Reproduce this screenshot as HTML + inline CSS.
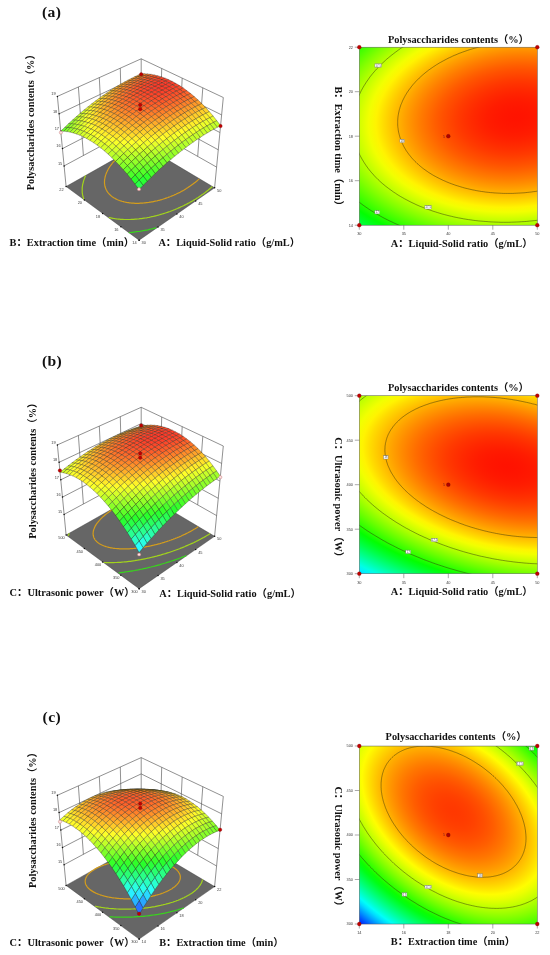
<!DOCTYPE html>
<html lang="en"><head><meta charset="utf-8"><title>Response surface and contour plots</title>
<style>html,body{margin:0;padding:0;background:#fff}svg{display:block}</style></head>
<body>
<svg width="550" height="955" viewBox="0 0 550 955">
<rect width="550" height="955" fill="#fff"/>
<text x="42.0" y="17.4" font-family="Liberation Serif, Noto Sans CJK SC, serif" font-weight="bold" font-size="15.6" letter-spacing="0.35" fill="#111">(a)</text>
<text x="42.0" y="365.7" font-family="Liberation Serif, Noto Sans CJK SC, serif" font-weight="bold" font-size="15.6" letter-spacing="0.35" fill="#111">(b)</text>
<text x="42.6" y="721.7" font-family="Liberation Serif, Noto Sans CJK SC, serif" font-weight="bold" font-size="15.6" letter-spacing="0.35" fill="#111">(c)</text>
<polygon points="57.4,96.4 141.2,58.8 223.3,97.5 214.6,187.8 141.2,144.1 66.1,186.5" fill="#fff" stroke="none"/>
<path d="M64.1,165.9L141.2,124.4L216.6,167.1M62.5,148.6L141.2,107.9L218.3,149.8M60.8,131.3L141.2,91.6L219.9,132.5M59.1,113.8L141.2,75.1L221.6,114.9M57.4,96.4L141.2,58.8L223.3,97.5M83.4,155.5L78.4,87.0M160.0,135.1L161.7,68.5M102.7,145.1L99.3,77.6M178.9,145.8L182.2,78.1M121.9,134.8L120.3,68.2M197.7,156.4L202.8,87.8M66.1,186.5L57.4,96.4M141.2,144.1L141.2,58.8M214.6,187.8L223.3,97.5" fill="none" stroke="#555" stroke-width="0.65"/>
<polygon points="66.1,186.5 141.2,144.1 214.6,187.8 139.1,240.2" fill="#666666" stroke="#333" stroke-width="0.4"/>
<polyline points="156.2,227.8 154.6,228.2 153.0,228.6 151.3,229.0 149.7,229.4 148.1,229.8 146.5,230.1 144.8,230.4 143.2,230.7 141.6,231.0 140.0,231.3 138.4,231.5 136.8,231.7 135.2,231.9 133.6,232.1 132.0,232.3 130.4,232.5 128.8,232.6" fill="none" stroke="#39d41c" stroke-width="1.2"/>
<polyline points="83.9,199.3 83.6,198.6 83.4,197.9 83.2,197.2 83.0,196.5 82.8,195.8 82.7,195.1 82.5,194.4 82.4,193.7 82.3,193.0 82.2,192.3 82.2,191.5 82.2,190.8 82.2,190.1 82.2,189.3 82.2,188.6 82.2,187.8 82.3,187.1 82.4,186.3 82.5,185.6 82.6,184.8 82.8,184.0 83.0,183.3 83.2,182.5 83.4,181.7 83.6,180.9 83.8,180.2 84.1,179.4 84.4,178.6 84.7,177.8 85.0,177.1 85.3,176.3 85.7,175.5" fill="none" stroke="#a2d41c" stroke-width="1.2"/>
<polyline points="212.3,186.5 211.5,187.3 210.6,188.0 209.7,188.8 208.9,189.5 208.0,190.3 207.0,191.0 206.1,191.7 205.2,192.5 204.2,193.2 203.2,193.9 202.3,194.6 201.3,195.3 200.2,196.0 199.2,196.7 198.2,197.4 197.1,198.1 196.0,198.8 195.0,199.4 193.9,200.1 192.8,200.8 191.7,201.4 190.5,202.0 189.4,202.7 188.2,203.3 187.1,203.9 185.9,204.5 184.7,205.1 183.5,205.7 182.3,206.3 181.1,206.8 179.9,207.4 178.7,207.9 177.5,208.5 176.2,209.0 175.0,209.5 173.7,210.0 172.5,210.5 171.2,211.0 169.9,211.5 168.6,211.9 167.4,212.4 166.1,212.8 164.8,213.2 163.5,213.6 162.2,214.0 160.9,214.4 159.6,214.8 158.3,215.2 157.0,215.5 155.7,215.8 154.4,216.1 153.1,216.5 151.8,216.7 150.5,217.0 149.2,217.3 147.9,217.5 146.6,217.8 145.3,218.0 144.0,218.2 142.7,218.4 141.4,218.6 140.1,218.7 138.9,218.9 137.6,219.0 136.3,219.1 135.1,219.2 133.8,219.3 132.6,219.4 131.3,219.4 130.1,219.5 128.9,219.5 127.7,219.5 126.5,219.5 125.3,219.5 124.1,219.5 122.9,219.4 121.8,219.4 120.6,219.3 119.5,219.2 118.3,219.1 117.2,219.0 116.1,218.8 115.0,218.7 113.9,218.5 112.9,218.3 111.8,218.1 110.8,217.9 109.8,217.7 108.7,217.5" fill="none" stroke="#a2d41c" stroke-width="1.2"/>
<polyline points="199.3,178.8 198.7,179.4 198.1,179.9 197.5,180.4 196.9,181.0 196.3,181.5 195.6,182.0 195.0,182.6 194.3,183.1 193.6,183.6 193.0,184.1 192.3,184.6 191.6,185.1 190.9,185.6 190.2,186.1 189.4,186.6 188.7,187.1 188.0,187.6 187.2,188.1 186.4,188.6 185.7,189.0 184.9,189.5 184.1,190.0 183.3,190.4 182.5,190.9 181.7,191.3 180.9,191.7 180.1,192.2 179.3,192.6 178.4,193.0 177.6,193.4 176.7,193.8 175.9,194.2 175.0,194.6 174.2,195.0 173.3,195.4 172.4,195.7 171.5,196.1 170.6,196.5 169.8,196.8 168.9,197.1 168.0,197.5 167.1,197.8 166.2,198.1 165.3,198.4 164.4,198.7 163.5,199.0 162.6,199.3 161.6,199.6 160.7,199.8 159.8,200.1 158.9,200.3 158.0,200.5 157.1,200.8 156.2,201.0 155.2,201.2 154.3,201.4 153.4,201.6 152.5,201.8 151.6,201.9 150.7,202.1 149.8,202.2 148.9,202.4 148.0,202.5 147.1,202.6 146.2,202.7 145.3,202.8 144.4,202.9 143.5,203.0 142.6,203.1 141.7,203.1 140.9,203.2 140.0,203.2 139.1,203.3 138.3,203.3 137.4,203.3 136.6,203.3 135.7,203.3 134.9,203.3 134.1,203.2 133.3,203.2 132.5,203.1 131.7,203.1 130.9,203.0 130.1,202.9 129.3,202.8 128.5,202.7 127.8,202.6 127.0,202.5 126.3,202.3 125.5,202.2 124.8,202.0 124.1,201.9 123.4,201.7 122.7,201.5 122.0,201.3 121.4,201.1 120.7,200.9 120.1,200.7 119.4,200.5 118.8,200.2 118.2,200.0 117.6,199.7 117.0,199.5 116.4,199.2 115.8,198.9 115.3,198.6 114.8,198.3 114.2,198.0 114.2,198.0 113.7,197.7 113.2,197.4 112.7,197.1 112.2,196.7 111.8,196.4 111.3,196.0 110.9,195.6 110.5,195.3 110.1,194.9 109.7,194.5 109.3,194.1 108.9,193.7 108.6,193.3 108.2,192.9 107.9,192.5 107.6,192.1 107.3,191.6 107.0,191.2 106.8,190.7 106.5,190.3 106.3,189.8 106.1,189.4 105.9,188.9 105.7,188.4 105.5,188.0 105.3,187.5 105.2,187.0 105.0,186.5 104.9,186.0 104.8,185.5 104.7,185.0 104.7,184.5 104.6,184.0 104.5,183.5 104.5,182.9 104.5,182.4 104.5,181.9 104.5,181.4 104.5,180.8 104.6,180.3 104.6,179.8 104.7,179.2 104.8,178.7 104.9,178.1 105.0,177.6 105.1,177.1 105.2,176.5 105.4,176.0 105.5,175.4 105.7,174.9 105.9,174.3 106.1,173.7 106.3,173.2 106.6,172.6 106.8,172.1 107.1,171.5 107.3,171.0 107.6,170.4 107.9,169.8 108.2,169.3 108.5,168.7 108.8,168.2 109.2,167.6 109.5,167.1 109.9,166.5 110.3,166.0 110.7,165.4 111.1,164.9 111.5,164.3 111.9,163.8 112.3,163.2 112.8,162.7 113.2,162.1 113.7,161.6 114.2,161.1 114.6,160.5 115.1,160.0 115.6,159.5 116.2,158.9 116.7,158.4 117.2,157.9 117.7,157.4" fill="none" stroke="#d49d1c" stroke-width="1.2"/>
<circle cx="64.1" cy="165.9" r="0.75" fill="#111"/>
<text x="60.1" y="164.6" font-family="Liberation Sans, sans-serif" font-size="3.9" fill="#3a3a3a" text-anchor="middle">15</text>
<circle cx="62.5" cy="148.6" r="0.75" fill="#111"/>
<text x="58.5" y="147.3" font-family="Liberation Sans, sans-serif" font-size="3.9" fill="#3a3a3a" text-anchor="middle">16</text>
<circle cx="60.8" cy="131.3" r="0.75" fill="#111"/>
<text x="56.8" y="130.0" font-family="Liberation Sans, sans-serif" font-size="3.9" fill="#3a3a3a" text-anchor="middle">17</text>
<circle cx="59.1" cy="113.8" r="0.75" fill="#111"/>
<text x="55.1" y="112.5" font-family="Liberation Sans, sans-serif" font-size="3.9" fill="#3a3a3a" text-anchor="middle">18</text>
<circle cx="57.4" cy="96.4" r="0.75" fill="#111"/>
<text x="53.4" y="95.1" font-family="Liberation Sans, sans-serif" font-size="3.9" fill="#3a3a3a" text-anchor="middle">19</text>
<circle cx="66.1" cy="186.5" r="0.75" fill="#111"/>
<text x="61.5" y="190.6" font-family="Liberation Sans, sans-serif" font-size="3.9" fill="#3a3a3a" text-anchor="middle">22</text>
<circle cx="84.4" cy="200.0" r="0.75" fill="#111"/>
<text x="79.8" y="204.1" font-family="Liberation Sans, sans-serif" font-size="3.9" fill="#3a3a3a" text-anchor="middle">20</text>
<circle cx="102.6" cy="213.4" r="0.75" fill="#111"/>
<text x="98.0" y="217.5" font-family="Liberation Sans, sans-serif" font-size="3.9" fill="#3a3a3a" text-anchor="middle">18</text>
<circle cx="120.9" cy="226.8" r="0.75" fill="#111"/>
<text x="116.3" y="230.9" font-family="Liberation Sans, sans-serif" font-size="3.9" fill="#3a3a3a" text-anchor="middle">16</text>
<circle cx="139.1" cy="240.2" r="0.75" fill="#111"/>
<text x="134.5" y="244.3" font-family="Liberation Sans, sans-serif" font-size="3.9" fill="#3a3a3a" text-anchor="middle">14</text>
<circle cx="139.1" cy="240.2" r="0.75" fill="#111"/>
<text x="143.7" y="244.3" font-family="Liberation Sans, sans-serif" font-size="3.9" fill="#3a3a3a" text-anchor="middle">30</text>
<circle cx="158.0" cy="227.1" r="0.75" fill="#111"/>
<text x="162.6" y="231.2" font-family="Liberation Sans, sans-serif" font-size="3.9" fill="#3a3a3a" text-anchor="middle">35</text>
<circle cx="176.9" cy="214.0" r="0.75" fill="#111"/>
<text x="181.5" y="218.1" font-family="Liberation Sans, sans-serif" font-size="3.9" fill="#3a3a3a" text-anchor="middle">40</text>
<circle cx="195.7" cy="200.9" r="0.75" fill="#111"/>
<text x="200.3" y="205.0" font-family="Liberation Sans, sans-serif" font-size="3.9" fill="#3a3a3a" text-anchor="middle">45</text>
<circle cx="214.6" cy="187.8" r="0.75" fill="#111"/>
<text x="219.2" y="191.9" font-family="Liberation Sans, sans-serif" font-size="3.9" fill="#3a3a3a" text-anchor="middle">50</text>
<g stroke="#262618" stroke-width="0.4" stroke-opacity="0.8" stroke-linejoin="round">
<path d="M141.1,75.3L144.5,73.8L141.2,73.9L137.8,75.3z" fill="#ffa029"/>
<path d="M137.7,76.9L141.1,75.3L137.8,75.3L134.4,76.9z" fill="#ff9f29"/>
<path d="M144.5,75.5L147.9,74.0L144.5,73.8L141.1,75.3z" fill="#ff8929"/>
<path d="M134.3,78.6L137.7,76.9L134.4,76.9L131.0,78.6z" fill="#ffa029"/>
<path d="M141.1,77.1L144.5,75.5L141.1,75.3L137.7,76.9z" fill="#ff8829"/>
<path d="M147.9,75.9L151.3,74.4L147.9,74.0L144.5,75.5z" fill="#ff7529"/>
<path d="M130.8,80.4L134.3,78.6L131.0,78.6L127.5,80.4z" fill="#ffa129"/>
<path d="M137.6,78.8L141.1,77.1L137.7,76.9L134.3,78.6z" fill="#ff8829"/>
<path d="M144.4,77.5L147.9,75.9L144.5,75.5L141.1,77.1z" fill="#ff7429"/>
<path d="M127.3,82.3L130.8,80.4L127.5,80.4L124.0,82.3z" fill="#ffa429"/>
<path d="M151.3,76.6L154.7,75.1L151.3,74.4L147.9,75.9z" fill="#ff6429"/>
<path d="M134.1,80.6L137.6,78.8L134.3,78.6L130.8,80.4z" fill="#ff8a29"/>
<path d="M141.0,79.2L144.4,77.5L141.1,77.1L137.6,78.8z" fill="#ff7429"/>
<path d="M123.8,84.3L127.3,82.3L124.0,82.3L120.5,84.3z" fill="#ffa829"/>
<path d="M147.9,78.2L151.3,76.6L147.9,75.9L144.4,77.5z" fill="#ff6229"/>
<path d="M154.7,77.4L158.1,75.9L154.7,75.1L151.3,76.6z" fill="#ff5629"/>
<path d="M130.6,82.5L134.1,80.6L130.8,80.4L127.3,82.3z" fill="#ff8c29"/>
<path d="M137.5,81.0L141.0,79.2L137.6,78.8L134.1,80.6z" fill="#ff7529"/>
<path d="M120.2,86.4L123.8,84.3L120.5,84.3L116.9,86.4z" fill="#ffae29"/>
<path d="M144.4,79.9L147.9,78.2L144.4,77.5L141.0,79.2z" fill="#ff6229"/>
<path d="M127.1,84.5L130.6,82.5L127.3,82.3L123.8,84.3z" fill="#ff9029"/>
<path d="M151.3,79.0L154.7,77.4L151.3,76.6L147.9,78.2z" fill="#ff5429"/>
<path d="M158.2,78.5L161.6,76.9L158.1,75.9L154.7,77.4z" fill="#ff4b29"/>
<path d="M116.6,88.6L120.2,86.4L116.9,86.4L113.4,88.6z" fill="#ffb429"/>
<path d="M134.0,82.9L137.5,81.0L134.1,80.6L130.6,82.5z" fill="#ff7829"/>
<path d="M140.9,81.7L144.4,79.9L141.0,79.2L137.5,81.0z" fill="#ff6429"/>
<path d="M123.5,86.6L127.1,84.5L123.8,84.3L120.2,86.4z" fill="#ff9629"/>
<path d="M147.8,80.7L151.3,79.0L147.9,78.2L144.4,79.9z" fill="#ff5429"/>
<path d="M113.0,90.9L116.6,88.6L113.4,88.6L109.8,90.9z" fill="#ffbc29"/>
<path d="M154.8,80.1L158.2,78.5L154.7,77.4L151.3,79.0z" fill="#ff4929"/>
<path d="M130.4,84.9L134.0,82.9L130.6,82.5L127.1,84.5z" fill="#ff7c29"/>
<path d="M161.8,79.7L165.2,78.2L161.6,76.9L158.2,78.5z" fill="#ff4329"/>
<path d="M137.4,83.6L140.9,81.7L137.5,81.0L134.0,82.9z" fill="#ff6629"/>
<path d="M119.9,88.8L123.5,86.6L120.2,86.4L116.6,88.6z" fill="#ff9c29"/>
<path d="M144.3,82.5L147.8,80.7L144.4,79.9L140.9,81.7z" fill="#ff5529"/>
<path d="M109.3,93.3L113.0,90.9L109.8,90.9L106.1,93.4z" fill="#ffc629"/>
<path d="M151.3,81.8L154.8,80.1L151.3,79.0L147.8,80.7z" fill="#ff4929"/>
<path d="M126.8,87.0L130.4,84.9L127.1,84.5L123.5,86.6z" fill="#ff8129"/>
<path d="M158.3,81.3L161.8,79.7L158.2,78.5L154.8,80.1z" fill="#ff4129"/>
<path d="M165.3,81.2L168.7,79.7L165.2,78.2L161.8,79.7z" fill="#ff3e29"/>
<path d="M116.2,91.1L119.9,88.8L116.6,88.6L113.0,90.9z" fill="#ffa429"/>
<path d="M133.8,85.6L137.4,83.6L134.0,82.9L130.4,84.9z" fill="#ff6a29"/>
<path d="M105.6,95.8L109.3,93.3L106.1,93.4L102.5,95.9z" fill="#ffd029"/>
<path d="M140.8,84.4L144.3,82.5L140.9,81.7L137.4,83.6z" fill="#ff5729"/>
<path d="M123.2,89.3L126.8,87.0L123.5,86.6L119.9,88.8z" fill="#ff8729"/>
<path d="M147.8,83.6L151.3,81.8L147.8,80.7L144.3,82.5z" fill="#ff4a29"/>
<path d="M154.9,83.1L158.3,81.3L154.8,80.1L151.3,81.8z" fill="#ff4129"/>
<path d="M112.6,93.5L116.2,91.1L113.0,90.9L109.3,93.3z" fill="#ffad29"/>
<path d="M161.9,82.9L165.3,81.2L161.8,79.7L158.3,81.3z" fill="#ff3c29"/>
<path d="M168.9,83.0L172.3,81.4L168.7,79.7L165.3,81.2z" fill="#ff3c29"/>
<path d="M130.2,87.7L133.8,85.6L130.4,84.9L126.8,87.0z" fill="#ff6f29"/>
<path d="M101.9,98.5L105.6,95.8L102.5,95.9L98.8,98.5z" fill="#ffdc29"/>
<path d="M137.2,86.4L140.8,84.4L137.4,83.6L133.8,85.6z" fill="#ff5b29"/>
<path d="M119.6,91.6L123.2,89.3L119.9,88.8L116.2,91.1z" fill="#ff8f29"/>
<path d="M144.3,85.5L147.8,83.6L144.3,82.5L140.8,84.4z" fill="#ff4c29"/>
<path d="M108.9,96.1L112.6,93.5L109.3,93.3L105.6,95.8z" fill="#ffb729"/>
<path d="M151.3,84.9L154.9,83.1L151.3,81.8L147.8,83.6z" fill="#ff4129"/>
<path d="M126.6,89.9L130.2,87.7L126.8,87.0L123.2,89.3z" fill="#ff7529"/>
<path d="M98.2,101.3L101.9,98.5L98.8,98.5L95.1,101.3z" fill="#ffe929"/>
<path d="M158.4,84.6L161.9,82.9L158.3,81.3L154.9,83.1z" fill="#ff3b29"/>
<path d="M172.5,84.9L175.9,83.4L172.3,81.4L168.9,83.0z" fill="#ff3d29"/>
<path d="M165.5,84.6L168.9,83.0L165.3,81.2L161.9,82.9z" fill="#ff3a29"/>
<path d="M133.6,88.6L137.2,86.4L133.8,85.6L130.2,87.7z" fill="#ff6029"/>
<path d="M115.9,94.0L119.6,91.6L116.2,91.1L112.6,93.5z" fill="#ff9829"/>
<path d="M140.7,87.5L144.3,85.5L140.8,84.4L137.2,86.4z" fill="#ff4f29"/>
<path d="M105.2,98.7L108.9,96.1L105.6,95.8L101.9,98.5z" fill="#ffc329"/>
<path d="M94.5,104.2L98.2,101.3L95.1,101.3L91.3,104.2z" fill="#fff729"/>
<path d="M122.9,92.2L126.6,89.9L123.2,89.3L119.6,91.6z" fill="#ff7d29"/>
<path d="M147.8,86.8L151.3,84.9L147.8,83.6L144.3,85.5z" fill="#ff4329"/>
<path d="M176.2,87.1L179.6,85.6L175.9,83.4L172.5,84.9z" fill="#ff4229"/>
<path d="M154.9,86.4L158.4,84.6L154.9,83.1L151.3,84.9z" fill="#ff3c29"/>
<path d="M169.1,86.6L172.5,84.9L168.9,83.0L165.5,84.6z" fill="#ff3b29"/>
<path d="M162.0,86.3L165.5,84.6L161.9,82.9L158.4,84.6z" fill="#ff3929"/>
<path d="M112.2,96.5L115.9,94.0L112.6,93.5L108.9,96.1z" fill="#ffa229"/>
<path d="M130.0,90.8L133.6,88.6L130.2,87.7L126.6,89.9z" fill="#ff6629"/>
<path d="M101.4,101.5L105.2,98.7L101.9,98.5L98.2,101.3z" fill="#ffd029"/>
<path d="M90.7,107.1L94.5,104.2L91.3,104.2L87.6,107.2z" fill="#f8ff29"/>
<path d="M137.1,89.7L140.7,87.5L137.2,86.4L133.6,88.6z" fill="#ff5429"/>
<path d="M119.2,94.7L122.9,92.2L119.6,91.6L115.9,94.0z" fill="#ff8529"/>
<path d="M144.2,88.8L147.8,86.8L144.3,85.5L140.7,87.5z" fill="#ff4729"/>
<path d="M179.9,89.6L183.3,88.0L179.6,85.6L176.2,87.1z" fill="#ff4929"/>
<path d="M151.4,88.3L154.9,86.4L151.3,84.9L147.8,86.8z" fill="#ff3e29"/>
<path d="M108.5,99.2L112.2,96.5L108.9,96.1L105.2,98.7z" fill="#ffad29"/>
<path d="M172.8,88.8L176.2,87.1L172.5,84.9L169.1,86.6z" fill="#ff4029"/>
<path d="M158.5,88.2L162.0,86.3L158.4,84.6L154.9,86.4z" fill="#ff3a29"/>
<path d="M165.6,88.3L169.1,86.6L165.5,84.6L162.0,86.3z" fill="#ff3a29"/>
<path d="M126.3,93.1L130.0,90.8L126.6,89.9L122.9,92.2z" fill="#ff6d29"/>
<path d="M86.9,110.3L90.7,107.1L87.6,107.2L83.8,110.2z" fill="#e7ff29"/>
<path d="M97.7,104.4L101.4,101.5L98.2,101.3L94.5,104.2z" fill="#ffde29"/>
<path d="M133.5,91.9L137.1,89.7L133.6,88.6L130.0,90.8z" fill="#ff5a29"/>
<path d="M115.5,97.2L119.2,94.7L115.9,94.0L112.2,96.5z" fill="#ff8f29"/>
<path d="M140.6,91.0L144.2,88.8L140.7,87.5L137.1,89.7z" fill="#ff4b29"/>
<path d="M183.6,92.2L186.9,90.7L183.3,88.0L179.9,89.6z" fill="#ff5429"/>
<path d="M104.7,101.9L108.5,99.2L105.2,98.7L101.4,101.5z" fill="#ffba29"/>
<path d="M83.1,113.5L86.9,110.3L83.8,110.2L80.0,113.4z" fill="#d5ff29"/>
<path d="M93.9,107.4L97.7,104.4L94.5,104.2L90.7,107.1z" fill="#ffed29"/>
<path d="M147.8,90.4L151.4,88.3L147.8,86.8L144.2,88.8z" fill="#ff4129"/>
<path d="M176.4,91.2L179.9,89.6L176.2,87.1L172.8,88.8z" fill="#ff4729"/>
<path d="M122.6,95.6L126.3,93.1L122.9,92.2L119.2,94.7z" fill="#ff7629"/>
<path d="M155.0,90.1L158.5,88.2L154.9,86.4L151.4,88.3z" fill="#ff3c29"/>
<path d="M169.3,90.5L172.8,88.8L169.1,86.6L165.6,88.3z" fill="#ff3f29"/>
<path d="M162.1,90.2L165.6,88.3L162.0,86.3L158.5,88.2z" fill="#ff3b29"/>
<path d="M129.8,94.2L133.5,91.9L130.0,90.8L126.3,93.1z" fill="#ff6129"/>
<path d="M111.8,99.9L115.5,97.2L112.2,96.5L108.5,99.2z" fill="#ff9b29"/>
<path d="M79.3,116.8L83.1,113.5L80.0,113.4L76.2,116.8z" fill="#c2ff29"/>
<path d="M187.3,95.1L190.6,93.5L186.9,90.7L183.6,92.2z" fill="#ff6129"/>
<path d="M100.9,104.8L104.7,101.9L101.4,101.5L97.7,104.4z" fill="#ffc829"/>
<path d="M137.0,93.2L140.6,91.0L137.1,89.7L133.5,91.9z" fill="#ff5129"/>
<path d="M90.1,110.5L93.9,107.4L90.7,107.1L86.9,110.3z" fill="#fffe29"/>
<path d="M180.1,93.9L183.6,92.2L179.9,89.6L176.4,91.2z" fill="#ff5129"/>
<path d="M118.9,98.1L122.6,95.6L119.2,94.7L115.5,97.2z" fill="#ff8029"/>
<path d="M144.2,92.5L147.8,90.4L144.2,88.8L140.6,91.0z" fill="#ff4629"/>
<path d="M173.0,93.0L176.4,91.2L172.8,88.8L169.3,90.5z" fill="#ff4629"/>
<path d="M151.4,92.2L155.0,90.1L151.4,88.3L147.8,90.4z" fill="#ff3f29"/>
<path d="M165.8,92.4L169.3,90.5L165.6,88.3L162.1,90.2z" fill="#ff3f29"/>
<path d="M158.6,92.1L162.1,90.2L158.5,88.2L155.0,90.1z" fill="#ff3d29"/>
<path d="M108.0,102.6L111.8,99.9L108.5,99.2L104.7,101.9z" fill="#ffa729"/>
<path d="M75.4,120.2L79.3,116.8L76.2,116.8L72.4,120.2z" fill="#adff29"/>
<path d="M126.1,96.7L129.8,94.2L126.3,93.1L122.6,95.6z" fill="#ff6a29"/>
<path d="M97.1,107.8L100.9,104.8L97.7,104.4L93.9,107.4z" fill="#ffd729"/>
<path d="M191.0,98.2L194.4,96.7L190.6,93.5L187.3,95.1z" fill="#ff7229"/>
<path d="M86.3,113.7L90.1,110.5L86.9,110.3L83.1,113.5z" fill="#eeff29"/>
<path d="M133.3,95.6L137.0,93.2L133.5,91.9L129.8,94.2z" fill="#ff5829"/>
<path d="M183.9,96.8L187.3,95.1L183.6,92.2L180.1,93.9z" fill="#ff5f29"/>
<path d="M115.2,100.8L118.9,98.1L115.5,97.2L111.8,99.9z" fill="#ff8b29"/>
<path d="M140.5,94.8L144.2,92.5L140.6,91.0L137.0,93.2z" fill="#ff4b29"/>
<path d="M71.6,123.8L75.4,120.2L72.4,120.2L68.5,123.7z" fill="#97ff29"/>
<path d="M176.7,95.7L180.1,93.9L176.4,91.2L173.0,93.0z" fill="#ff5029"/>
<path d="M147.8,94.3L151.4,92.2L147.8,90.4L144.2,92.5z" fill="#ff4329"/>
<path d="M104.2,105.5L108.0,102.6L104.7,101.9L100.9,104.8z" fill="#ffb529"/>
<path d="M169.5,94.8L173.0,93.0L169.3,90.5L165.8,92.4z" fill="#ff4629"/>
<path d="M82.4,117.0L86.3,113.7L83.1,113.5L79.3,116.8z" fill="#dbff29"/>
<path d="M155.0,94.2L158.6,92.1L155.0,90.1L151.4,92.2z" fill="#ff3f29"/>
<path d="M162.2,94.3L165.8,92.4L162.1,90.2L158.6,92.1z" fill="#ff4029"/>
<path d="M194.7,101.6L198.1,100.0L194.4,96.7L191.0,98.2z" fill="#ff8629"/>
<path d="M93.3,110.9L97.1,107.8L93.9,107.4L90.1,110.5z" fill="#ffe829"/>
<path d="M122.4,99.3L126.1,96.7L122.6,95.6L118.9,98.1z" fill="#ff7429"/>
<path d="M187.6,99.9L191.0,98.2L187.3,95.1L183.9,96.8z" fill="#ff6f29"/>
<path d="M129.6,98.0L133.3,95.6L129.8,94.2L126.1,96.7z" fill="#ff6129"/>
<path d="M67.7,127.4L71.6,123.8L68.5,123.7L64.7,127.4z" fill="#80ff29"/>
<path d="M111.4,103.5L115.2,100.8L111.8,99.9L108.0,102.6z" fill="#ff9829"/>
<path d="M180.4,98.6L183.9,96.8L180.1,93.9L176.7,95.7z" fill="#ff5d29"/>
<path d="M136.8,97.1L140.5,94.8L137.0,93.2L133.3,95.6z" fill="#ff5229"/>
<path d="M78.5,120.5L82.4,117.0L79.3,116.8L75.4,120.2z" fill="#c7ff29"/>
<path d="M100.4,108.5L104.2,105.5L100.9,104.8L97.1,107.8z" fill="#ffc429"/>
<path d="M198.5,105.2L201.8,103.6L198.1,100.0L194.7,101.6z" fill="#ff9c29"/>
<path d="M89.5,114.2L93.3,110.9L90.1,110.5L86.3,113.7z" fill="#fff929"/>
<path d="M173.2,97.5L176.7,95.7L173.0,93.0L169.5,94.8z" fill="#ff5029"/>
<path d="M144.1,96.6L147.8,94.3L144.2,92.5L140.5,94.8z" fill="#ff4929"/>
<path d="M118.6,101.9L122.4,99.3L118.9,98.1L115.2,100.8z" fill="#ff7f29"/>
<path d="M165.9,96.8L169.5,94.8L165.8,92.4L162.2,94.3z" fill="#ff4729"/>
<path d="M151.4,96.3L155.0,94.2L151.4,92.2L147.8,94.3z" fill="#ff4429"/>
<path d="M158.7,96.4L162.2,94.3L158.6,92.1L155.0,94.2z" fill="#ff4329"/>
<path d="M63.8,131.2L67.7,127.4L64.7,127.4L60.8,131.1z" fill="#68ff29"/>
<path d="M191.3,103.3L194.7,101.6L191.0,98.2L187.6,99.9z" fill="#ff8329"/>
<path d="M107.6,106.4L111.4,103.5L108.0,102.6L104.2,105.5z" fill="#ffa529"/>
<path d="M125.9,100.6L129.6,98.0L126.1,96.7L122.4,99.3z" fill="#ff6a29"/>
<path d="M74.6,124.1L78.5,120.5L75.4,120.2L71.6,123.8z" fill="#b1ff29"/>
<path d="M202.3,109.1L205.6,107.5L201.8,103.6L198.5,105.2z" fill="#ffb629"/>
<path d="M96.6,111.6L100.4,108.5L97.1,107.8L93.3,110.9z" fill="#ffd529"/>
<path d="M184.1,101.7L187.6,99.9L183.9,96.8L180.4,98.6z" fill="#ff6e29"/>
<path d="M85.6,117.5L89.5,114.2L86.3,113.7L82.4,117.0z" fill="#f2ff29"/>
<path d="M133.1,99.6L136.8,97.1L133.3,95.6L129.6,98.0z" fill="#ff5b29"/>
<path d="M176.9,100.5L180.4,98.6L176.7,95.7L173.2,97.5z" fill="#ff5d29"/>
<path d="M114.8,104.7L118.6,101.9L115.2,100.8L111.4,103.5z" fill="#ff8b29"/>
<path d="M140.4,99.0L144.1,96.6L140.5,94.8L136.8,97.1z" fill="#ff5029"/>
<path d="M195.1,106.9L198.5,105.2L194.7,101.6L191.3,103.3z" fill="#ff9929"/>
<path d="M169.6,99.5L173.2,97.5L169.5,94.8L165.9,96.8z" fill="#ff5129"/>
<path d="M206.0,113.3L209.3,111.6L205.6,107.5L202.3,109.1z" fill="#ffd329"/>
<path d="M147.7,98.6L151.4,96.3L147.8,94.3L144.1,96.6z" fill="#ff4929"/>
<path d="M162.3,98.9L165.9,96.8L162.2,94.3L158.7,96.4z" fill="#ff4a29"/>
<path d="M70.7,127.7L74.6,124.1L71.6,123.8L67.7,127.4z" fill="#9aff29"/>
<path d="M155.0,98.6L158.7,96.4L155.0,94.2L151.4,96.3z" fill="#ff4729"/>
<path d="M103.8,109.4L107.6,106.4L104.2,105.5L100.4,108.5z" fill="#ffb429"/>
<path d="M122.1,103.3L125.9,100.6L122.4,99.3L118.6,101.9z" fill="#ff7529"/>
<path d="M81.7,121.0L85.6,117.5L82.4,117.0L78.5,120.5z" fill="#ddff29"/>
<path d="M92.7,114.9L96.6,111.6L93.3,110.9L89.5,114.2z" fill="#ffe629"/>
<path d="M187.9,105.1L191.3,103.3L187.6,99.9L184.1,101.7z" fill="#ff8129"/>
<path d="M209.8,117.7L213.1,116.0L209.3,111.6L206.0,113.3z" fill="#fff329"/>
<path d="M129.4,102.2L133.1,99.6L129.6,98.0L125.9,100.6z" fill="#ff6429"/>
<path d="M198.9,110.8L202.3,109.1L198.5,105.2L195.1,106.9z" fill="#ffb329"/>
<path d="M180.6,103.6L184.1,101.7L180.4,98.6L176.9,100.5z" fill="#ff6d29"/>
<path d="M111.0,107.6L114.8,104.7L111.4,103.5L107.6,106.4z" fill="#ff9929"/>
<path d="M66.8,131.5L70.7,127.7L67.7,127.4L63.8,131.2z" fill="#82ff29"/>
<path d="M136.7,101.4L140.4,99.0L136.8,97.1L133.1,99.6z" fill="#ff5829"/>
<path d="M173.4,102.5L176.9,100.5L173.2,97.5L169.6,99.5z" fill="#ff5e29"/>
<path d="M99.9,112.5L103.8,109.4L100.4,108.5L96.6,111.6z" fill="#ffc429"/>
<path d="M77.8,124.6L81.7,121.0L78.5,120.5L74.6,124.1z" fill="#c8ff29"/>
<path d="M144.0,101.0L147.7,98.6L144.1,96.6L140.4,99.0z" fill="#ff5029"/>
<path d="M213.5,122.4L216.8,120.7L213.1,116.0L209.8,117.7z" fill="#e8ff29"/>
<path d="M166.1,101.6L169.6,99.5L165.9,96.8L162.3,98.9z" fill="#ff5429"/>
<path d="M191.7,108.8L195.1,106.9L191.3,103.3L187.9,105.1z" fill="#ff9729"/>
<path d="M88.8,118.2L92.7,114.9L89.5,114.2L85.6,117.5z" fill="#fff929"/>
<path d="M151.4,100.9L155.0,98.6L151.4,96.3L147.7,98.6z" fill="#ff4d29"/>
<path d="M158.7,101.1L162.3,98.9L158.7,96.4L155.0,98.6z" fill="#ff4e29"/>
<path d="M118.3,106.1L122.1,103.3L118.6,101.9L114.8,104.7z" fill="#ff8129"/>
<path d="M202.6,115.0L206.0,113.3L202.3,109.1L198.9,110.8z" fill="#ffd029"/>
<path d="M184.4,107.0L187.9,105.1L184.1,101.7L180.6,103.6z" fill="#ff8129"/>
<path d="M217.3,127.3L220.6,125.6L216.8,120.7L213.5,122.4z" fill="#c2ff29"/>
<path d="M125.6,104.9L129.4,102.2L125.9,100.6L122.1,103.3z" fill="#ff6f29"/>
<path d="M107.2,110.6L111.0,107.6L107.6,106.4L103.8,109.4z" fill="#ffa729"/>
<path d="M73.9,128.3L77.8,124.6L74.6,124.1L70.7,127.7z" fill="#b1ff29"/>
<path d="M195.5,112.6L198.9,110.8L195.1,106.9L191.7,108.8z" fill="#ffb129"/>
<path d="M177.1,105.6L180.6,103.6L176.9,100.5L173.4,102.5z" fill="#ff6e29"/>
<path d="M206.4,119.4L209.8,117.7L206.0,113.3L202.6,115.0z" fill="#ffef29"/>
<path d="M96.0,115.8L99.9,112.5L96.6,111.6L92.7,114.9z" fill="#ffd629"/>
<path d="M133.0,104.0L136.7,101.4L133.1,99.6L129.4,102.2z" fill="#ff6129"/>
<path d="M84.9,121.7L88.8,118.2L85.6,117.5L81.7,121.0z" fill="#f1ff29"/>
<path d="M169.8,104.6L173.4,102.5L169.6,99.5L166.1,101.6z" fill="#ff6129"/>
<path d="M140.3,103.5L144.0,101.0L140.4,99.0L136.7,101.4z" fill="#ff5829"/>
<path d="M114.5,109.0L118.3,106.1L114.8,104.7L111.0,107.6z" fill="#ff8f29"/>
<path d="M162.4,103.8L166.1,101.6L162.3,98.9L158.7,101.1z" fill="#ff5729"/>
<path d="M147.7,103.3L151.4,100.9L147.7,98.6L144.0,101.0z" fill="#ff5329"/>
<path d="M155.1,103.4L158.7,101.1L155.0,98.6L151.4,100.9z" fill="#ff5329"/>
<path d="M188.2,110.7L191.7,108.8L187.9,105.1L184.4,107.0z" fill="#ff9729"/>
<path d="M210.2,124.1L213.5,122.4L209.8,117.7L206.4,119.4z" fill="#ecff29"/>
<path d="M69.9,132.1L73.9,128.3L70.7,127.7L66.8,131.5z" fill="#99ff29"/>
<path d="M199.2,116.9L202.6,115.0L198.9,110.8L195.5,112.6z" fill="#ffce29"/>
<path d="M103.3,113.7L107.2,110.6L103.8,109.4L99.9,112.5z" fill="#ffb729"/>
<path d="M121.8,107.7L125.6,104.9L122.1,103.3L118.3,106.1z" fill="#ff7b29"/>
<path d="M81.0,125.3L84.9,121.7L81.7,121.0L77.8,124.6z" fill="#dcff29"/>
<path d="M92.2,119.2L96.0,115.8L92.7,114.9L88.8,118.2z" fill="#ffe929"/>
<path d="M180.9,109.1L184.4,107.0L180.6,103.6L177.1,105.6z" fill="#ff8129"/>
<path d="M214.0,129.1L217.3,127.3L213.5,122.4L210.2,124.1z" fill="#c6ff29"/>
<path d="M129.2,106.7L133.0,104.0L129.4,102.2L125.6,104.9z" fill="#ff6c29"/>
<path d="M173.5,107.8L177.1,105.6L173.4,102.5L169.8,104.6z" fill="#ff7129"/>
<path d="M110.6,112.0L114.5,109.0L111.0,107.6L107.2,110.6z" fill="#ff9e29"/>
<path d="M192.0,114.6L195.5,112.6L191.7,108.8L188.2,110.7z" fill="#ffb029"/>
<path d="M203.0,121.3L206.4,119.4L202.6,115.0L199.2,116.9z" fill="#ffed29"/>
<path d="M136.6,106.1L140.3,103.5L136.7,101.4L133.0,104.0z" fill="#ff6129"/>
<path d="M166.2,106.8L169.8,104.6L166.1,101.6L162.4,103.8z" fill="#ff6429"/>
<path d="M144.0,105.8L147.7,103.3L144.0,101.0L140.3,103.5z" fill="#ff5b29"/>
<path d="M158.8,106.1L162.4,103.8L158.7,101.1L155.1,103.4z" fill="#ff5d29"/>
<path d="M151.4,105.8L155.1,103.4L151.4,100.9L147.7,103.3z" fill="#ff5929"/>
<path d="M99.4,117.0L103.3,113.7L99.9,112.5L96.0,115.8z" fill="#ffc929"/>
<path d="M77.1,129.0L81.0,125.3L77.8,124.6L73.9,128.3z" fill="#c5ff29"/>
<path d="M88.2,122.7L92.2,119.2L88.8,118.2L84.9,121.7z" fill="#fffd29"/>
<path d="M118.0,110.6L121.8,107.7L118.3,106.1L114.5,109.0z" fill="#ff8829"/>
<path d="M184.7,112.7L188.2,110.7L184.4,107.0L180.9,109.1z" fill="#ff9829"/>
<path d="M206.8,126.0L210.2,124.1L206.4,119.4L203.0,121.3z" fill="#eeff29"/>
<path d="M195.8,118.8L199.2,116.9L195.5,112.6L192.0,114.6z" fill="#ffcd29"/>
<path d="M125.4,109.6L129.2,106.7L125.6,104.9L121.8,107.7z" fill="#ff7829"/>
<path d="M177.3,111.2L180.9,109.1L177.1,105.6L173.5,107.8z" fill="#ff8429"/>
<path d="M106.8,115.1L110.6,112.0L107.2,110.6L103.3,113.7z" fill="#ffad29"/>
<path d="M210.6,131.0L214.0,129.1L210.2,124.1L206.8,126.0z" fill="#c8ff29"/>
<path d="M73.1,132.9L77.1,129.0L73.9,128.3L69.9,132.1z" fill="#adff29"/>
<path d="M132.8,108.8L136.6,106.1L133.0,104.0L129.2,106.7z" fill="#ff6b29"/>
<path d="M169.9,110.0L173.5,107.8L169.8,104.6L166.2,106.8z" fill="#ff7429"/>
<path d="M95.5,120.4L99.4,117.0L96.0,115.8L92.2,119.2z" fill="#ffdb29"/>
<path d="M84.3,126.3L88.2,122.7L84.9,121.7L81.0,125.3z" fill="#ecff29"/>
<path d="M188.5,116.6L192.0,114.6L188.2,110.7L184.7,112.7z" fill="#ffb129"/>
<path d="M140.2,108.4L144.0,105.8L140.3,103.5L136.6,106.1z" fill="#ff6429"/>
<path d="M162.5,109.1L166.2,106.8L162.4,103.8L158.8,106.1z" fill="#ff6929"/>
<path d="M199.6,123.3L203.0,121.3L199.2,116.9L195.8,118.8z" fill="#ffec29"/>
<path d="M147.7,108.3L151.4,105.8L147.7,103.3L144.0,105.8z" fill="#ff6129"/>
<path d="M155.1,108.5L158.8,106.1L155.1,103.4L151.4,105.8z" fill="#ff6329"/>
<path d="M114.1,113.6L118.0,110.6L114.5,109.0L110.6,112.0z" fill="#ff9729"/>
<path d="M181.1,114.9L184.7,112.7L180.9,109.1L177.3,111.2z" fill="#ff9a29"/>
<path d="M102.9,118.4L106.8,115.1L103.3,113.7L99.4,117.0z" fill="#ffbf29"/>
<path d="M121.5,112.5L125.4,109.6L121.8,107.7L118.0,110.6z" fill="#ff8529"/>
<path d="M203.4,128.0L206.8,126.0L203.0,121.3L199.6,123.3z" fill="#efff29"/>
<path d="M192.3,120.9L195.8,118.8L192.0,114.6L188.5,116.6z" fill="#ffcd29"/>
<path d="M80.3,130.0L84.3,126.3L81.0,125.3L77.1,129.0z" fill="#d6ff29"/>
<path d="M91.6,123.9L95.5,120.4L92.2,119.2L88.2,122.7z" fill="#ffef29"/>
<path d="M173.7,113.5L177.3,111.2L173.5,107.8L169.9,110.0z" fill="#ff8729"/>
<path d="M129.0,111.6L132.8,108.8L129.2,106.7L125.4,109.6z" fill="#ff7729"/>
<path d="M166.3,112.3L169.9,110.0L166.2,106.8L162.5,109.1z" fill="#ff7929"/>
<path d="M207.2,133.0L210.6,131.0L206.8,126.0L203.4,128.0z" fill="#c9ff29"/>
<path d="M136.4,111.1L140.2,108.4L136.6,106.1L132.8,108.8z" fill="#ff6e29"/>
<path d="M110.2,116.8L114.1,113.6L110.6,112.0L106.8,115.1z" fill="#ffa729"/>
<path d="M158.8,111.5L162.5,109.1L158.8,106.1L155.1,108.5z" fill="#ff6f29"/>
<path d="M184.9,118.8L188.5,116.6L184.7,112.7L181.1,114.9z" fill="#ffb329"/>
<path d="M143.9,110.9L147.7,108.3L144.0,105.8L140.2,108.4z" fill="#ff6a29"/>
<path d="M151.4,111.1L155.1,108.5L151.4,105.8L147.7,108.3z" fill="#ff6a29"/>
<path d="M196.1,125.4L199.6,123.3L195.8,118.8L192.3,120.9z" fill="#ffed29"/>
<path d="M98.9,121.8L102.9,118.4L99.4,117.0L95.5,120.4z" fill="#ffd129"/>
<path d="M76.4,133.9L80.3,130.0L77.1,129.0L73.1,132.9z" fill="#beff29"/>
<path d="M117.7,115.5L121.5,112.5L118.0,110.6L114.1,113.6z" fill="#ff9329"/>
<path d="M87.6,127.5L91.6,123.9L88.2,122.7L84.3,126.3z" fill="#faff29"/>
<path d="M177.5,117.2L181.1,114.9L177.3,111.2L173.7,113.5z" fill="#ff9d29"/>
<path d="M199.9,130.1L203.4,128.0L199.6,123.3L196.1,125.4z" fill="#efff29"/>
<path d="M125.1,114.6L129.0,111.6L125.4,109.6L121.5,112.5z" fill="#ff8429"/>
<path d="M188.7,123.1L192.3,120.9L188.5,116.6L184.9,118.8z" fill="#ffcf29"/>
<path d="M170.1,115.8L173.7,113.5L169.9,110.0L166.3,112.3z" fill="#ff8c29"/>
<path d="M106.3,120.0L110.2,116.8L106.8,115.1L102.9,118.4z" fill="#ffb829"/>
<path d="M132.6,114.0L136.4,111.1L132.8,108.8L129.0,111.6z" fill="#ff7a29"/>
<path d="M162.6,114.8L166.3,112.3L162.5,109.1L158.8,111.5z" fill="#ff7f29"/>
<path d="M95.0,125.3L98.9,121.8L95.5,120.4L91.6,123.9z" fill="#ffe529"/>
<path d="M140.1,113.7L143.9,110.9L140.2,108.4L136.4,111.1z" fill="#ff7429"/>
<path d="M155.1,114.1L158.8,111.5L155.1,108.5L151.4,111.1z" fill="#ff7729"/>
<path d="M147.6,113.7L151.4,111.1L147.7,108.3L143.9,110.9z" fill="#ff7329"/>
<path d="M83.7,131.3L87.6,127.5L84.3,126.3L80.3,130.0z" fill="#e3ff29"/>
<path d="M203.7,135.1L207.2,133.0L203.4,128.0L199.9,130.1z" fill="#c9ff29"/>
<path d="M181.3,121.1L184.9,118.8L181.1,114.9L177.5,117.2z" fill="#ffb629"/>
<path d="M113.8,118.7L117.7,115.5L114.1,113.6L110.2,116.8z" fill="#ffa329"/>
<path d="M192.6,127.6L196.1,125.4L192.3,120.9L188.7,123.1z" fill="#ffee29"/>
<path d="M173.9,119.5L177.5,117.2L173.7,113.5L170.1,115.8z" fill="#ffa129"/>
<path d="M121.3,117.6L125.1,114.6L121.5,112.5L117.7,115.5z" fill="#ff9229"/>
<path d="M102.4,123.5L106.3,120.0L102.9,118.4L98.9,121.8z" fill="#ffca29"/>
<path d="M166.4,118.3L170.1,115.8L166.3,112.3L162.6,114.8z" fill="#ff9129"/>
<path d="M91.0,129.0L95.0,125.3L91.6,123.9L87.6,127.5z" fill="#fffa29"/>
<path d="M196.4,132.4L199.9,130.1L196.1,125.4L192.6,127.6z" fill="#edff29"/>
<path d="M79.7,135.1L83.7,131.3L80.3,130.0L76.4,133.9z" fill="#ccff29"/>
<path d="M185.2,125.4L188.7,123.1L184.9,118.8L181.3,121.1z" fill="#ffd229"/>
<path d="M128.8,116.9L132.6,114.0L129.0,111.6L125.1,114.6z" fill="#ff8729"/>
<path d="M158.9,117.4L162.6,114.8L158.8,111.5L155.1,114.1z" fill="#ff8629"/>
<path d="M136.3,116.5L140.1,113.7L136.4,111.1L132.6,114.0z" fill="#ff8029"/>
<path d="M151.4,116.8L155.1,114.1L151.4,111.1L147.6,113.7z" fill="#ff7f29"/>
<path d="M143.8,116.5L147.6,113.7L143.9,110.9L140.1,113.7z" fill="#ff7d29"/>
<path d="M109.9,122.0L113.8,118.7L110.2,116.8L106.3,120.0z" fill="#ffb429"/>
<path d="M177.7,123.5L181.3,121.1L177.5,117.2L173.9,119.5z" fill="#ffba29"/>
<path d="M200.2,137.4L203.7,135.1L199.9,130.1L196.4,132.4z" fill="#c8ff29"/>
<path d="M98.4,127.0L102.4,123.5L98.9,121.8L95.0,125.3z" fill="#ffdd29"/>
<path d="M189.0,129.9L192.6,127.6L188.7,123.1L185.2,125.4z" fill="#fff129"/>
<path d="M117.4,120.8L121.3,117.6L117.7,115.5L113.8,118.7z" fill="#ffa229"/>
<path d="M87.0,132.8L91.0,129.0L87.6,127.5L83.7,131.3z" fill="#eeff29"/>
<path d="M170.2,122.0L173.9,119.5L170.1,115.8L166.4,118.3z" fill="#ffa729"/>
<path d="M124.9,120.0L128.8,116.9L125.1,114.6L121.3,117.6z" fill="#ff9529"/>
<path d="M162.7,120.9L166.4,118.3L162.6,114.8L158.9,117.4z" fill="#ff9929"/>
<path d="M105.9,125.4L109.9,122.0L106.3,120.0L102.4,123.5z" fill="#ffc629"/>
<path d="M181.6,127.8L185.2,125.4L181.3,121.1L177.7,123.5z" fill="#ffd629"/>
<path d="M192.8,134.7L196.4,132.4L192.6,127.6L189.0,129.9z" fill="#ebff29"/>
<path d="M132.5,119.5L136.3,116.5L132.6,114.0L128.8,116.9z" fill="#ff8c29"/>
<path d="M155.2,120.0L158.9,117.4L155.1,114.1L151.4,116.8z" fill="#ff8f29"/>
<path d="M140.0,119.4L143.8,116.5L140.1,113.7L136.3,116.5z" fill="#ff8929"/>
<path d="M147.6,119.5L151.4,116.8L147.6,113.7L143.8,116.5z" fill="#ff8929"/>
<path d="M94.5,130.7L98.4,127.0L95.0,125.3L91.0,129.0z" fill="#fff229"/>
<path d="M83.0,136.6L87.0,132.8L83.7,131.3L79.7,135.1z" fill="#d7ff29"/>
<path d="M113.4,124.1L117.4,120.8L113.8,118.7L109.9,122.0z" fill="#ffb329"/>
<path d="M174.1,126.0L177.7,123.5L173.9,119.5L170.2,122.0z" fill="#ffc029"/>
<path d="M196.7,139.7L200.2,137.4L196.4,132.4L192.8,134.7z" fill="#c6ff29"/>
<path d="M185.4,132.4L189.0,129.9L185.2,125.4L181.6,127.8z" fill="#fff529"/>
<path d="M121.0,123.2L124.9,120.0L121.3,117.6L117.4,120.8z" fill="#ffa429"/>
<path d="M166.5,124.6L170.2,122.0L166.4,118.3L162.7,120.9z" fill="#ffae29"/>
<path d="M102.0,129.0L105.9,125.4L102.4,123.5L98.4,127.0z" fill="#ffd929"/>
<path d="M128.6,122.6L132.5,119.5L128.8,116.9L124.9,120.0z" fill="#ff9a29"/>
<path d="M159.0,123.6L162.7,120.9L158.9,117.4L155.2,120.0z" fill="#ffa129"/>
<path d="M90.5,134.5L94.5,130.7L91.0,129.0L87.0,132.8z" fill="#f6ff29"/>
<path d="M136.2,122.4L140.0,119.4L136.3,116.5L132.5,119.5z" fill="#ff9529"/>
<path d="M177.9,130.4L181.6,127.8L177.7,123.5L174.1,126.0z" fill="#ffdc29"/>
<path d="M151.4,122.8L155.2,120.0L151.4,116.8L147.6,119.5z" fill="#ff9829"/>
<path d="M143.8,122.4L147.6,119.5L143.8,116.5L140.0,119.4z" fill="#ff9529"/>
<path d="M189.2,137.2L192.8,134.7L189.0,129.9L185.4,132.4z" fill="#e7ff29"/>
<path d="M109.5,127.6L113.4,124.1L109.9,122.0L105.9,125.4z" fill="#ffc529"/>
<path d="M170.4,128.7L174.1,126.0L170.2,122.0L166.5,124.6z" fill="#ffc729"/>
<path d="M98.0,132.6L102.0,129.0L98.4,127.0L94.5,130.7z" fill="#ffee29"/>
<path d="M117.1,126.5L121.0,123.2L117.4,120.8L113.4,124.1z" fill="#ffb529"/>
<path d="M193.1,142.2L196.7,139.7L192.8,134.7L189.2,137.2z" fill="#c2ff29"/>
<path d="M181.7,134.9L185.4,132.4L181.6,127.8L177.9,130.4z" fill="#fffa29"/>
<path d="M86.5,138.4L90.5,134.5L87.0,132.8L83.0,136.6z" fill="#deff29"/>
<path d="M162.8,127.3L166.5,124.6L162.7,120.9L159.0,123.6z" fill="#ffb629"/>
<path d="M124.7,125.8L128.6,122.6L124.9,120.0L121.0,123.2z" fill="#ffaa29"/>
<path d="M155.2,126.4L159.0,123.6L155.2,120.0L151.4,122.8z" fill="#ffab29"/>
<path d="M132.3,125.5L136.2,122.4L132.5,119.5L128.6,122.6z" fill="#ffa329"/>
<path d="M105.5,131.1L109.5,127.6L105.9,125.4L102.0,129.0z" fill="#ffd829"/>
<path d="M147.5,125.7L151.4,122.8L147.6,119.5L143.8,122.4z" fill="#ffa329"/>
<path d="M139.9,125.4L143.8,122.4L140.0,119.4L136.2,122.4z" fill="#ffa129"/>
<path d="M174.2,133.0L177.9,130.4L174.1,126.0L170.4,128.7z" fill="#ffe229"/>
<path d="M185.6,139.7L189.2,137.2L185.4,132.4L181.7,134.9z" fill="#e2ff29"/>
<path d="M94.0,136.4L98.0,132.6L94.5,130.7L90.5,134.5z" fill="#faff29"/>
<path d="M113.1,130.0L117.1,126.5L113.4,124.1L109.5,127.6z" fill="#ffc729"/>
<path d="M166.6,131.4L170.4,128.7L166.5,124.6L162.8,127.3z" fill="#ffcf29"/>
<path d="M189.5,144.8L193.1,142.2L189.2,137.2L185.6,139.7z" fill="#bdff29"/>
<path d="M120.7,129.2L124.7,125.8L121.0,123.2L117.1,126.5z" fill="#ffba29"/>
<path d="M178.1,137.6L181.7,134.9L177.9,130.4L174.2,133.0z" fill="#fdff29"/>
<path d="M159.0,130.2L162.8,127.3L159.0,123.6L155.2,126.4z" fill="#ffc029"/>
<path d="M101.5,134.8L105.5,131.1L102.0,129.0L98.0,132.6z" fill="#ffed29"/>
<path d="M128.4,128.7L132.3,125.5L128.6,122.6L124.7,125.8z" fill="#ffb229"/>
<path d="M151.4,129.3L155.2,126.4L151.4,122.8L147.5,125.7z" fill="#ffb629"/>
<path d="M136.0,128.5L139.9,125.4L136.2,122.4L132.3,125.5z" fill="#ffaf29"/>
<path d="M143.7,128.7L147.5,125.7L143.8,122.4L139.9,125.4z" fill="#ffb029"/>
<path d="M89.9,140.4L94.0,136.4L90.5,134.5L86.5,138.4z" fill="#e3ff29"/>
<path d="M170.5,135.8L174.2,133.0L170.4,128.7L166.6,131.4z" fill="#ffea29"/>
<path d="M109.1,133.6L113.1,130.0L109.5,127.6L105.5,131.1z" fill="#ffda29"/>
<path d="M181.9,142.4L185.6,139.7L181.7,134.9L178.1,137.6z" fill="#dbff29"/>
<path d="M162.8,134.3L166.6,131.4L162.8,127.3L159.0,130.2z" fill="#ffd829"/>
<path d="M116.8,132.6L120.7,129.2L117.1,126.5L113.1,130.0z" fill="#ffcc29"/>
<path d="M97.5,138.7L101.5,134.8L98.0,132.6L94.0,136.4z" fill="#fcff29"/>
<path d="M155.2,133.2L159.0,130.2L155.2,126.4L151.4,129.3z" fill="#ffcb29"/>
<path d="M185.8,147.5L189.5,144.8L185.6,139.7L181.9,142.4z" fill="#b6ff29"/>
<path d="M174.3,140.4L178.1,137.6L174.2,133.0L170.5,135.8z" fill="#f5ff29"/>
<path d="M124.4,132.1L128.4,128.7L124.7,125.8L120.7,129.2z" fill="#ffc229"/>
<path d="M147.5,132.4L151.4,129.3L147.5,125.7L143.7,128.7z" fill="#ffc229"/>
<path d="M132.1,131.8L136.0,128.5L132.3,125.5L128.4,128.7z" fill="#ffbe29"/>
<path d="M139.8,131.9L143.7,128.7L139.9,125.4L136.0,128.5z" fill="#ffbd29"/>
<path d="M105.1,137.3L109.1,133.6L105.5,131.1L101.5,134.8z" fill="#ffee29"/>
<path d="M166.7,138.7L170.5,135.8L166.6,131.4L162.8,134.3z" fill="#fff429"/>
<path d="M93.5,142.6L97.5,138.7L94.0,136.4L89.9,140.4z" fill="#e4ff29"/>
<path d="M178.2,145.2L181.9,142.4L178.1,137.6L174.3,140.4z" fill="#d3ff29"/>
<path d="M112.8,136.3L116.8,132.6L113.1,130.0L109.1,133.6z" fill="#ffdf29"/>
<path d="M159.0,137.3L162.8,134.3L159.0,130.2L155.2,133.2z" fill="#ffe329"/>
<path d="M120.5,135.6L124.4,132.1L120.7,129.2L116.8,132.6z" fill="#ffd429"/>
<path d="M151.3,136.3L155.2,133.2L151.4,129.3L147.5,132.4z" fill="#ffd729"/>
<path d="M101.1,141.1L105.1,137.3L101.5,134.8L97.5,138.7z" fill="#faff29"/>
<path d="M128.2,135.2L132.1,131.8L128.4,128.7L124.4,132.1z" fill="#ffce29"/>
<path d="M170.6,143.3L174.3,140.4L170.5,135.8L166.7,138.7z" fill="#ecff29"/>
<path d="M182.1,150.3L185.8,147.5L181.9,142.4L178.2,145.2z" fill="#afff29"/>
<path d="M143.6,135.6L147.5,132.4L143.7,128.7L139.8,131.9z" fill="#ffcf29"/>
<path d="M135.9,135.2L139.8,131.9L136.0,128.5L132.1,131.8z" fill="#ffcc29"/>
<path d="M108.8,140.0L112.8,136.3L109.1,133.6L105.1,137.3z" fill="#fff329"/>
<path d="M162.9,141.7L166.7,138.7L162.8,134.3L159.0,137.3z" fill="#fffe29"/>
<path d="M174.5,148.2L178.2,145.2L174.3,140.4L170.6,143.3z" fill="#caff29"/>
<path d="M116.5,139.2L120.5,135.6L116.8,132.6L112.8,136.3z" fill="#ffe729"/>
<path d="M155.2,140.4L159.0,137.3L155.2,133.2L151.3,136.3z" fill="#ffef29"/>
<path d="M97.0,145.1L101.1,141.1L97.5,138.7L93.5,142.6z" fill="#e3ff29"/>
<path d="M124.2,138.8L128.2,135.2L124.4,132.1L120.5,135.6z" fill="#ffdf29"/>
<path d="M147.5,139.5L151.3,136.3L147.5,132.4L143.6,135.6z" fill="#ffe429"/>
<path d="M131.9,138.7L135.9,135.2L132.1,131.8L128.2,135.2z" fill="#ffdc29"/>
<path d="M139.7,138.9L143.6,135.6L139.8,131.9L135.9,135.2z" fill="#ffde29"/>
<path d="M166.8,146.3L170.6,143.3L166.7,138.7L162.9,141.7z" fill="#e2ff29"/>
<path d="M178.4,153.3L182.1,150.3L178.2,145.2L174.5,148.2z" fill="#a6ff29"/>
<path d="M104.7,143.9L108.8,140.0L105.1,137.3L101.1,141.1z" fill="#f5ff29"/>
<path d="M159.1,144.8L162.9,141.7L159.0,137.3L155.2,140.4z" fill="#f4ff29"/>
<path d="M112.4,143.0L116.5,139.2L112.8,136.3L108.8,140.0z" fill="#fffb29"/>
<path d="M170.7,151.2L174.5,148.2L170.6,143.3L166.8,146.3z" fill="#c0ff29"/>
<path d="M151.3,143.7L155.2,140.4L151.3,136.3L147.5,139.5z" fill="#fffc29"/>
<path d="M120.2,142.4L124.2,138.8L120.5,135.6L116.5,139.2z" fill="#fff229"/>
<path d="M143.5,142.8L147.5,139.5L143.6,135.6L139.7,138.9z" fill="#fff329"/>
<path d="M128.0,142.2L131.9,138.7L128.2,135.2L124.2,138.8z" fill="#ffee29"/>
<path d="M135.8,142.3L139.7,138.9L135.9,135.2L131.9,138.7z" fill="#ffee29"/>
<path d="M100.7,147.8L104.7,143.9L101.1,141.1L97.0,145.1z" fill="#deff29"/>
<path d="M163.0,149.5L166.8,146.3L162.9,141.7L159.1,144.8z" fill="#d6ff29"/>
<path d="M174.6,156.3L178.4,153.3L174.5,148.2L170.7,151.2z" fill="#9cff29"/>
<path d="M108.4,146.8L112.4,143.0L108.8,140.0L104.7,143.9z" fill="#edff29"/>
<path d="M155.2,148.1L159.1,144.8L155.2,140.4L151.3,143.7z" fill="#e7ff29"/>
<path d="M116.2,146.2L120.2,142.4L116.5,139.2L112.4,143.0z" fill="#f8ff29"/>
<path d="M147.4,147.0L151.3,143.7L147.5,139.5L143.5,142.8z" fill="#f4ff29"/>
<path d="M166.9,154.4L170.7,151.2L166.8,146.3L163.0,149.5z" fill="#b5ff29"/>
<path d="M124.0,145.9L128.0,142.2L124.2,138.8L120.2,142.4z" fill="#feff29"/>
<path d="M139.6,146.3L143.5,142.8L139.7,138.9L135.8,142.3z" fill="#fcff29"/>
<path d="M131.8,145.9L135.8,142.3L131.9,138.7L128.0,142.2z" fill="#ffff29"/>
<path d="M159.1,152.7L163.0,149.5L159.1,144.8L155.2,148.1z" fill="#c9ff29"/>
<path d="M104.3,150.8L108.4,146.8L104.7,143.9L100.7,147.8z" fill="#d7ff29"/>
<path d="M170.8,159.5L174.6,156.3L170.7,151.2L166.9,154.4z" fill="#90ff29"/>
<path d="M151.3,151.4L155.2,148.1L151.3,143.7L147.4,147.0z" fill="#d9ff29"/>
<path d="M112.1,150.1L116.2,146.2L112.4,143.0L108.4,146.8z" fill="#e3ff29"/>
<path d="M143.5,150.5L147.4,147.0L143.5,142.8L139.6,146.3z" fill="#e4ff29"/>
<path d="M119.9,149.7L124.0,145.9L120.2,142.4L116.2,146.2z" fill="#eaff29"/>
<path d="M163.0,157.7L166.9,154.4L163.0,149.5L159.1,152.7z" fill="#a8ff29"/>
<path d="M135.6,149.9L139.6,146.3L135.8,142.3L131.8,145.9z" fill="#ebff29"/>
<path d="M127.8,149.6L131.8,145.9L128.0,142.2L124.0,145.9z" fill="#ecff29"/>
<path d="M155.2,156.1L159.1,152.7L155.2,148.1L151.3,151.4z" fill="#bbff29"/>
<path d="M166.9,162.8L170.8,159.5L166.9,154.4L163.0,157.7z" fill="#84ff29"/>
<path d="M108.0,154.1L112.1,150.1L108.4,146.8L104.3,150.8z" fill="#ccff29"/>
<path d="M147.3,154.9L151.3,151.4L147.4,147.0L143.5,150.5z" fill="#c9ff29"/>
<path d="M115.9,153.6L119.9,149.7L116.2,146.2L112.1,150.1z" fill="#d5ff29"/>
<path d="M139.5,154.1L143.5,150.5L139.6,146.3L135.6,149.9z" fill="#d3ff29"/>
<path d="M123.7,153.4L127.8,149.6L124.0,145.9L119.9,149.7z" fill="#d9ff29"/>
<path d="M131.6,153.6L135.6,149.9L131.8,145.9L127.8,149.6z" fill="#d8ff29"/>
<path d="M159.1,161.1L163.0,157.7L159.1,152.7L155.2,156.1z" fill="#9aff29"/>
<path d="M151.2,159.6L155.2,156.1L151.3,151.4L147.3,154.9z" fill="#acff29"/>
<path d="M163.0,166.3L166.9,162.8L163.0,157.7L159.1,161.1z" fill="#76ff29"/>
<path d="M111.8,157.6L115.9,153.6L112.1,150.1L108.0,154.1z" fill="#beff29"/>
<path d="M143.4,158.6L147.3,154.9L143.5,150.5L139.5,154.1z" fill="#b8ff29"/>
<path d="M119.7,157.3L123.7,153.4L119.9,149.7L115.9,153.6z" fill="#c4ff29"/>
<path d="M135.5,157.8L139.5,154.1L135.6,149.9L131.6,153.6z" fill="#c1ff29"/>
<path d="M127.6,157.4L131.6,153.6L127.8,149.6L123.7,153.4z" fill="#c5ff29"/>
<path d="M155.2,164.6L159.1,161.1L155.2,156.1L151.2,159.6z" fill="#8bff29"/>
<path d="M147.3,163.3L151.2,159.6L147.3,154.9L143.4,158.6z" fill="#9bff29"/>
<path d="M159.1,169.8L163.0,166.3L159.1,161.1L155.2,164.6z" fill="#67ff29"/>
<path d="M139.4,162.3L143.4,158.6L139.5,154.1L135.5,157.8z" fill="#a6ff29"/>
<path d="M115.6,161.4L119.7,157.3L115.9,153.6L111.8,157.6z" fill="#aeff29"/>
<path d="M131.4,161.6L135.5,157.8L131.6,153.6L127.6,157.4z" fill="#adff29"/>
<path d="M123.5,161.3L127.6,157.4L123.7,153.4L119.7,157.3z" fill="#b0ff29"/>
<path d="M151.2,168.3L155.2,164.6L151.2,159.6L147.3,163.3z" fill="#7aff29"/>
<path d="M143.3,167.0L147.3,163.3L143.4,158.6L139.4,162.3z" fill="#89ff29"/>
<path d="M135.3,166.2L139.4,162.3L135.5,157.8L131.4,161.6z" fill="#93ff29"/>
<path d="M155.2,173.5L159.1,169.8L155.2,164.6L151.2,168.3z" fill="#56ff29"/>
<path d="M119.4,165.4L123.5,161.3L119.7,157.3L115.6,161.4z" fill="#9aff29"/>
<path d="M127.4,165.6L131.4,161.6L127.6,157.4L123.5,161.3z" fill="#99ff29"/>
<path d="M147.2,172.0L151.2,168.3L147.3,163.3L143.3,167.0z" fill="#68ff29"/>
<path d="M139.3,170.9L143.3,167.0L139.4,162.3L135.3,166.2z" fill="#76ff29"/>
<path d="M131.3,170.1L135.3,166.2L131.4,161.6L127.4,165.6z" fill="#7fff29"/>
<path d="M123.3,169.7L127.4,165.6L123.5,161.3L119.4,165.4z" fill="#83ff29"/>
<path d="M151.2,177.4L155.2,173.5L151.2,168.3L147.2,172.0z" fill="#45ff29"/>
<path d="M143.2,176.0L147.2,172.0L143.3,167.0L139.3,170.9z" fill="#55ff29"/>
<path d="M135.2,174.9L139.3,170.9L135.3,166.2L131.3,170.1z" fill="#61ff29"/>
<path d="M127.2,174.2L131.3,170.1L127.4,165.6L123.3,169.7z" fill="#69ff29"/>
<path d="M147.2,181.3L151.2,177.4L147.2,172.0L143.2,176.0z" fill="#32ff29"/>
<path d="M139.1,180.0L143.2,176.0L139.3,170.9L135.2,174.9z" fill="#41ff29"/>
<path d="M131.1,179.1L135.2,174.9L131.3,170.1L127.2,174.2z" fill="#4cff29"/>
<path d="M143.1,185.4L147.2,181.3L143.2,176.0L139.1,180.0z" fill="#29ff34"/>
<path d="M135.1,184.2L139.1,180.0L135.2,174.9L131.1,179.1z" fill="#2bff29"/>
<path d="M139.0,189.6L143.1,185.4L139.1,180.0L135.1,184.2z" fill="#29ff49"/>
</g>
<circle cx="139.0" cy="189.2" r="1.6" fill="#ffe0e0" stroke="#c07070" stroke-width="0.45"/>
<circle cx="60.9" cy="132.5" r="1.6" fill="#ffe0e0" stroke="#c07070" stroke-width="0.45"/>
<circle cx="220.5" cy="126.1" r="1.75" fill="#c00000" stroke="#7a0000" stroke-width="0.3"/>
<circle cx="141.2" cy="74.3" r="1.75" fill="#c00000" stroke="#7a0000" stroke-width="0.3"/>
<circle cx="140.2" cy="104.9" r="1.75" fill="#c00000" stroke="#7a0000" stroke-width="0.3"/>
<circle cx="140.2" cy="109.2" r="1.75" fill="#c00000" stroke="#7a0000" stroke-width="0.3"/>
<text x="33.6" y="190.3" transform="rotate(-90 33.6 190.3)" font-family="Liberation Serif, Noto Sans CJK SC, serif" font-weight="bold" font-size="10.35" fill="#111">Polysaccharides contents（%）</text>
<text x="9.6" y="246" font-family="Liberation Serif, Noto Sans CJK SC, serif" font-weight="bold" font-size="10.35" fill="#111">B：Extraction time（min）</text>
<text x="158.4" y="246.3" font-family="Liberation Serif, Noto Sans CJK SC, serif" font-weight="bold" font-size="10.35" fill="#111">A：Liquid-Solid ratio（g/mL）</text>
<polygon points="57.4,444.9 141.2,407.3 223.3,446.0 214.6,536.3 141.2,492.6 66.1,535.0" fill="#fff" stroke="none"/>
<path d="M64.1,514.4L141.2,472.9L216.6,515.6M62.5,497.1L141.2,456.4L218.3,498.3M60.8,479.8L141.2,440.1L219.9,481.0M59.1,462.3L141.2,423.6L221.6,463.4M57.4,444.9L141.2,407.3L223.3,446.0M83.4,504.0L78.4,435.5M160.0,483.6L161.7,417.0M102.7,493.6L99.3,426.1M178.9,494.3L182.2,426.6M121.9,483.3L120.3,416.7M197.7,504.9L202.8,436.3M66.1,535.0L57.4,444.9M141.2,492.6L141.2,407.3M214.6,536.3L223.3,446.0" fill="none" stroke="#555" stroke-width="0.65"/>
<polygon points="66.1,535.0 141.2,492.6 214.6,536.3 139.1,588.7" fill="#666666" stroke="#333" stroke-width="0.4"/>
<polyline points="186.3,555.6 184.6,556.3 182.9,556.9 181.2,557.6 179.5,558.2 177.8,558.9 176.0,559.5 174.3,560.1 172.5,560.7 170.8,561.3 169.0,561.9 167.2,562.4 165.4,563.0 163.7,563.5 161.9,564.0 160.1,564.6 158.3,565.1 156.4,565.6 154.6,566.1 152.8,566.5 151.0,567.0 149.2,567.4 147.3,567.9 145.5,568.3 143.7,568.7 141.9,569.1 140.1,569.4 138.2,569.8 136.4,570.1 134.6,570.5 132.8,570.8 131.0,571.1 129.2,571.4 127.4,571.7 125.6,571.9 123.9,572.2 122.1,572.4 120.3,572.6 118.6,572.8" fill="none" stroke="#39d41c" stroke-width="1.2"/>
<polyline points="68.3,535.9 68.5,535.3 68.8,534.6 69.0,534.0 69.3,533.3" fill="none" stroke="#a2d41c" stroke-width="1.2"/>
<polyline points="210.1,533.6 209.1,534.3 208.0,534.9 206.9,535.6 205.8,536.2 204.7,536.9 203.6,537.5 202.4,538.1 201.2,538.8 200.1,539.4 198.9,540.0 197.7,540.6 196.4,541.2 195.2,541.9 194.0,542.5 192.7,543.1 191.4,543.6 190.1,544.2 188.8,544.8 187.5,545.4 186.2,545.9 184.9,546.5 183.5,547.1 182.2,547.6 180.8,548.1 179.5,548.7 178.1,549.2 176.7,549.7 175.3,550.2 173.9,550.7 172.5,551.2 171.1,551.7 169.7,552.2 168.2,552.7 166.8,553.1 165.4,553.6 163.9,554.0 162.5,554.4 161.0,554.9 159.5,555.3 158.1,555.7 156.6,556.1 155.2,556.4 153.7,556.8 152.2,557.2 150.8,557.5 149.3,557.9 147.8,558.2 146.4,558.5 144.9,558.8 143.4,559.1 142.0,559.4 140.5,559.7 139.0,559.9 137.6,560.2 136.1,560.4 134.7,560.7 133.2,560.9 131.8,561.1 130.4,561.3 129.0,561.4 127.5,561.6 126.1,561.8 124.7,561.9 123.3,562.0 121.9,562.1 120.6,562.3 119.2,562.3 117.8,562.4 116.5,562.5 115.2,562.5 113.8,562.6 112.5,562.6 111.2,562.6 109.9,562.6 108.7,562.6 107.4,562.6 106.2,562.6 104.9,562.5 103.7,562.5" fill="none" stroke="#a2d41c" stroke-width="1.2"/>
<polyline points="198.2,526.8 197.5,527.3 196.8,527.8 196.0,528.2 195.2,528.7 194.5,529.1 193.7,529.6 192.9,530.1 192.1,530.5 191.3,531.0 190.5,531.4 189.6,531.9 188.8,532.3 187.9,532.8 187.0,533.2 186.2,533.6 185.3,534.1 184.4,534.5 183.5,534.9 182.6,535.3 181.7,535.7 180.8,536.2 179.8,536.6 178.9,537.0 177.9,537.4 177.0,537.8 176.0,538.1 175.1,538.5 174.1,538.9 173.1,539.3 172.1,539.6 171.1,540.0 170.1,540.3 169.1,540.7 168.1,541.0 167.1,541.4 166.1,541.7 165.1,542.0 164.1,542.4 163.0,542.7 162.0,543.0 161.0,543.3 160.0,543.6 158.9,543.8 157.9,544.1 156.9,544.4 155.8,544.7 154.8,544.9 153.7,545.2 152.7,545.4 151.7,545.6 150.6,545.9 149.6,546.1 148.6,546.3 147.5,546.5 146.5,546.7 145.5,546.9 144.4,547.1 143.4,547.2 142.4,547.4 141.4,547.6 140.4,547.7 139.3,547.8 138.3,548.0 137.3,548.1 136.3,548.2 135.3,548.3 134.4,548.4 133.4,548.5 132.4,548.6 131.4,548.7 130.5,548.7 129.5,548.8 128.6,548.8 127.6,548.9 126.7,548.9 125.8,548.9 124.8,548.9 123.9,548.9 123.0,548.9 122.1,548.9 121.3,548.9 120.4,548.8 119.5,548.8 118.7,548.7 117.8,548.7 117.0,548.6 116.2,548.5 115.4,548.5 114.6,548.4 113.8,548.3 113.0,548.2 112.3,548.0 111.5,547.9 110.8,547.8 110.1,547.6 109.4,547.5 108.7,547.3 108.0,547.1 107.3,547.0 106.6,546.8 106.0,546.6 105.4,546.4 104.8,546.2 104.2,546.0 103.6,545.8 103.0,545.5 102.5,545.3 101.9,545.0 101.4,544.8 100.9,544.5 100.4,544.3 99.9,544.0 99.4,543.7 99.0,543.4 98.6,543.1 98.1,542.8 97.7,542.5 97.4,542.2 97.0,541.9 96.6,541.5 96.3,541.2 96.0,540.9 96.0,540.9 95.7,540.5 95.4,540.2 95.1,539.8 94.9,539.5 94.7,539.1 94.4,538.7 94.2,538.3 94.0,537.9 93.9,537.6 93.7,537.2 93.6,536.8 93.5,536.4 93.4,536.0 93.3,535.5 93.2,535.1 93.2,534.7 93.1,534.3 93.1,533.9 93.1,533.4 93.1,533.0 93.2,532.5 93.2,532.1 93.3,531.7 93.3,531.2 93.4,530.8 93.6,530.3 93.7,529.8 93.8,529.4 94.0,528.9 94.2,528.5 94.4,528.0 94.6,527.5 94.8,527.0 95.0,526.6 95.3,526.1 95.5,525.6 95.8,525.1 96.1,524.7 96.4,524.2 96.8,523.7 97.1,523.2 97.5,522.7 97.8,522.3 98.2,521.8 98.6,521.3 99.0,520.8 99.5,520.3 99.9,519.8 100.3,519.4 100.8,518.9 101.3,518.4 101.8,517.9 102.3,517.4 102.8,516.9 103.3,516.5 103.9,516.0 104.4,515.5 105.0,515.0 105.6,514.5 106.2,514.1 106.8,513.6 107.4,513.1 108.0,512.7 108.6,512.2 109.3,511.7 109.9,511.3 110.6,510.8 111.3,510.3 111.9,509.9 112.6,509.4 113.3,509.0 114.0,508.5 114.8,508.1 115.5,507.6 116.2,507.2 117.0,506.8 117.7,506.3 118.5,505.9 119.3,505.5 120.0,505.0 120.8,504.6 121.6,504.2 122.4,503.8 123.2,503.4 124.0,503.0 124.9,502.6 125.7,502.2 126.5,501.8 127.4,501.4 128.2,501.0 129.1,500.6 129.9,500.2 130.8,499.9 131.6,499.5 132.5,499.1 133.4,498.8 134.3,498.4 135.1,498.1 136.0,497.7 136.9,497.4 137.8,497.1 138.7,496.7 139.6,496.4 140.5,496.1 141.4,495.8 142.3,495.5 143.2,495.1 144.1,494.8" fill="none" stroke="#d49d1c" stroke-width="1.2"/>
<circle cx="64.1" cy="514.4" r="0.75" fill="#111"/>
<text x="60.1" y="513.1" font-family="Liberation Sans, sans-serif" font-size="3.9" fill="#3a3a3a" text-anchor="middle">15</text>
<circle cx="62.5" cy="497.1" r="0.75" fill="#111"/>
<text x="58.5" y="495.8" font-family="Liberation Sans, sans-serif" font-size="3.9" fill="#3a3a3a" text-anchor="middle">16</text>
<circle cx="60.8" cy="479.8" r="0.75" fill="#111"/>
<text x="56.8" y="478.5" font-family="Liberation Sans, sans-serif" font-size="3.9" fill="#3a3a3a" text-anchor="middle">17</text>
<circle cx="59.1" cy="462.3" r="0.75" fill="#111"/>
<text x="55.1" y="461.0" font-family="Liberation Sans, sans-serif" font-size="3.9" fill="#3a3a3a" text-anchor="middle">18</text>
<circle cx="57.4" cy="444.9" r="0.75" fill="#111"/>
<text x="53.4" y="443.6" font-family="Liberation Sans, sans-serif" font-size="3.9" fill="#3a3a3a" text-anchor="middle">19</text>
<circle cx="66.1" cy="535.0" r="0.75" fill="#111"/>
<text x="61.5" y="539.1" font-family="Liberation Sans, sans-serif" font-size="3.9" fill="#3a3a3a" text-anchor="middle">500</text>
<circle cx="84.4" cy="548.5" r="0.75" fill="#111"/>
<text x="79.8" y="552.6" font-family="Liberation Sans, sans-serif" font-size="3.9" fill="#3a3a3a" text-anchor="middle">450</text>
<circle cx="102.6" cy="561.9" r="0.75" fill="#111"/>
<text x="98.0" y="566.0" font-family="Liberation Sans, sans-serif" font-size="3.9" fill="#3a3a3a" text-anchor="middle">400</text>
<circle cx="120.9" cy="575.3" r="0.75" fill="#111"/>
<text x="116.3" y="579.4" font-family="Liberation Sans, sans-serif" font-size="3.9" fill="#3a3a3a" text-anchor="middle">350</text>
<circle cx="139.1" cy="588.7" r="0.75" fill="#111"/>
<text x="134.5" y="592.8" font-family="Liberation Sans, sans-serif" font-size="3.9" fill="#3a3a3a" text-anchor="middle">300</text>
<circle cx="139.1" cy="588.7" r="0.75" fill="#111"/>
<text x="143.7" y="592.8" font-family="Liberation Sans, sans-serif" font-size="3.9" fill="#3a3a3a" text-anchor="middle">30</text>
<circle cx="158.0" cy="575.6" r="0.75" fill="#111"/>
<text x="162.6" y="579.7" font-family="Liberation Sans, sans-serif" font-size="3.9" fill="#3a3a3a" text-anchor="middle">35</text>
<circle cx="176.9" cy="562.5" r="0.75" fill="#111"/>
<text x="181.5" y="566.6" font-family="Liberation Sans, sans-serif" font-size="3.9" fill="#3a3a3a" text-anchor="middle">40</text>
<circle cx="195.7" cy="549.4" r="0.75" fill="#111"/>
<text x="200.3" y="553.5" font-family="Liberation Sans, sans-serif" font-size="3.9" fill="#3a3a3a" text-anchor="middle">45</text>
<circle cx="214.6" cy="536.3" r="0.75" fill="#111"/>
<text x="219.2" y="540.4" font-family="Liberation Sans, sans-serif" font-size="3.9" fill="#3a3a3a" text-anchor="middle">50</text>
<g stroke="#262618" stroke-width="0.4" stroke-opacity="0.8" stroke-linejoin="round">
<path d="M141.1,426.6L144.5,425.5L141.2,426.2L137.9,427.2z" fill="#ffd129"/>
<path d="M137.7,427.8L141.1,426.6L137.9,427.2L134.5,428.3z" fill="#ffca29"/>
<path d="M144.5,426.3L147.9,425.2L144.5,425.5L141.1,426.6z" fill="#ffb229"/>
<path d="M134.3,429.0L137.7,427.8L134.5,428.3L131.0,429.5z" fill="#ffc329"/>
<path d="M141.1,427.5L144.5,426.3L141.1,426.6L137.7,427.8z" fill="#ffab29"/>
<path d="M147.8,426.3L151.2,425.1L147.9,425.2L144.5,426.3z" fill="#ff9629"/>
<path d="M130.8,430.4L134.3,429.0L131.0,429.5L127.6,430.8z" fill="#ffbe29"/>
<path d="M137.6,428.8L141.1,427.5L137.7,427.8L134.3,429.0z" fill="#ffa529"/>
<path d="M144.4,427.5L147.8,426.3L144.5,426.3L141.1,427.5z" fill="#ff8f29"/>
<path d="M127.3,431.8L130.8,430.4L127.6,430.8L124.1,432.2z" fill="#ffba29"/>
<path d="M151.3,426.5L154.7,425.3L151.2,425.1L147.8,426.3z" fill="#ff7e29"/>
<path d="M134.1,430.2L137.6,428.8L134.3,429.0L130.8,430.4z" fill="#ffa029"/>
<path d="M141.0,428.9L144.4,427.5L141.1,427.5L137.6,428.8z" fill="#ff8a29"/>
<path d="M123.8,433.4L127.3,431.8L124.1,432.2L120.5,433.7z" fill="#ffb729"/>
<path d="M147.8,427.8L151.3,426.5L147.8,426.3L144.4,427.5z" fill="#ff7829"/>
<path d="M154.7,427.0L158.1,425.7L154.7,425.3L151.3,426.5z" fill="#ff6a29"/>
<path d="M130.6,431.7L134.1,430.2L130.8,430.4L127.3,431.8z" fill="#ff9c29"/>
<path d="M137.5,430.3L141.0,428.9L137.6,428.8L134.1,430.2z" fill="#ff8629"/>
<path d="M120.2,435.0L123.8,433.4L120.5,433.7L117.0,435.3z" fill="#ffb529"/>
<path d="M144.4,429.2L147.8,427.8L144.4,427.5L141.0,428.9z" fill="#ff7329"/>
<path d="M151.3,428.3L154.7,427.0L151.3,426.5L147.8,427.8z" fill="#ff6529"/>
<path d="M127.1,433.3L130.6,431.7L127.3,431.8L123.8,433.4z" fill="#ff9a29"/>
<path d="M158.2,427.7L161.6,426.4L158.1,425.7L154.7,427.0z" fill="#ff5a29"/>
<path d="M134.0,431.9L137.5,430.3L134.1,430.2L130.6,431.7z" fill="#ff8329"/>
<path d="M116.6,436.8L120.2,435.0L117.0,435.3L113.4,437.0z" fill="#ffb529"/>
<path d="M140.9,430.7L144.4,429.2L141.0,428.9L137.5,430.3z" fill="#ff6f29"/>
<path d="M123.5,435.0L127.1,433.3L123.8,433.4L120.2,435.0z" fill="#ff9929"/>
<path d="M147.8,429.8L151.3,428.3L147.8,427.8L144.4,429.2z" fill="#ff6029"/>
<path d="M154.8,429.1L158.2,427.7L154.7,427.0L151.3,428.3z" fill="#ff5529"/>
<path d="M161.8,428.7L165.2,427.4L161.6,426.4L158.2,427.7z" fill="#ff4d29"/>
<path d="M130.4,433.5L134.0,431.9L130.6,431.7L127.1,433.3z" fill="#ff8129"/>
<path d="M112.9,438.6L116.6,436.8L113.4,437.0L109.7,438.8z" fill="#ffb629"/>
<path d="M137.4,432.3L140.9,430.7L137.5,430.3L134.0,431.9z" fill="#ff6d29"/>
<path d="M119.9,436.8L123.5,435.0L120.2,435.0L116.6,436.8z" fill="#ff9929"/>
<path d="M144.3,431.3L147.8,429.8L144.4,429.2L140.9,430.7z" fill="#ff5d29"/>
<path d="M151.3,430.6L154.8,429.1L151.3,428.3L147.8,429.8z" fill="#ff5129"/>
<path d="M126.8,435.3L130.4,433.5L127.1,433.3L123.5,435.0z" fill="#ff8129"/>
<path d="M158.3,430.2L161.8,428.7L158.2,427.7L154.8,429.1z" fill="#ff4929"/>
<path d="M109.3,440.6L112.9,438.6L109.7,438.8L106.1,440.8z" fill="#ffb829"/>
<path d="M165.3,430.0L168.7,428.6L165.2,427.4L161.8,428.7z" fill="#ff4529"/>
<path d="M133.8,434.0L137.4,432.3L134.0,431.9L130.4,433.5z" fill="#ff6c29"/>
<path d="M116.2,438.7L119.9,436.8L116.6,436.8L112.9,438.6z" fill="#ff9b29"/>
<path d="M140.8,432.9L144.3,431.3L140.9,430.7L137.4,432.3z" fill="#ff5b29"/>
<path d="M147.8,432.2L151.3,430.6L147.8,429.8L144.3,431.3z" fill="#ff4e29"/>
<path d="M105.6,442.7L109.3,440.6L106.1,440.8L102.4,442.8z" fill="#ffbc29"/>
<path d="M123.2,437.1L126.8,435.3L123.5,435.0L119.9,436.8z" fill="#ff8229"/>
<path d="M154.9,431.7L158.3,430.2L154.8,429.1L151.3,430.6z" fill="#ff4629"/>
<path d="M161.9,431.5L165.3,430.0L161.8,428.7L158.3,430.2z" fill="#ff4129"/>
<path d="M168.9,431.6L172.3,430.2L168.7,428.6L165.3,430.0z" fill="#ff4029"/>
<path d="M130.2,435.8L133.8,434.0L130.4,433.5L126.8,435.3z" fill="#ff6c29"/>
<path d="M112.5,440.7L116.2,438.7L112.9,438.6L109.3,440.6z" fill="#ff9e29"/>
<path d="M137.2,434.7L140.8,432.9L137.4,432.3L133.8,434.0z" fill="#ff5b29"/>
<path d="M101.8,444.8L105.6,442.7L102.4,442.8L98.7,444.9z" fill="#ffc129"/>
<path d="M144.3,433.9L147.8,432.2L144.3,431.3L140.8,432.9z" fill="#ff4d29"/>
<path d="M119.5,439.1L123.2,437.1L119.9,436.8L116.2,438.7z" fill="#ff8429"/>
<path d="M151.3,433.4L154.9,431.7L151.3,430.6L147.8,432.2z" fill="#ff4329"/>
<path d="M158.4,433.1L161.9,431.5L158.3,430.2L154.9,431.7z" fill="#ff3e29"/>
<path d="M172.5,433.5L175.9,432.0L172.3,430.2L168.9,431.6z" fill="#ff3f29"/>
<path d="M165.5,433.1L168.9,431.6L165.3,430.0L161.9,431.5z" fill="#ff3c29"/>
<path d="M126.6,437.7L130.2,435.8L126.8,435.3L123.2,437.1z" fill="#ff6d29"/>
<path d="M108.8,442.8L112.5,440.7L109.3,440.6L105.6,442.7z" fill="#ffa229"/>
<path d="M133.6,436.5L137.2,434.7L133.8,434.0L130.2,435.8z" fill="#ff5b29"/>
<path d="M98.1,447.1L101.8,444.8L98.7,444.9L94.9,447.1z" fill="#ffc729"/>
<path d="M115.8,441.1L119.5,439.1L116.2,438.7L112.5,440.7z" fill="#ff8729"/>
<path d="M140.7,435.7L144.3,433.9L140.8,432.9L137.2,434.7z" fill="#ff4d29"/>
<path d="M147.8,435.1L151.3,433.4L147.8,432.2L144.3,433.9z" fill="#ff4329"/>
<path d="M176.2,435.6L179.6,434.0L175.9,432.0L172.5,433.5z" fill="#ff4229"/>
<path d="M154.9,434.8L158.4,433.1L154.9,431.7L151.3,433.4z" fill="#ff3c29"/>
<path d="M122.9,439.7L126.6,437.7L123.2,437.1L119.5,439.1z" fill="#ff7029"/>
<path d="M169.1,435.1L172.5,433.5L168.9,431.6L165.5,433.1z" fill="#ff3c29"/>
<path d="M162.0,434.8L165.5,433.1L161.9,431.5L158.4,433.1z" fill="#ff3a29"/>
<path d="M105.1,445.1L108.8,442.8L105.6,442.7L101.8,444.8z" fill="#ffa729"/>
<path d="M130.0,438.5L133.6,436.5L130.2,435.8L126.6,437.7z" fill="#ff5d29"/>
<path d="M94.3,449.5L98.1,447.1L94.9,447.1L91.1,449.5z" fill="#ffce29"/>
<path d="M112.1,443.3L115.8,441.1L112.5,440.7L108.8,442.8z" fill="#ff8b29"/>
<path d="M137.1,437.6L140.7,435.7L137.2,434.7L133.6,436.5z" fill="#ff4e29"/>
<path d="M144.2,437.0L147.8,435.1L144.3,433.9L140.7,435.7z" fill="#ff4329"/>
<path d="M179.9,438.0L183.3,436.4L179.6,434.0L176.2,435.6z" fill="#ff4829"/>
<path d="M119.2,441.8L122.9,439.7L119.5,439.1L115.8,441.1z" fill="#ff7429"/>
<path d="M101.3,447.4L105.1,445.1L101.8,444.8L98.1,447.1z" fill="#ffae29"/>
<path d="M151.4,436.6L154.9,434.8L151.3,433.4L147.8,435.1z" fill="#ff3c29"/>
<path d="M172.8,437.2L176.2,435.6L172.5,433.5L169.1,435.1z" fill="#ff3f29"/>
<path d="M158.5,436.5L162.0,434.8L158.4,433.1L154.9,434.8z" fill="#ff3929"/>
<path d="M165.6,436.8L169.1,435.1L165.5,433.1L162.0,434.8z" fill="#ff3a29"/>
<path d="M90.5,452.0L94.3,449.5L91.1,449.5L87.3,451.9z" fill="#ffd629"/>
<path d="M126.3,440.6L130.0,438.5L126.6,437.7L122.9,439.7z" fill="#ff6029"/>
<path d="M108.4,445.6L112.1,443.3L108.8,442.8L105.1,445.1z" fill="#ff9129"/>
<path d="M133.5,439.6L137.1,437.6L133.6,436.5L130.0,438.5z" fill="#ff5029"/>
<path d="M183.6,440.7L186.9,439.0L183.3,436.4L179.9,438.0z" fill="#ff5329"/>
<path d="M140.6,438.9L144.2,437.0L140.7,435.7L137.1,437.6z" fill="#ff4529"/>
<path d="M97.5,449.8L101.3,447.4L98.1,447.1L94.3,449.5z" fill="#ffb529"/>
<path d="M115.5,444.0L119.2,441.8L115.8,441.1L112.1,443.3z" fill="#ff7929"/>
<path d="M176.4,439.7L179.9,438.0L176.2,435.6L172.8,437.2z" fill="#ff4629"/>
<path d="M147.8,438.5L151.4,436.6L147.8,435.1L144.2,437.0z" fill="#ff3d29"/>
<path d="M169.3,439.0L172.8,437.2L169.1,435.1L165.6,436.8z" fill="#ff3e29"/>
<path d="M155.0,438.4L158.5,436.5L154.9,434.8L151.4,436.6z" fill="#ff3929"/>
<path d="M162.1,438.6L165.6,436.8L162.0,434.8L158.5,436.5z" fill="#ff3a29"/>
<path d="M86.7,454.6L90.5,452.0L87.3,451.9L83.5,454.5z" fill="#ffe029"/>
<path d="M122.6,442.7L126.3,440.6L122.9,439.7L119.2,441.8z" fill="#ff6529"/>
<path d="M104.6,447.9L108.4,445.6L105.1,445.1L101.3,447.4z" fill="#ff9829"/>
<path d="M129.8,441.7L133.5,439.6L130.0,438.5L126.3,440.6z" fill="#ff5429"/>
<path d="M187.3,443.7L190.7,442.0L186.9,439.0L183.6,440.7z" fill="#ff6129"/>
<path d="M93.7,452.3L97.5,449.8L94.3,449.5L90.5,452.0z" fill="#ffbe29"/>
<path d="M137.0,441.0L140.6,438.9L137.1,437.6L133.5,439.6z" fill="#ff4829"/>
<path d="M111.7,446.3L115.5,444.0L112.1,443.3L108.4,445.6z" fill="#ff7f29"/>
<path d="M180.1,442.5L183.6,440.7L179.9,438.0L176.4,439.7z" fill="#ff5129"/>
<path d="M82.8,457.4L86.7,454.6L83.5,454.5L79.7,457.2z" fill="#ffeb29"/>
<path d="M144.2,440.5L147.8,438.5L144.2,437.0L140.6,438.9z" fill="#ff3f29"/>
<path d="M173.0,441.5L176.4,439.7L172.8,437.2L169.3,439.0z" fill="#ff4629"/>
<path d="M151.4,440.4L155.0,438.4L151.4,436.6L147.8,438.5z" fill="#ff3b29"/>
<path d="M165.8,440.9L169.3,439.0L165.6,436.8L162.1,438.6z" fill="#ff3e29"/>
<path d="M158.6,440.5L162.1,438.6L158.5,436.5L155.0,438.4z" fill="#ff3b29"/>
<path d="M118.9,445.0L122.6,442.7L119.2,441.8L115.5,444.0z" fill="#ff6a29"/>
<path d="M100.8,450.4L104.6,447.9L101.3,447.4L97.5,449.8z" fill="#ffa129"/>
<path d="M191.0,447.0L194.4,445.2L190.7,442.0L187.3,443.7z" fill="#ff7329"/>
<path d="M126.1,443.9L129.8,441.7L126.3,440.6L122.6,442.7z" fill="#ff5929"/>
<path d="M89.8,455.0L93.7,452.3L90.5,452.0L86.7,454.6z" fill="#ffc929"/>
<path d="M183.8,445.5L187.3,443.7L183.6,440.7L180.1,442.5z" fill="#ff6029"/>
<path d="M107.9,448.8L111.7,446.3L108.4,445.6L104.6,447.9z" fill="#ff8729"/>
<path d="M78.9,460.2L82.8,457.4L79.7,457.2L75.8,460.0z" fill="#fff729"/>
<path d="M133.3,443.2L137.0,441.0L133.5,439.6L129.8,441.7z" fill="#ff4c29"/>
<path d="M176.7,444.4L180.1,442.5L176.4,439.7L173.0,441.5z" fill="#ff5129"/>
<path d="M140.5,442.7L144.2,440.5L140.6,438.9L137.0,441.0z" fill="#ff4329"/>
<path d="M169.5,443.5L173.0,441.5L169.3,439.0L165.8,440.9z" fill="#ff4629"/>
<path d="M194.7,450.5L198.1,448.7L194.4,445.2L191.0,447.0z" fill="#ff8929"/>
<path d="M147.8,442.4L151.4,440.4L147.8,438.5L144.2,440.5z" fill="#ff3e29"/>
<path d="M162.2,442.8L165.8,440.9L162.1,438.6L158.6,440.5z" fill="#ff3f29"/>
<path d="M155.0,442.5L158.6,440.5L155.0,438.4L151.4,440.4z" fill="#ff3d29"/>
<path d="M115.1,447.4L118.9,445.0L115.5,444.0L111.7,446.3z" fill="#ff7129"/>
<path d="M97.0,453.0L100.8,450.4L97.5,449.8L93.7,452.3z" fill="#ffaa29"/>
<path d="M187.6,448.9L191.0,447.0L187.3,443.7L183.8,445.5z" fill="#ff7329"/>
<path d="M86.0,457.8L89.8,455.0L86.7,454.6L82.8,457.4z" fill="#ffd429"/>
<path d="M122.3,446.3L126.1,443.9L122.6,442.7L118.9,445.0z" fill="#ff5f29"/>
<path d="M75.0,463.2L78.9,460.2L75.8,460.0L71.9,462.9z" fill="#f9ff29"/>
<path d="M104.1,451.3L107.9,448.8L104.6,447.9L100.8,450.4z" fill="#ff9029"/>
<path d="M180.4,447.5L183.8,445.5L180.1,442.5L176.7,444.4z" fill="#ff6029"/>
<path d="M198.4,454.4L201.8,452.5L198.1,448.7L194.7,450.5z" fill="#ffa229"/>
<path d="M129.6,445.4L133.3,443.2L129.8,441.7L126.1,443.9z" fill="#ff5129"/>
<path d="M173.2,446.3L176.7,444.4L173.0,441.5L169.5,443.5z" fill="#ff5229"/>
<path d="M136.8,444.9L140.5,442.7L137.0,441.0L133.3,443.2z" fill="#ff4829"/>
<path d="M93.1,455.7L97.0,453.0L93.7,452.3L89.8,455.0z" fill="#ffb529"/>
<path d="M165.9,445.5L169.5,443.5L165.8,440.9L162.2,442.8z" fill="#ff4829"/>
<path d="M111.3,449.9L115.1,447.4L111.7,446.3L107.9,448.8z" fill="#ff7929"/>
<path d="M144.1,444.6L147.8,442.4L144.2,440.5L140.5,442.7z" fill="#ff4229"/>
<path d="M191.3,452.5L194.7,450.5L191.0,447.0L187.6,448.9z" fill="#ff8929"/>
<path d="M158.7,444.9L162.2,442.8L158.6,440.5L155.0,442.5z" fill="#ff4229"/>
<path d="M151.4,444.6L155.0,442.5L151.4,440.4L147.8,442.4z" fill="#ff4029"/>
<path d="M82.1,460.7L86.0,457.8L82.8,457.4L78.9,460.2z" fill="#ffe129"/>
<path d="M202.2,458.6L205.5,456.6L201.8,452.5L198.4,454.4z" fill="#ffc029"/>
<path d="M71.1,466.2L75.0,463.2L71.9,462.9L68.0,465.9z" fill="#eaff29"/>
<path d="M118.6,448.7L122.3,446.3L118.9,445.0L115.1,447.4z" fill="#ff6729"/>
<path d="M184.1,450.9L187.6,448.9L183.8,445.5L180.4,447.5z" fill="#ff7429"/>
<path d="M100.3,453.9L104.1,451.3L100.8,450.4L97.0,453.0z" fill="#ff9a29"/>
<path d="M125.8,447.8L129.6,445.4L126.1,443.9L122.3,446.3z" fill="#ff5829"/>
<path d="M176.9,449.5L180.4,447.5L176.7,444.4L173.2,446.3z" fill="#ff6229"/>
<path d="M195.0,456.4L198.4,454.4L194.7,450.5L191.3,452.5z" fill="#ffa329"/>
<path d="M205.9,463.1L209.3,461.1L205.5,456.6L202.2,458.6z" fill="#ffe129"/>
<path d="M89.2,458.5L93.1,455.7L89.8,455.0L86.0,457.8z" fill="#ffc129"/>
<path d="M133.1,447.2L136.8,444.9L133.3,443.2L129.6,445.4z" fill="#ff4e29"/>
<path d="M169.6,448.4L173.2,446.3L169.5,443.5L165.9,445.5z" fill="#ff5529"/>
<path d="M107.5,452.5L111.3,449.9L107.9,448.8L104.1,451.3z" fill="#ff8329"/>
<path d="M140.4,446.9L144.1,444.6L140.5,442.7L136.8,444.9z" fill="#ff4729"/>
<path d="M162.3,447.6L165.9,445.5L162.2,442.8L158.7,444.9z" fill="#ff4b29"/>
<path d="M78.1,463.7L82.1,460.7L78.9,460.2L75.0,463.2z" fill="#ffef29"/>
<path d="M147.7,446.9L151.4,444.6L147.8,442.4L144.1,444.6z" fill="#ff4429"/>
<path d="M155.0,447.1L158.7,444.9L155.0,442.5L151.4,444.6z" fill="#ff4629"/>
<path d="M187.8,454.6L191.3,452.5L187.6,448.9L184.1,450.9z" fill="#ff8a29"/>
<path d="M67.1,469.4L71.1,466.2L68.0,465.9L64.0,469.0z" fill="#daff29"/>
<path d="M209.6,468.0L213.0,465.9L209.3,461.1L205.9,463.1z" fill="#f8ff29"/>
<path d="M114.8,451.3L118.6,448.7L115.1,447.4L111.3,449.9z" fill="#ff6f29"/>
<path d="M198.8,460.7L202.2,458.6L198.4,454.4L195.0,456.4z" fill="#ffc129"/>
<path d="M96.4,456.7L100.3,453.9L97.0,453.0L93.1,455.7z" fill="#ffa529"/>
<path d="M180.6,453.0L184.1,450.9L180.4,447.5L176.9,449.5z" fill="#ff7629"/>
<path d="M213.3,473.1L216.7,471.0L213.0,465.9L209.6,468.0z" fill="#cfff29"/>
<path d="M122.1,450.3L125.8,447.8L122.3,446.3L118.6,448.7z" fill="#ff6029"/>
<path d="M85.3,461.5L89.2,458.5L86.0,457.8L82.1,460.7z" fill="#ffce29"/>
<path d="M173.3,451.7L176.9,449.5L173.2,446.3L169.6,448.4z" fill="#ff6529"/>
<path d="M191.6,458.5L195.0,456.4L191.3,452.5L187.8,454.6z" fill="#ffa529"/>
<path d="M202.5,465.3L205.9,463.1L202.2,458.6L198.8,460.7z" fill="#ffe329"/>
<path d="M217.0,478.5L220.4,476.3L216.7,471.0L213.3,473.1z" fill="#a2ff29"/>
<path d="M103.7,455.2L107.5,452.5L104.1,451.3L100.3,453.9z" fill="#ff8d29"/>
<path d="M129.4,449.7L133.1,447.2L129.6,445.4L125.8,447.8z" fill="#ff5529"/>
<path d="M74.2,466.8L78.1,463.7L75.0,463.2L71.1,466.2z" fill="#fffe29"/>
<path d="M63.1,472.7L67.1,469.4L64.0,469.0L60.1,472.2z" fill="#c9ff29"/>
<path d="M166.0,450.6L169.6,448.4L165.9,445.5L162.3,447.6z" fill="#ff5829"/>
<path d="M136.7,449.3L140.4,446.9L136.8,444.9L133.1,447.2z" fill="#ff4e29"/>
<path d="M158.7,449.9L162.3,447.6L158.7,444.9L155.0,447.1z" fill="#ff5029"/>
<path d="M144.0,449.2L147.7,446.9L144.1,444.6L140.4,446.9z" fill="#ff4a29"/>
<path d="M151.4,449.4L155.0,447.1L151.4,444.6L147.7,446.9z" fill="#ff4b29"/>
<path d="M184.4,456.7L187.8,454.6L184.1,450.9L180.6,453.0z" fill="#ff8d29"/>
<path d="M110.9,453.9L114.8,451.3L111.3,449.9L107.5,452.5z" fill="#ff7929"/>
<path d="M206.2,470.2L209.6,468.0L205.9,463.1L202.5,465.3z" fill="#f6ff29"/>
<path d="M92.5,459.6L96.4,456.7L93.1,455.7L89.2,458.5z" fill="#ffb229"/>
<path d="M195.3,462.9L198.8,460.7L195.0,456.4L191.6,458.5z" fill="#ffc429"/>
<path d="M177.1,455.2L180.6,453.0L176.9,449.5L173.3,451.7z" fill="#ff7929"/>
<path d="M81.4,464.6L85.3,461.5L82.1,460.7L78.1,463.7z" fill="#ffdd29"/>
<path d="M118.3,452.9L122.1,450.3L118.6,448.7L114.8,451.3z" fill="#ff6929"/>
<path d="M210.0,475.4L213.3,473.1L209.6,468.0L206.2,470.2z" fill="#ccff29"/>
<path d="M70.2,470.1L74.2,466.8L71.1,466.2L67.1,469.4z" fill="#efff29"/>
<path d="M99.8,458.0L103.7,455.2L100.3,453.9L96.4,456.7z" fill="#ff9929"/>
<path d="M169.8,453.9L173.3,451.7L169.6,448.4L166.0,450.6z" fill="#ff6929"/>
<path d="M125.6,452.2L129.4,449.7L125.8,447.8L122.1,450.3z" fill="#ff5d29"/>
<path d="M188.1,460.8L191.6,458.5L187.8,454.6L184.4,456.7z" fill="#ffa829"/>
<path d="M199.1,467.6L202.5,465.3L198.8,460.7L195.3,462.9z" fill="#ffe629"/>
<path d="M213.7,480.9L217.0,478.5L213.3,473.1L210.0,475.4z" fill="#9fff29"/>
<path d="M162.4,452.9L166.0,450.6L162.3,447.6L158.7,449.9z" fill="#ff5d29"/>
<path d="M133.0,451.8L136.7,449.3L133.1,447.2L129.4,449.7z" fill="#ff5529"/>
<path d="M155.1,452.2L158.7,449.9L155.0,447.1L151.4,449.4z" fill="#ff5529"/>
<path d="M140.3,451.7L144.0,449.2L140.4,446.9L136.7,449.3z" fill="#ff5129"/>
<path d="M147.7,451.8L151.4,449.4L147.7,446.9L144.0,449.2z" fill="#ff5129"/>
<path d="M88.6,462.6L92.5,459.6L89.2,458.5L85.3,461.5z" fill="#ffc029"/>
<path d="M107.1,456.7L110.9,453.9L107.5,452.5L103.7,455.2z" fill="#ff8429"/>
<path d="M180.8,459.0L184.4,456.7L180.6,453.0L177.1,455.2z" fill="#ff9129"/>
<path d="M202.8,472.5L206.2,470.2L202.5,465.3L199.1,467.6z" fill="#f2ff29"/>
<path d="M77.4,467.8L81.4,464.6L78.1,463.7L74.2,466.8z" fill="#ffed29"/>
<path d="M191.9,465.2L195.3,462.9L191.6,458.5L188.1,460.8z" fill="#ffc729"/>
<path d="M66.2,473.5L70.2,470.1L67.1,469.4L63.1,472.7z" fill="#ddff29"/>
<path d="M114.4,455.6L118.3,452.9L114.8,451.3L110.9,453.9z" fill="#ff7429"/>
<path d="M173.5,457.5L177.1,455.2L173.3,451.7L169.8,453.9z" fill="#ff7e29"/>
<path d="M95.9,460.9L99.8,458.0L96.4,456.7L92.5,459.6z" fill="#ffa629"/>
<path d="M206.5,477.8L210.0,475.4L206.2,470.2L202.8,472.5z" fill="#c8ff29"/>
<path d="M121.8,454.9L125.6,452.2L122.1,450.3L118.3,452.9z" fill="#ff6729"/>
<path d="M166.2,456.3L169.8,453.9L166.0,450.6L162.4,452.9z" fill="#ff6f29"/>
<path d="M184.6,463.1L188.1,460.8L184.4,456.7L180.8,459.0z" fill="#ffad29"/>
<path d="M195.6,469.9L199.1,467.6L195.3,462.9L191.9,465.2z" fill="#ffea29"/>
<path d="M210.3,483.3L213.7,480.9L210.0,475.4L206.5,477.8z" fill="#9aff29"/>
<path d="M129.2,454.4L133.0,451.8L129.4,449.7L125.6,452.2z" fill="#ff5e29"/>
<path d="M84.6,465.7L88.6,462.6L85.3,461.5L81.4,464.6z" fill="#ffcf29"/>
<path d="M158.8,455.3L162.4,452.9L158.7,449.9L155.1,452.2z" fill="#ff6329"/>
<path d="M103.2,459.6L107.1,456.7L103.7,455.2L99.8,458.0z" fill="#ff9129"/>
<path d="M136.6,454.2L140.3,451.7L136.7,449.3L133.0,451.8z" fill="#ff5a29"/>
<path d="M151.4,454.7L155.1,452.2L151.4,449.4L147.7,451.8z" fill="#ff5c29"/>
<path d="M144.0,454.3L147.7,451.8L144.0,449.2L140.3,451.7z" fill="#ff5929"/>
<path d="M73.4,471.1L77.4,467.8L74.2,466.8L70.2,470.1z" fill="#fffe29"/>
<path d="M177.3,461.4L180.8,459.0L177.1,455.2L173.5,457.5z" fill="#ff9629"/>
<path d="M199.4,475.0L202.8,472.5L199.1,467.6L195.6,469.9z" fill="#edff29"/>
<path d="M110.6,458.5L114.4,455.6L110.9,453.9L107.1,456.7z" fill="#ff7f29"/>
<path d="M188.3,467.6L191.9,465.2L188.1,460.8L184.6,463.1z" fill="#ffcd29"/>
<path d="M91.9,464.0L95.9,460.9L92.5,459.6L88.6,462.6z" fill="#ffb429"/>
<path d="M169.9,459.9L173.5,457.5L169.8,453.9L166.2,456.3z" fill="#ff8429"/>
<path d="M203.1,480.3L206.5,477.8L202.8,472.5L199.4,475.0z" fill="#c3ff29"/>
<path d="M117.9,457.7L121.8,454.9L118.3,452.9L114.4,455.6z" fill="#ff7229"/>
<path d="M80.7,469.0L84.6,465.7L81.4,464.6L77.4,467.8z" fill="#ffdf29"/>
<path d="M162.5,458.8L166.2,456.3L162.4,452.9L158.8,455.3z" fill="#ff7529"/>
<path d="M125.4,457.1L129.2,454.4L125.6,452.2L121.8,454.9z" fill="#ff6929"/>
<path d="M181.0,465.6L184.6,463.1L180.8,459.0L177.3,461.4z" fill="#ffb329"/>
<path d="M99.3,462.5L103.2,459.6L99.8,458.0L95.9,460.9z" fill="#ff9e29"/>
<path d="M192.1,472.4L195.6,469.9L191.9,465.2L188.3,467.6z" fill="#fff029"/>
<path d="M69.4,474.5L73.4,471.1L70.2,470.1L66.2,473.5z" fill="#eeff29"/>
<path d="M206.8,485.9L210.3,483.3L206.5,477.8L203.1,480.3z" fill="#94ff29"/>
<path d="M155.1,457.9L158.8,455.3L155.1,452.2L151.4,454.7z" fill="#ff6b29"/>
<path d="M132.8,456.9L136.6,454.2L133.0,451.8L129.2,454.4z" fill="#ff6329"/>
<path d="M147.7,457.3L151.4,454.7L147.7,451.8L144.0,454.3z" fill="#ff6429"/>
<path d="M140.2,456.9L144.0,454.3L140.3,451.7L136.6,454.2z" fill="#ff6229"/>
<path d="M173.7,463.9L177.3,461.4L173.5,457.5L169.9,459.9z" fill="#ff9d29"/>
<path d="M106.7,461.4L110.6,458.5L107.1,456.7L103.2,459.6z" fill="#ff8c29"/>
<path d="M88.0,467.1L91.9,464.0L88.6,462.6L84.6,465.7z" fill="#ffc429"/>
<path d="M195.9,477.5L199.4,475.0L195.6,469.9L192.1,472.4z" fill="#e7ff29"/>
<path d="M184.8,470.1L188.3,467.6L184.6,463.1L181.0,465.6z" fill="#ffd329"/>
<path d="M166.3,462.5L169.9,459.9L166.2,456.3L162.5,458.8z" fill="#ff8b29"/>
<path d="M76.7,472.3L80.7,469.0L77.4,467.8L73.4,471.1z" fill="#fff129"/>
<path d="M114.1,460.5L117.9,457.7L114.4,455.6L110.6,458.5z" fill="#ff7e29"/>
<path d="M199.6,482.9L203.1,480.3L199.4,475.0L195.9,477.5z" fill="#bcff29"/>
<path d="M95.3,465.6L99.3,462.5L95.9,460.9L91.9,464.0z" fill="#ffad29"/>
<path d="M158.8,461.3L162.5,458.8L158.8,455.3L155.1,457.9z" fill="#ff7d29"/>
<path d="M121.5,460.0L125.4,457.1L121.8,454.9L117.9,457.7z" fill="#ff7429"/>
<path d="M177.4,468.1L181.0,465.6L177.3,461.4L173.7,463.9z" fill="#ffba29"/>
<path d="M188.6,475.0L192.1,472.4L188.3,467.6L184.8,470.1z" fill="#fff729"/>
<path d="M203.3,488.6L206.8,485.9L203.1,480.3L199.6,482.9z" fill="#8dff29"/>
<path d="M151.4,460.5L155.1,457.9L151.4,454.7L147.7,457.3z" fill="#ff7329"/>
<path d="M129.0,459.7L132.8,456.9L129.2,454.4L125.4,457.1z" fill="#ff6e29"/>
<path d="M143.9,459.9L147.7,457.3L144.0,454.3L140.2,456.9z" fill="#ff6e29"/>
<path d="M136.4,459.7L140.2,456.9L136.6,454.2L132.8,456.9z" fill="#ff6c29"/>
<path d="M84.0,470.5L88.0,467.1L84.6,465.7L80.7,469.0z" fill="#ffd529"/>
<path d="M102.7,464.5L106.7,461.4L103.2,459.6L99.3,462.5z" fill="#ff9a29"/>
<path d="M170.0,466.5L173.7,463.9L169.9,459.9L166.3,462.5z" fill="#ffa529"/>
<path d="M192.3,480.2L195.9,477.5L192.1,472.4L188.6,475.0z" fill="#e0ff29"/>
<path d="M72.7,475.8L76.7,472.3L73.4,471.1L69.4,474.5z" fill="#fbff29"/>
<path d="M181.2,472.8L184.8,470.1L181.0,465.6L177.4,468.1z" fill="#ffda29"/>
<path d="M110.2,463.5L114.1,460.5L110.6,458.5L106.7,461.4z" fill="#ff8c29"/>
<path d="M162.6,465.1L166.3,462.5L162.5,458.8L158.8,461.3z" fill="#ff9429"/>
<path d="M91.4,468.9L95.3,465.6L91.9,464.0L88.0,467.1z" fill="#ffbd29"/>
<path d="M196.1,485.6L199.6,482.9L195.9,477.5L192.3,480.2z" fill="#b4ff29"/>
<path d="M117.6,462.9L121.5,460.0L117.9,457.7L114.1,460.5z" fill="#ff8129"/>
<path d="M155.1,464.0L158.8,461.3L155.1,457.9L151.4,460.5z" fill="#ff8629"/>
<path d="M125.1,462.6L129.0,459.7L125.4,457.1L121.5,460.0z" fill="#ff7a29"/>
<path d="M173.8,470.8L177.4,468.1L173.7,463.9L170.0,466.5z" fill="#ffc229"/>
<path d="M147.6,463.2L151.4,460.5L147.7,457.3L143.9,459.9z" fill="#ff7d29"/>
<path d="M199.8,491.4L203.3,488.6L199.6,482.9L196.1,485.6z" fill="#85ff29"/>
<path d="M185.0,477.7L188.6,475.0L184.8,470.1L181.2,472.8z" fill="#ffff29"/>
<path d="M80.0,473.9L84.0,470.5L80.7,469.0L76.7,472.3z" fill="#ffe729"/>
<path d="M132.6,462.5L136.4,459.7L132.8,456.9L129.0,459.7z" fill="#ff7729"/>
<path d="M140.1,462.7L143.9,459.9L140.2,456.9L136.4,459.7z" fill="#ff7829"/>
<path d="M98.8,467.6L102.7,464.5L99.3,462.5L95.3,465.6z" fill="#ffaa29"/>
<path d="M166.3,469.2L170.0,466.5L166.3,462.5L162.6,465.1z" fill="#ffae29"/>
<path d="M188.7,483.0L192.3,480.2L188.6,475.0L185.0,477.7z" fill="#d7ff29"/>
<path d="M106.3,466.7L110.2,463.5L106.7,461.4L102.7,464.5z" fill="#ff9a29"/>
<path d="M177.6,475.5L181.2,472.8L177.4,468.1L173.8,470.8z" fill="#ffe329"/>
<path d="M87.4,472.3L91.4,468.9L88.0,467.1L84.0,470.5z" fill="#ffcf29"/>
<path d="M158.9,467.9L162.6,465.1L158.8,461.3L155.1,464.0z" fill="#ff9d29"/>
<path d="M113.7,466.0L117.6,462.9L114.1,460.5L110.2,463.5z" fill="#ff8f29"/>
<path d="M192.5,488.5L196.1,485.6L192.3,480.2L188.7,483.0z" fill="#abff29"/>
<path d="M76.0,477.5L80.0,473.9L76.7,472.3L72.7,475.8z" fill="#fffa29"/>
<path d="M151.4,466.9L155.1,464.0L151.4,460.5L147.6,463.2z" fill="#ff9129"/>
<path d="M121.3,465.6L125.1,462.6L121.5,460.0L117.6,462.9z" fill="#ff8729"/>
<path d="M143.8,466.1L147.6,463.2L143.9,459.9L140.1,462.7z" fill="#ff8829"/>
<path d="M170.1,473.7L173.8,470.8L170.0,466.5L166.3,469.2z" fill="#ffcc29"/>
<path d="M94.8,470.9L98.8,467.6L95.3,465.6L91.4,468.9z" fill="#ffbb29"/>
<path d="M128.8,465.5L132.6,462.5L129.0,459.7L125.1,462.6z" fill="#ff8429"/>
<path d="M196.3,494.3L199.8,491.4L196.1,485.6L192.5,488.5z" fill="#7bff29"/>
<path d="M181.3,480.5L185.0,477.7L181.2,472.8L177.6,475.5z" fill="#f6ff29"/>
<path d="M136.3,465.7L140.1,462.7L136.4,459.7L132.6,462.5z" fill="#ff8429"/>
<path d="M102.3,469.9L106.3,466.7L102.7,464.5L98.8,467.6z" fill="#ffaa29"/>
<path d="M162.6,472.0L166.3,469.2L162.6,465.1L158.9,467.9z" fill="#ffb829"/>
<path d="M83.4,475.8L87.4,472.3L84.0,470.5L80.0,473.9z" fill="#ffe129"/>
<path d="M185.1,485.9L188.7,483.0L185.0,477.7L181.3,480.5z" fill="#cdff29"/>
<path d="M173.9,478.4L177.6,475.5L173.8,470.8L170.1,473.7z" fill="#ffed29"/>
<path d="M109.8,469.2L113.7,466.0L110.2,463.5L106.3,466.7z" fill="#ff9e29"/>
<path d="M155.1,470.7L158.9,467.9L155.1,464.0L151.4,466.9z" fill="#ffa829"/>
<path d="M188.9,491.4L192.5,488.5L188.7,483.0L185.1,485.9z" fill="#a0ff29"/>
<path d="M117.4,468.7L121.3,465.6L117.6,462.9L113.7,466.0z" fill="#ff9629"/>
<path d="M147.6,469.8L151.4,466.9L147.6,463.2L143.8,466.1z" fill="#ff9d29"/>
<path d="M90.8,474.4L94.8,470.9L91.4,468.9L87.4,472.3z" fill="#ffcd29"/>
<path d="M124.9,468.6L128.8,465.5L125.1,462.6L121.3,465.6z" fill="#ff9129"/>
<path d="M140.0,469.1L143.8,466.1L140.1,462.7L136.3,465.7z" fill="#ff9529"/>
<path d="M166.4,476.6L170.1,473.7L166.3,469.2L162.6,472.0z" fill="#ffd629"/>
<path d="M132.5,468.7L136.3,465.7L132.6,462.5L128.8,465.5z" fill="#ff9129"/>
<path d="M192.7,497.3L196.3,494.3L192.5,488.5L188.9,491.4z" fill="#70ff29"/>
<path d="M177.7,483.5L181.3,480.5L177.6,475.5L173.9,478.4z" fill="#ebff29"/>
<path d="M79.4,479.4L83.4,475.8L80.0,473.9L76.0,477.5z" fill="#fff529"/>
<path d="M98.3,473.2L102.3,469.9L98.8,467.6L94.8,470.9z" fill="#ffbc29"/>
<path d="M158.9,475.0L162.6,472.0L158.9,467.9L155.1,470.7z" fill="#ffc329"/>
<path d="M181.5,488.9L185.1,485.9L181.3,480.5L177.7,483.5z" fill="#c2ff29"/>
<path d="M105.9,472.4L109.8,469.2L106.3,466.7L102.3,469.9z" fill="#ffaf29"/>
<path d="M170.2,481.4L173.9,478.4L170.1,473.7L166.4,476.6z" fill="#fff929"/>
<path d="M151.3,473.8L155.1,470.7L151.4,466.9L147.6,469.8z" fill="#ffb429"/>
<path d="M86.8,477.9L90.8,474.4L87.4,472.3L83.4,475.8z" fill="#ffe029"/>
<path d="M185.3,494.5L188.9,491.4L185.1,485.9L181.5,488.9z" fill="#95ff29"/>
<path d="M113.4,472.0L117.4,468.7L113.7,466.0L109.8,469.2z" fill="#ffa629"/>
<path d="M143.8,472.8L147.6,469.8L143.8,466.1L140.0,469.1z" fill="#ffa929"/>
<path d="M121.0,471.7L124.9,468.6L121.3,465.6L117.4,468.7z" fill="#ffa129"/>
<path d="M136.2,472.2L140.0,469.1L136.3,465.7L132.5,468.7z" fill="#ffa229"/>
<path d="M128.6,471.8L132.5,468.7L128.8,465.5L124.9,468.6z" fill="#ffa029"/>
<path d="M162.7,479.6L166.4,476.6L162.6,472.0L158.9,475.0z" fill="#ffe229"/>
<path d="M189.0,500.5L192.7,497.3L188.9,491.4L185.3,494.5z" fill="#64ff29"/>
<path d="M174.0,486.6L177.7,483.5L173.9,478.4L170.2,481.4z" fill="#dfff29"/>
<path d="M94.3,476.8L98.3,473.2L94.8,470.9L90.8,474.4z" fill="#ffce29"/>
<path d="M155.1,478.1L158.9,475.0L155.1,470.7L151.3,473.8z" fill="#ffd029"/>
<path d="M177.8,492.0L181.5,488.9L177.7,483.5L174.0,486.6z" fill="#b6ff29"/>
<path d="M101.9,475.9L105.9,472.4L102.3,469.9L98.3,473.2z" fill="#ffc029"/>
<path d="M82.8,481.6L86.8,477.9L83.4,475.8L79.4,479.4z" fill="#fff429"/>
<path d="M166.5,484.5L170.2,481.4L166.4,476.6L162.7,479.6z" fill="#f9ff29"/>
<path d="M147.5,476.9L151.3,473.8L147.6,469.8L143.8,472.8z" fill="#ffc229"/>
<path d="M109.5,475.3L113.4,472.0L109.8,469.2L105.9,472.4z" fill="#ffb729"/>
<path d="M181.6,497.7L185.3,494.5L181.5,488.9L177.8,492.0z" fill="#88ff29"/>
<path d="M139.9,476.0L143.8,472.8L140.0,469.1L136.2,472.2z" fill="#ffb829"/>
<path d="M117.1,475.0L121.0,471.7L117.4,468.7L113.4,472.0z" fill="#ffb129"/>
<path d="M132.3,475.4L136.2,472.2L132.5,468.7L128.6,471.8z" fill="#ffb129"/>
<path d="M124.7,475.1L128.6,471.8L124.9,468.6L121.0,471.7z" fill="#ffaf29"/>
<path d="M90.3,480.4L94.3,476.8L90.8,474.4L86.8,477.9z" fill="#ffe229"/>
<path d="M185.4,503.8L189.0,500.5L185.3,494.5L181.6,497.7z" fill="#56ff29"/>
<path d="M158.9,482.8L162.7,479.6L158.9,475.0L155.1,478.1z" fill="#fff029"/>
<path d="M170.3,489.7L174.0,486.6L170.2,481.4L166.5,484.5z" fill="#d2ff29"/>
<path d="M97.9,479.5L101.9,475.9L98.3,473.2L94.3,476.8z" fill="#ffd329"/>
<path d="M151.3,481.3L155.1,478.1L151.3,473.8L147.5,476.9z" fill="#ffde29"/>
<path d="M174.1,495.2L177.8,492.0L174.0,486.6L170.3,489.7z" fill="#a8ff29"/>
<path d="M162.7,487.8L166.5,484.5L162.7,479.6L158.9,482.8z" fill="#ebff29"/>
<path d="M105.5,478.9L109.5,475.3L105.9,472.4L101.9,475.9z" fill="#ffc929"/>
<path d="M143.7,480.2L147.5,476.9L143.8,472.8L139.9,476.0z" fill="#ffd129"/>
<path d="M177.9,501.0L181.6,497.7L177.8,492.0L174.1,495.2z" fill="#7aff29"/>
<path d="M113.1,478.5L117.1,475.0L113.4,472.0L109.5,475.3z" fill="#ffc229"/>
<path d="M136.0,479.3L139.9,476.0L136.2,472.2L132.3,475.4z" fill="#ffc729"/>
<path d="M86.3,484.2L90.3,480.4L86.8,477.9L82.8,481.6z" fill="#fff729"/>
<path d="M120.7,478.5L124.7,475.1L121.0,471.7L117.1,475.0z" fill="#ffc029"/>
<path d="M128.4,478.8L132.3,475.4L128.6,471.8L124.7,475.1z" fill="#ffc229"/>
<path d="M181.7,507.2L185.4,503.8L181.6,497.7L177.9,501.0z" fill="#48ff29"/>
<path d="M155.1,486.1L158.9,482.8L155.1,478.1L151.3,481.3z" fill="#fffe29"/>
<path d="M166.5,493.0L170.3,489.7L166.5,484.5L162.7,487.8z" fill="#c4ff29"/>
<path d="M93.9,483.2L97.9,479.5L94.3,476.8L90.3,480.4z" fill="#ffe829"/>
<path d="M147.5,484.7L151.3,481.3L147.5,476.9L143.7,480.2z" fill="#ffed29"/>
<path d="M170.3,498.6L174.1,495.2L170.3,489.7L166.5,493.0z" fill="#99ff29"/>
<path d="M101.5,482.5L105.5,478.9L101.9,475.9L97.9,479.5z" fill="#ffdc29"/>
<path d="M158.9,491.1L162.7,487.8L158.9,482.8L155.1,486.1z" fill="#dcff29"/>
<path d="M139.8,483.6L143.7,480.2L139.9,476.0L136.0,479.3z" fill="#ffe129"/>
<path d="M109.1,482.1L113.1,478.5L109.5,475.3L105.5,478.9z" fill="#ffd529"/>
<path d="M174.1,504.5L177.9,501.0L174.1,495.2L170.3,498.6z" fill="#6aff29"/>
<path d="M132.1,482.8L136.0,479.3L132.3,475.4L128.4,478.8z" fill="#ffd829"/>
<path d="M116.8,482.0L120.7,478.5L117.1,475.0L113.1,478.5z" fill="#ffd229"/>
<path d="M124.5,482.3L128.4,478.8L124.7,475.1L120.7,478.5z" fill="#ffd329"/>
<path d="M177.9,510.7L181.7,507.2L177.9,501.0L174.1,504.5z" fill="#38ff29"/>
<path d="M151.3,489.5L155.1,486.1L151.3,481.3L147.5,484.7z" fill="#f0ff29"/>
<path d="M162.7,496.4L166.5,493.0L162.7,487.8L158.9,491.1z" fill="#b4ff29"/>
<path d="M89.8,487.0L93.9,483.2L90.3,480.4L86.3,484.2z" fill="#fffd29"/>
<path d="M143.6,488.1L147.5,484.7L143.7,480.2L139.8,483.6z" fill="#fffe29"/>
<path d="M97.5,486.3L101.5,482.5L97.9,479.5L93.9,483.2z" fill="#fff129"/>
<path d="M166.6,502.1L170.3,498.6L166.5,493.0L162.7,496.4z" fill="#89ff29"/>
<path d="M155.1,494.6L158.9,491.1L155.1,486.1L151.3,489.5z" fill="#ccff29"/>
<path d="M135.9,487.1L139.8,483.6L136.0,479.3L132.1,482.8z" fill="#fff229"/>
<path d="M105.1,485.8L109.1,482.1L105.5,478.9L101.5,482.5z" fill="#ffe929"/>
<path d="M128.2,486.3L132.1,482.8L128.4,478.8L124.5,482.3z" fill="#ffea29"/>
<path d="M170.4,508.0L174.1,504.5L170.3,498.6L166.6,502.1z" fill="#5aff29"/>
<path d="M112.8,485.7L116.8,482.0L113.1,478.5L109.1,482.1z" fill="#ffe529"/>
<path d="M120.5,485.9L124.5,482.3L120.7,478.5L116.8,482.0z" fill="#ffe629"/>
<path d="M174.2,514.4L177.9,510.7L174.1,504.5L170.4,508.0z" fill="#29ff2b"/>
<path d="M147.4,493.0L151.3,489.5L147.5,484.7L143.6,488.1z" fill="#dfff29"/>
<path d="M158.9,500.0L162.7,496.4L158.9,491.1L155.1,494.6z" fill="#a4ff29"/>
<path d="M93.4,490.2L97.5,486.3L93.9,483.2L89.8,487.0z" fill="#f7ff29"/>
<path d="M139.7,491.7L143.6,488.1L139.8,483.6L135.9,487.1z" fill="#eeff29"/>
<path d="M162.7,505.7L166.6,502.1L162.7,496.4L158.9,500.0z" fill="#78ff29"/>
<path d="M101.1,489.7L105.1,485.8L101.5,482.5L97.5,486.3z" fill="#ffff29"/>
<path d="M151.2,498.2L155.1,494.6L151.3,489.5L147.4,493.0z" fill="#baff29"/>
<path d="M132.0,490.7L135.9,487.1L132.1,482.8L128.2,486.3z" fill="#faff29"/>
<path d="M108.8,489.5L112.8,485.7L109.1,482.1L105.1,485.8z" fill="#fffa29"/>
<path d="M124.3,490.0L128.2,486.3L124.5,482.3L120.5,485.9z" fill="#fffd29"/>
<path d="M166.6,511.7L170.4,508.0L166.6,502.1L162.7,505.7z" fill="#48ff29"/>
<path d="M116.5,489.6L120.5,485.9L116.8,482.0L112.8,485.7z" fill="#fff929"/>
<path d="M170.4,518.1L174.2,514.4L170.4,508.0L166.6,511.7z" fill="#29ff3d"/>
<path d="M143.5,496.6L147.4,493.0L143.6,488.1L139.7,491.7z" fill="#cdff29"/>
<path d="M155.1,503.6L158.9,500.0L155.1,494.6L151.2,498.2z" fill="#91ff29"/>
<path d="M135.8,495.4L139.7,491.7L135.9,487.1L132.0,490.7z" fill="#dbff29"/>
<path d="M97.0,493.6L101.1,489.7L97.5,486.3L93.4,490.2z" fill="#e9ff29"/>
<path d="M158.9,509.4L162.7,505.7L158.9,500.0L155.1,503.6z" fill="#65ff29"/>
<path d="M128.0,494.4L132.0,490.7L128.2,486.3L124.3,490.0z" fill="#e6ff29"/>
<path d="M147.3,501.9L151.2,498.2L147.4,493.0L143.5,496.6z" fill="#a7ff29"/>
<path d="M104.8,493.4L108.8,489.5L105.1,485.8L101.1,489.7z" fill="#eeff29"/>
<path d="M120.3,493.8L124.3,490.0L120.5,485.9L116.5,489.6z" fill="#edff29"/>
<path d="M112.5,493.4L116.5,489.6L112.8,485.7L108.8,489.5z" fill="#efff29"/>
<path d="M162.7,515.6L166.6,511.7L162.7,505.7L158.9,509.4z" fill="#35ff29"/>
<path d="M166.6,522.0L170.4,518.1L166.6,511.7L162.7,515.6z" fill="#29ff51"/>
<path d="M139.6,500.4L143.5,496.6L139.7,491.7L135.8,495.4z" fill="#b9ff29"/>
<path d="M151.2,507.4L155.1,503.6L151.2,498.2L147.3,501.9z" fill="#7eff29"/>
<path d="M131.8,499.2L135.8,495.4L132.0,490.7L128.0,494.4z" fill="#c7ff29"/>
<path d="M155.0,513.3L158.9,509.4L155.1,503.6L151.2,507.4z" fill="#51ff29"/>
<path d="M124.0,498.3L128.0,494.4L124.3,490.0L120.3,493.8z" fill="#d1ff29"/>
<path d="M100.7,497.4L104.8,493.4L101.1,489.7L97.0,493.6z" fill="#d7ff29"/>
<path d="M143.4,505.7L147.3,501.9L143.5,496.6L139.6,500.4z" fill="#93ff29"/>
<path d="M116.3,497.7L120.3,493.8L116.5,489.6L112.5,493.4z" fill="#d7ff29"/>
<path d="M108.5,497.4L112.5,493.4L108.8,489.5L104.8,493.4z" fill="#d9ff29"/>
<path d="M158.9,519.5L162.7,515.6L158.9,509.4L155.0,513.3z" fill="#29ff31"/>
<path d="M162.7,526.0L166.6,522.0L162.7,515.6L158.9,519.5z" fill="#29ff66"/>
<path d="M135.7,504.3L139.6,500.4L135.8,495.4L131.8,499.2z" fill="#a5ff29"/>
<path d="M147.3,511.3L151.2,507.4L147.3,501.9L143.4,505.7z" fill="#6aff29"/>
<path d="M127.9,503.1L131.8,499.2L128.0,494.4L124.0,498.3z" fill="#b2ff29"/>
<path d="M151.1,517.3L155.0,513.3L151.2,507.4L147.3,511.3z" fill="#3cff29"/>
<path d="M120.0,502.3L124.0,498.3L120.3,493.8L116.3,497.7z" fill="#bbff29"/>
<path d="M139.5,509.6L143.4,505.7L139.6,500.4L135.7,504.3z" fill="#7eff29"/>
<path d="M104.4,501.5L108.5,497.4L104.8,493.4L100.7,497.4z" fill="#c1ff29"/>
<path d="M112.2,501.7L116.3,497.7L112.5,493.4L108.5,497.4z" fill="#c0ff29"/>
<path d="M155.0,523.5L158.9,519.5L155.0,513.3L151.1,517.3z" fill="#29ff47"/>
<path d="M158.8,530.1L162.7,526.0L158.9,519.5L155.0,523.5z" fill="#29ff7c"/>
<path d="M131.7,508.2L135.7,504.3L131.8,499.2L127.9,503.1z" fill="#8eff29"/>
<path d="M143.3,515.3L147.3,511.3L143.4,505.7L139.5,509.6z" fill="#54ff29"/>
<path d="M123.9,507.2L127.9,503.1L124.0,498.3L120.0,502.3z" fill="#9bff29"/>
<path d="M147.2,521.4L151.1,517.3L147.3,511.3L143.3,515.3z" fill="#29ff2c"/>
<path d="M116.0,506.4L120.0,502.3L116.3,497.7L112.2,501.7z" fill="#a4ff29"/>
<path d="M108.2,505.9L112.2,501.7L108.5,497.4L104.4,501.5z" fill="#a8ff29"/>
<path d="M135.5,513.7L139.5,509.6L135.7,504.3L131.7,508.2z" fill="#67ff29"/>
<path d="M151.1,527.7L155.0,523.5L151.1,517.3L147.2,521.4z" fill="#29ff5e"/>
<path d="M154.9,534.4L158.8,530.1L155.0,523.5L151.1,527.7z" fill="#29ff94"/>
<path d="M127.7,512.4L131.7,508.2L127.9,503.1L123.9,507.2z" fill="#77ff29"/>
<path d="M139.4,519.5L143.3,515.3L139.5,509.6L135.5,513.7z" fill="#3dff29"/>
<path d="M119.8,511.3L123.9,507.2L120.0,502.3L116.0,506.4z" fill="#83ff29"/>
<path d="M143.3,525.6L147.2,521.4L143.3,515.3L139.4,519.5z" fill="#29ff44"/>
<path d="M112.0,510.6L116.0,506.4L112.2,501.7L108.2,505.9z" fill="#8bff29"/>
<path d="M131.5,517.9L135.5,513.7L131.7,508.2L127.7,512.4z" fill="#50ff29"/>
<path d="M147.1,532.0L151.1,527.7L147.2,521.4L143.3,525.6z" fill="#29ff76"/>
<path d="M151.0,538.7L154.9,534.4L151.1,527.7L147.1,532.0z" fill="#29ffac"/>
<path d="M123.7,516.6L127.7,512.4L123.9,507.2L119.8,511.3z" fill="#5fff29"/>
<path d="M135.4,523.8L139.4,519.5L135.5,513.7L131.5,517.9z" fill="#29ff2d"/>
<path d="M115.8,515.6L119.8,511.3L116.0,506.4L112.0,510.6z" fill="#6aff29"/>
<path d="M139.3,530.0L143.3,525.6L139.4,519.5L135.4,523.8z" fill="#29ff5d"/>
<path d="M127.5,522.3L131.5,517.9L127.7,512.4L123.7,516.6z" fill="#37ff29"/>
<path d="M143.2,536.4L147.1,532.0L143.3,525.6L139.3,530.0z" fill="#29ff90"/>
<path d="M147.0,543.2L151.0,538.7L147.1,532.0L143.2,536.4z" fill="#29ffc6"/>
<path d="M119.6,521.0L123.7,516.6L119.8,511.3L115.8,515.6z" fill="#45ff29"/>
<path d="M131.4,528.2L135.4,523.8L131.5,517.9L127.5,522.3z" fill="#29ff47"/>
<path d="M135.3,534.4L139.3,530.0L135.4,523.8L131.4,528.2z" fill="#29ff77"/>
<path d="M123.5,526.7L127.5,522.3L123.7,516.6L119.6,521.0z" fill="#29ff35"/>
<path d="M139.2,541.0L143.2,536.4L139.3,530.0L135.3,534.4z" fill="#29ffaa"/>
<path d="M143.1,547.8L147.0,543.2L143.2,536.4L139.2,541.0z" fill="#29ffe2"/>
<path d="M127.4,532.7L131.4,528.2L127.5,522.3L123.5,526.7z" fill="#29ff62"/>
<path d="M131.3,539.0L135.3,534.4L131.4,528.2L127.4,532.7z" fill="#29ff92"/>
<path d="M135.2,545.6L139.2,541.0L135.3,534.4L131.3,539.0z" fill="#29ffc6"/>
<path d="M139.1,552.6L143.1,547.8L139.2,541.0L135.2,545.6z" fill="#29fffe"/>
</g>
<circle cx="139.1" cy="554.5" r="1.6" fill="#ffe0e0" stroke="#c07070" stroke-width="0.45"/>
<circle cx="59.9" cy="470.5" r="1.75" fill="#c00000" stroke="#7a0000" stroke-width="0.3"/>
<circle cx="220.3" cy="477.2" r="1.6" fill="#ffe0e0" stroke="#c07070" stroke-width="0.45"/>
<circle cx="141.2" cy="425.4" r="1.75" fill="#c00000" stroke="#7a0000" stroke-width="0.3"/>
<circle cx="140.2" cy="453.4" r="1.75" fill="#c00000" stroke="#7a0000" stroke-width="0.3"/>
<circle cx="140.2" cy="457.7" r="1.75" fill="#c00000" stroke="#7a0000" stroke-width="0.3"/>
<text x="36.2" y="538.7" transform="rotate(-90 36.2 538.7)" font-family="Liberation Serif, Noto Sans CJK SC, serif" font-weight="bold" font-size="10.35" fill="#111">Polysaccharides contents（%）</text>
<text x="9.6" y="596" font-family="Liberation Serif, Noto Sans CJK SC, serif" font-weight="bold" font-size="10.35" fill="#111">C：Ultrasonic power（W）</text>
<text x="159.2" y="596.6" font-family="Liberation Serif, Noto Sans CJK SC, serif" font-weight="bold" font-size="10.35" fill="#111">A：Liquid-Solid ratio（g/mL）</text>
<polygon points="57.4,795.3 141.2,757.6 223.3,796.4 214.6,886.6 141.2,842.9 66.1,885.4" fill="#fff" stroke="none"/>
<path d="M64.1,864.7L141.2,823.2L216.6,866.0M62.5,847.5L141.2,806.8L218.3,848.6M60.8,830.1L141.2,790.4L219.9,831.3M59.1,812.6L141.2,773.9L221.6,813.8M57.4,795.3L141.2,757.6L223.3,796.4M83.4,854.4L78.4,785.9M160.0,833.9L161.7,767.3M102.7,844.0L99.3,776.4M178.9,844.6L182.2,777.0M121.9,833.6L120.3,767.0M197.7,855.3L202.8,786.7M66.1,885.4L57.4,795.3M141.2,842.9L141.2,757.6M214.6,886.6L223.3,796.4" fill="none" stroke="#555" stroke-width="0.65"/>
<polygon points="66.1,885.4 141.2,842.9 214.6,886.6 139.1,939.1" fill="#666666" stroke="#333" stroke-width="0.4"/>
<polyline points="138.0,845.4 139.3,845.4 140.5,845.3 141.8,845.3 143.0,845.3 144.3,845.4" fill="none" stroke="#39d41c" stroke-width="1.2"/>
<polyline points="183.9,907.9 182.7,908.3 181.5,908.7 180.3,909.0 179.1,909.4 177.9,909.8 176.6,910.2 175.3,910.5 174.1,910.9 172.8,911.2 171.5,911.5 170.1,911.9 168.8,912.2 167.5,912.5 166.1,912.8 164.8,913.1 163.4,913.3 162.0,913.6 160.6,913.9 159.2,914.1 157.8,914.4 156.4,914.6 155.0,914.8 153.6,915.0 152.1,915.2 150.7,915.4 149.2,915.6 147.8,915.8 146.3,916.0 144.9,916.1 143.4,916.3 141.9,916.4 140.4,916.5 139.0,916.6 137.5,916.7 136.0,916.8 134.5,916.9 133.0,917.0 131.6,917.1 130.1,917.1 128.6,917.2 127.1,917.2 125.6,917.2 124.2,917.2 122.7,917.2 121.2,917.2 119.7,917.2 118.3,917.2 116.8,917.1 115.3,917.1 113.9,917.0 112.4,916.9 111.0,916.9 109.6,916.8" fill="none" stroke="#39d41c" stroke-width="1.2"/>
<polyline points="125.7,852.0 126.7,851.9 127.8,851.8 128.8,851.7 129.8,851.7 130.9,851.6 131.9,851.6 132.9,851.5 134.0,851.5 135.0,851.5 136.0,851.4 137.1,851.4 138.1,851.4 139.1,851.4 140.2,851.4 141.2,851.4 142.2,851.4 143.2,851.4 144.3,851.4 145.3,851.5 146.3,851.5 147.3,851.6 148.3,851.6 149.3,851.7 150.3,851.7 151.3,851.8 152.3,851.9 153.3,851.9 154.3,852.0 155.3,852.1 156.3,852.2" fill="none" stroke="#a2d41c" stroke-width="1.2"/>
<polyline points="202.5,879.5 202.4,879.9 202.3,880.4 202.2,880.8 202.1,881.3 201.9,881.8 201.7,882.2 201.5,882.7 201.3,883.1 201.1,883.6 200.8,884.0 200.5,884.5 200.3,884.9 200.0,885.4 199.6,885.8 199.3,886.3 198.9,886.7 198.6,887.2 198.2,887.6 197.8,888.1 197.4,888.5 196.9,889.0 196.5,889.4 196.0,889.9 195.5,890.3 195.0,890.7 194.5,891.2 193.9,891.6 193.4,892.0 192.8,892.4 192.2,892.9 191.6,893.3 191.0,893.7 190.3,894.1 189.7,894.5 189.0,894.9 188.3,895.3 187.6,895.7 186.9,896.1 186.2,896.5 185.4,896.9 184.6,897.3 183.9,897.7 183.1,898.0 182.3,898.4 181.5,898.8 180.6,899.1 179.8,899.5 178.9,899.9 178.1,900.2 177.2,900.5 176.3,900.9 175.4,901.2 174.4,901.5 173.5,901.9 172.6,902.2 171.6,902.5 170.6,902.8 169.6,903.1 168.7,903.4 167.7,903.7 166.6,903.9 165.6,904.2 164.6,904.5 163.6,904.7 162.5,905.0 161.4,905.2 160.4,905.5 159.3,905.7 158.2,905.9 157.1,906.1 156.0,906.3 154.9,906.6 153.8,906.8 152.7,906.9 151.6,907.1 150.4,907.3 149.3,907.5 148.2,907.6 147.0,907.8 145.9,907.9 144.7,908.1 143.6,908.2 142.4,908.3 141.2,908.4 140.1,908.5 138.9,908.6 137.7,908.7 136.6,908.8 135.4,908.9 134.2,908.9 133.0,909.0 131.9,909.0 130.7,909.1 129.5,909.1 128.3,909.1 127.2,909.2 126.0,909.2 124.8,909.2 123.6,909.2 122.5,909.2 121.3,909.1 120.2,909.1 119.0,909.1 117.9,909.0 116.7,909.0 115.6,908.9 114.4,908.8 113.3,908.7 112.2,908.7 111.0,908.6 109.9,908.5 108.8,908.4 107.7,908.2 106.6,908.1 105.5,908.0 104.5,907.8 103.4,907.7 102.3,907.5 101.3,907.4 100.2,907.2 99.2,907.0 98.2,906.8 97.2,906.6 96.1,906.4 95.2,906.2" fill="none" stroke="#a2d41c" stroke-width="1.2"/>
<polyline points="85.2,881.7 85.2,881.4 85.2,881.1 85.2,880.8 85.2,880.5 85.3,880.2 85.3,879.9 85.4,879.6 85.5,879.3 85.6,879.0 85.7,878.6 85.8,878.3 85.9,878.0 86.0,877.7 86.2,877.4 86.3,877.1 86.5,876.8 86.6,876.5 86.8,876.2 87.0,875.9 87.2,875.6 87.5,875.3 87.7,875.0 87.9,874.7 88.2,874.4 88.4,874.1 88.7,873.8 89.0,873.5 89.3,873.3 89.6,873.0 89.9,872.7 90.2,872.4 90.6,872.1 90.9,871.8 91.3,871.6 91.6,871.3 92.0,871.0 92.4,870.7 92.8,870.5 93.2,870.2 93.6,869.9 94.0,869.7 94.5,869.4 94.9,869.1 95.3,868.9 95.8,868.6 96.3,868.4 96.7,868.1 97.2,867.9 97.7,867.7 98.2,867.4 98.7,867.2 99.2,866.9 99.7,866.7 100.3,866.5 100.8,866.3 101.3,866.0 101.9,865.8 102.4,865.6 103.0,865.4 103.6,865.2 104.1,865.0 104.7,864.8 105.3,864.6 105.9,864.4 106.5,864.2 107.1,864.0 107.7,863.8 108.3,863.6 109.0,863.5 109.6,863.3 110.2,863.1 110.8,863.0 111.5,862.8 112.1,862.6 112.8,862.5 113.4,862.3 114.1,862.2 114.8,862.1 115.4,861.9 116.1,861.8 116.8,861.7 117.5,861.5 118.1,861.4 118.8,861.3 119.5,861.2 120.2,861.1 120.9,861.0 121.6,860.9 122.3,860.8 123.0,860.7 123.7,860.6 124.4,860.5 125.1,860.4 125.8,860.3 126.5,860.3 127.2,860.2 127.9,860.1 128.7,860.1 129.4,860.0 130.1,860.0 130.8,859.9 131.5,859.9 132.2,859.9 133.0,859.8 133.7,859.8 134.4,859.8 135.1,859.8 135.8,859.7 136.5,859.7 137.2,859.7 138.0,859.7 138.7,859.7 139.4,859.7 140.1,859.8 140.8,859.8 141.5,859.8 142.2,859.8 142.9,859.8 143.6,859.9 144.3,859.9 145.0,860.0 145.7,860.0 146.4,860.1 147.0,860.1 147.7,860.2 148.4,860.2 149.1,860.3 149.7,860.4 150.4,860.5 151.1,860.6 151.7,860.6 152.4,860.7 153.0,860.8 153.7,860.9 154.3,861.0 155.0,861.1 155.6,861.2 156.2,861.4 156.9,861.5 157.5,861.6 158.1,861.7 158.7,861.9 159.3,862.0 159.9,862.1 160.5,862.3 161.1,862.4 161.6,862.6 162.2,862.7 162.8,862.9 163.3,863.1 163.9,863.2 164.4,863.4 164.9,863.6 165.5,863.8 166.0,863.9 166.5,864.1 167.0,864.3 167.5,864.5 168.0,864.7 168.5,864.9 169.0,865.1 169.4,865.3 169.9,865.5 170.3,865.7 170.8,866.0 171.2,866.2 171.6,866.4 172.0,866.6 172.4,866.9 172.8,867.1 173.2,867.3 173.6,867.6 174.0,867.8 174.3,868.0 174.7,868.3 175.0,868.5 175.4,868.8 175.7,869.0 176.0,869.3 176.3,869.6 176.6,869.8 176.9,870.1 177.1,870.4 177.4,870.6 177.6,870.9 177.9,871.2 178.1,871.4 178.3,871.7 178.5,872.0 178.7,872.3 178.9,872.6 179.1,872.9 179.2,873.1 179.4,873.4 179.5,873.7 179.7,874.0 179.8,874.3 179.9,874.6 180.0,874.9 180.1,875.2 180.1,875.5 180.2,875.8 180.3,876.1 180.3,876.4 180.3,876.7 180.3,877.0 180.3,877.3 180.3,877.6 180.3,877.9 180.3,878.2 180.2,878.5 180.2,878.8 180.1,879.1 180.0,879.5 179.9,879.8 179.8,880.1 179.7,880.4 179.6,880.7 179.5,881.0 179.3,881.3 179.2,881.6 179.0,881.9 178.8,882.2 178.6,882.5 178.4,882.8 178.2,883.1 177.9,883.4 177.7,883.7 177.4,884.0 177.2,884.3 176.9,884.6 176.6,884.9 176.3,885.2 176.0,885.5 175.7,885.8 175.4,886.1 175.0,886.4 174.7,886.7 174.3,887.0 173.9,887.3 173.5,887.6 173.1,887.8 172.7,888.1 172.3,888.4 171.9,888.7 171.4,889.0 171.0,889.2 170.5,889.5 170.0,889.8 169.6,890.0 169.1,890.3 168.6,890.5 168.1,890.8 167.6,891.1 167.0,891.3 166.5,891.6 165.9,891.8 165.4,892.0 164.8,892.3 164.2,892.5 163.7,892.7 163.1,893.0 162.5,893.2 161.9,893.4 161.3,893.6 160.6,893.8 160.0,894.1 159.4,894.3 158.7,894.5 158.1,894.7 157.4,894.9 156.7,895.0 156.1,895.2 155.4,895.4 154.7,895.6 154.0,895.8 153.3,895.9 152.6,896.1 151.9,896.3 151.2,896.4 150.5,896.6 149.8,896.7 149.0,896.9 148.3,897.0 147.6,897.1 146.8,897.3 146.1,897.4 145.3,897.5 144.6,897.6 143.8,897.7 143.1,897.8 142.3,897.9 141.5,898.0 140.8,898.1 140.0,898.2 139.2,898.3 138.5,898.3 137.7,898.4 136.9,898.5 136.1,898.5 135.4,898.6 134.6,898.6 133.8,898.7 133.0,898.7 132.2,898.7 131.5,898.8 130.7,898.8 129.9,898.8 129.1,898.8 128.3,898.8 127.6,898.8 126.8,898.8 126.0,898.8 125.2,898.8 124.5,898.8 123.7,898.8 122.9,898.7 122.2,898.7 121.4,898.7 120.7,898.6 119.9,898.6 119.2,898.5 118.4,898.4 117.7,898.4 116.9,898.3 116.2,898.2 115.5,898.1 114.8,898.0 114.0,898.0 113.3,897.9 112.6,897.8 111.9,897.7 111.2,897.5 110.5,897.4 109.8,897.3 109.2,897.2 108.5,897.0 107.8,896.9 107.2,896.8 106.5,896.6 105.9,896.5 105.2,896.3 104.6,896.2 104.0,896.0 103.4,895.8 102.8,895.7 102.2,895.5 101.6,895.3 101.0,895.1 100.4,894.9 99.9,894.7 99.3,894.5 98.8,894.3 98.2,894.1 97.7,893.9 97.2,893.7 96.7,893.5 96.2,893.3 95.7,893.1 95.2,892.8 94.8,892.6 94.3,892.4 93.8,892.1 93.4,891.9 93.0,891.6 92.6,891.4 92.2,891.1 91.8,890.9 91.4,890.6 91.0,890.4 90.7,890.1 90.3,889.9 90.0,889.6 89.6,889.3 89.3,889.1 89.0,888.8 88.7,888.5 88.4,888.2 88.2,887.9 87.9,887.7 87.7,887.4 87.4,887.1 87.2,886.8 87.0,886.5 86.8,886.2 86.6,885.9 86.4,885.6 86.3,885.3 86.1,885.1 86.0,884.8 85.8,884.5 85.7,884.2 85.6,883.9 85.5,883.5 85.4,883.2 85.4,882.9 85.3,882.6 85.3,882.3 85.2,882.0 85.2,881.7" fill="none" stroke="#d49d1c" stroke-width="1.2"/>
<circle cx="64.1" cy="864.7" r="0.75" fill="#111"/>
<text x="60.1" y="863.4" font-family="Liberation Sans, sans-serif" font-size="3.9" fill="#3a3a3a" text-anchor="middle">15</text>
<circle cx="62.5" cy="847.5" r="0.75" fill="#111"/>
<text x="58.5" y="846.2" font-family="Liberation Sans, sans-serif" font-size="3.9" fill="#3a3a3a" text-anchor="middle">16</text>
<circle cx="60.8" cy="830.1" r="0.75" fill="#111"/>
<text x="56.8" y="828.8" font-family="Liberation Sans, sans-serif" font-size="3.9" fill="#3a3a3a" text-anchor="middle">17</text>
<circle cx="59.1" cy="812.6" r="0.75" fill="#111"/>
<text x="55.1" y="811.3" font-family="Liberation Sans, sans-serif" font-size="3.9" fill="#3a3a3a" text-anchor="middle">18</text>
<circle cx="57.4" cy="795.3" r="0.75" fill="#111"/>
<text x="53.4" y="794.0" font-family="Liberation Sans, sans-serif" font-size="3.9" fill="#3a3a3a" text-anchor="middle">19</text>
<circle cx="66.1" cy="885.4" r="0.75" fill="#111"/>
<text x="61.5" y="889.5" font-family="Liberation Sans, sans-serif" font-size="3.9" fill="#3a3a3a" text-anchor="middle">500</text>
<circle cx="84.4" cy="898.8" r="0.75" fill="#111"/>
<text x="79.8" y="902.9" font-family="Liberation Sans, sans-serif" font-size="3.9" fill="#3a3a3a" text-anchor="middle">450</text>
<circle cx="102.6" cy="912.2" r="0.75" fill="#111"/>
<text x="98.0" y="916.3" font-family="Liberation Sans, sans-serif" font-size="3.9" fill="#3a3a3a" text-anchor="middle">400</text>
<circle cx="120.9" cy="925.6" r="0.75" fill="#111"/>
<text x="116.3" y="929.7" font-family="Liberation Sans, sans-serif" font-size="3.9" fill="#3a3a3a" text-anchor="middle">350</text>
<circle cx="139.1" cy="939.1" r="0.75" fill="#111"/>
<text x="134.5" y="943.2" font-family="Liberation Sans, sans-serif" font-size="3.9" fill="#3a3a3a" text-anchor="middle">300</text>
<circle cx="139.1" cy="939.1" r="0.75" fill="#111"/>
<text x="143.7" y="943.2" font-family="Liberation Sans, sans-serif" font-size="3.9" fill="#3a3a3a" text-anchor="middle">14</text>
<circle cx="158.0" cy="926.0" r="0.75" fill="#111"/>
<text x="162.6" y="930.1" font-family="Liberation Sans, sans-serif" font-size="3.9" fill="#3a3a3a" text-anchor="middle">16</text>
<circle cx="176.9" cy="912.8" r="0.75" fill="#111"/>
<text x="181.5" y="916.9" font-family="Liberation Sans, sans-serif" font-size="3.9" fill="#3a3a3a" text-anchor="middle">18</text>
<circle cx="195.7" cy="899.7" r="0.75" fill="#111"/>
<text x="200.3" y="903.8" font-family="Liberation Sans, sans-serif" font-size="3.9" fill="#3a3a3a" text-anchor="middle">20</text>
<circle cx="214.6" cy="886.6" r="0.75" fill="#111"/>
<text x="219.2" y="890.7" font-family="Liberation Sans, sans-serif" font-size="3.9" fill="#3a3a3a" text-anchor="middle">22</text>
<g stroke="#262618" stroke-width="0.4" stroke-opacity="0.8" stroke-linejoin="round">
<path d="M141.1,792.0L144.4,793.1L141.2,794.3L137.9,793.1z" fill="#3cff29"/>
<path d="M137.8,791.2L141.1,792.0L137.9,793.1L134.6,792.2z" fill="#63ff29"/>
<path d="M144.4,791.2L147.7,792.1L144.4,793.1L141.1,792.0z" fill="#64ff29"/>
<path d="M134.4,790.5L137.8,791.2L134.6,792.2L131.2,791.5z" fill="#87ff29"/>
<path d="M141.1,790.4L144.4,791.2L141.1,792.0L137.8,791.2z" fill="#8aff29"/>
<path d="M147.7,790.6L151.0,791.5L147.7,792.1L144.4,791.2z" fill="#88ff29"/>
<path d="M130.9,790.1L134.4,790.5L131.2,791.5L127.7,790.9z" fill="#a8ff29"/>
<path d="M151.1,790.2L154.4,791.0L151.0,791.5L147.7,790.6z" fill="#a9ff29"/>
<path d="M137.6,789.9L141.1,790.4L137.8,791.2L134.4,790.5z" fill="#acff29"/>
<path d="M144.4,789.9L147.7,790.6L144.4,791.2L141.1,790.4z" fill="#adff29"/>
<path d="M127.4,789.9L130.9,790.1L127.7,790.9L124.2,790.6z" fill="#c6ff29"/>
<path d="M154.5,790.1L157.8,790.8L154.4,791.0L151.1,790.2z" fill="#c6ff29"/>
<path d="M134.2,789.5L137.6,789.9L134.4,790.5L130.9,790.1z" fill="#ccff29"/>
<path d="M147.7,789.7L151.1,790.2L147.7,790.6L144.4,789.9z" fill="#ccff29"/>
<path d="M141.0,789.4L144.4,789.9L141.1,790.4L137.6,789.9z" fill="#ceff29"/>
<path d="M123.9,789.9L127.4,789.9L124.2,790.6L120.7,790.5z" fill="#e1ff29"/>
<path d="M158.0,790.3L161.3,790.9L157.8,790.8L154.5,790.1z" fill="#dfff29"/>
<path d="M130.7,789.4L134.2,789.5L130.9,790.1L127.4,789.9z" fill="#e9ff29"/>
<path d="M151.2,789.7L154.5,790.1L151.1,790.2L147.7,789.7z" fill="#e8ff29"/>
<path d="M137.5,789.2L141.0,789.4L137.6,789.9L134.2,789.5z" fill="#edff29"/>
<path d="M144.3,789.3L147.7,789.7L144.4,789.9L141.0,789.4z" fill="#ecff29"/>
<path d="M120.3,790.0L123.9,789.9L120.7,790.5L117.1,790.6z" fill="#f9ff29"/>
<path d="M161.5,790.8L164.8,791.3L161.3,790.9L158.0,790.3z" fill="#f5ff29"/>
<path d="M127.2,789.4L130.7,789.4L127.4,789.9L123.9,789.9z" fill="#fffc29"/>
<path d="M154.6,789.9L158.0,790.3L154.5,790.1L151.2,789.7z" fill="#fffe29"/>
<path d="M134.0,789.1L137.5,789.2L134.2,789.5L130.7,789.4z" fill="#fff629"/>
<path d="M147.8,789.4L151.2,789.7L147.7,789.7L144.3,789.3z" fill="#fff729"/>
<path d="M140.9,789.1L144.3,789.3L141.0,789.4L137.5,789.2z" fill="#fff529"/>
<path d="M116.7,790.5L120.3,790.0L117.1,790.6L113.5,790.9z" fill="#fff029"/>
<path d="M165.0,791.5L168.3,791.9L164.8,791.3L161.5,790.8z" fill="#fff829"/>
<path d="M123.6,789.7L127.2,789.4L123.9,789.9L120.3,790.0z" fill="#ffe529"/>
<path d="M158.1,790.4L161.5,790.8L158.0,790.3L154.6,789.9z" fill="#ffea29"/>
<path d="M130.5,789.3L134.0,789.1L130.7,789.4L127.2,789.4z" fill="#ffde29"/>
<path d="M151.2,789.7L154.6,789.9L151.2,789.7L147.8,789.4z" fill="#ffe129"/>
<path d="M137.4,789.2L140.9,789.1L137.5,789.2L134.0,789.1z" fill="#ffdb29"/>
<path d="M144.3,789.3L147.8,789.4L144.3,789.3L140.9,789.1z" fill="#ffdc29"/>
<path d="M113.0,791.1L116.7,790.5L113.5,790.9L109.8,791.5z" fill="#ffdf29"/>
<path d="M168.6,792.4L171.9,792.8L168.3,791.9L165.0,791.5z" fill="#ffea29"/>
<path d="M119.9,790.3L123.6,789.7L120.3,790.0L116.7,790.5z" fill="#ffd229"/>
<path d="M161.7,791.3L165.0,791.5L161.5,790.8L158.1,790.4z" fill="#ffda29"/>
<path d="M126.9,789.7L130.5,789.3L127.2,789.4L123.6,789.7z" fill="#ffc929"/>
<path d="M154.7,790.4L158.1,790.4L154.6,789.9L151.2,789.7z" fill="#ffce29"/>
<path d="M133.8,789.5L137.4,789.2L134.0,789.1L130.5,789.3z" fill="#ffc429"/>
<path d="M147.8,789.8L151.2,789.7L147.8,789.4L144.3,789.3z" fill="#ffc729"/>
<path d="M140.8,789.5L144.3,789.3L140.9,789.1L137.4,789.2z" fill="#ffc329"/>
<path d="M172.2,793.7L175.5,793.9L171.9,792.8L168.6,792.4z" fill="#ffe029"/>
<path d="M109.3,792.0L113.0,791.1L109.8,791.5L106.1,792.2z" fill="#ffd029"/>
<path d="M165.2,792.4L168.6,792.4L165.0,791.5L161.7,791.3z" fill="#ffcd29"/>
<path d="M116.3,791.1L119.9,790.3L116.7,790.5L113.0,791.1z" fill="#ffc129"/>
<path d="M158.3,791.3L161.7,791.3L158.1,790.4L154.7,790.4z" fill="#ffbf29"/>
<path d="M123.2,790.4L126.9,789.7L123.6,789.7L119.9,790.3z" fill="#ffb729"/>
<path d="M130.2,790.0L133.8,789.5L130.5,789.3L126.9,789.7z" fill="#ffb029"/>
<path d="M151.3,790.6L154.7,790.4L151.2,789.7L147.8,789.8z" fill="#ffb529"/>
<path d="M137.2,789.9L140.8,789.5L137.4,789.2L133.8,789.5z" fill="#ffae29"/>
<path d="M144.3,790.1L147.8,789.8L144.3,789.3L140.8,789.5z" fill="#ffb029"/>
<path d="M175.8,795.2L179.1,795.4L175.5,793.9L172.2,793.7z" fill="#ffd929"/>
<path d="M105.6,793.1L109.3,792.0L106.1,792.2L102.4,793.2z" fill="#ffc529"/>
<path d="M168.8,793.7L172.2,793.7L168.6,792.4L165.2,792.4z" fill="#ffc529"/>
<path d="M112.6,792.1L116.3,791.1L113.0,791.1L109.3,792.0z" fill="#ffb429"/>
<path d="M161.8,792.6L165.2,792.4L161.7,791.3L158.3,791.3z" fill="#ffb429"/>
<path d="M119.6,791.3L123.2,790.4L119.9,790.3L116.3,791.1z" fill="#ffa829"/>
<path d="M154.8,791.6L158.3,791.3L154.7,790.4L151.3,790.6z" fill="#ffa829"/>
<path d="M126.6,790.8L130.2,790.0L126.9,789.7L123.2,790.4z" fill="#ffa029"/>
<path d="M147.8,791.0L151.3,790.6L147.8,789.8L144.3,790.1z" fill="#ffa029"/>
<path d="M133.7,790.6L137.2,789.9L133.8,789.5L130.2,790.0z" fill="#ff9c29"/>
<path d="M140.7,790.7L144.3,790.1L140.8,789.5L137.2,789.9z" fill="#ff9c29"/>
<path d="M179.5,797.1L182.8,797.1L179.1,795.4L175.8,795.2z" fill="#ffd629"/>
<path d="M101.8,794.5L105.6,793.1L102.4,793.2L98.6,794.5z" fill="#ffbc29"/>
<path d="M172.5,795.4L175.8,795.2L172.2,793.7L168.8,793.7z" fill="#ffc029"/>
<path d="M108.8,793.3L112.6,792.1L109.3,792.0L105.6,793.1z" fill="#ffaa29"/>
<path d="M165.4,794.0L168.8,793.7L165.2,792.4L161.8,792.6z" fill="#ffad29"/>
<path d="M115.9,792.4L119.6,791.3L116.3,791.1L112.6,792.1z" fill="#ff9c29"/>
<path d="M158.4,793.0L161.8,792.6L158.3,791.3L154.8,791.6z" fill="#ff9e29"/>
<path d="M122.9,791.8L126.6,790.8L123.2,790.4L119.6,791.3z" fill="#ff9229"/>
<path d="M151.3,792.2L154.8,791.6L151.3,790.6L147.8,791.0z" fill="#ff9329"/>
<path d="M183.2,799.2L186.4,799.1L182.8,797.1L179.5,797.1z" fill="#ffd829"/>
<path d="M130.0,791.5L133.7,790.6L130.2,790.0L126.6,790.8z" fill="#ff8c29"/>
<path d="M144.2,791.6L147.8,791.0L144.3,790.1L140.7,790.7z" fill="#ff8d29"/>
<path d="M137.1,791.4L140.7,790.7L137.2,789.9L133.7,790.6z" fill="#ff8b29"/>
<path d="M98.0,796.1L101.8,794.5L98.6,794.5L94.8,795.9z" fill="#ffb729"/>
<path d="M176.1,797.3L179.5,797.1L175.8,795.2L172.5,795.4z" fill="#ffbe29"/>
<path d="M105.1,794.8L108.8,793.3L105.6,793.1L101.8,794.5z" fill="#ffa329"/>
<path d="M169.1,795.8L172.5,795.4L168.8,793.7L165.4,794.0z" fill="#ffa929"/>
<path d="M112.1,793.7L115.9,792.4L112.6,792.1L108.8,793.3z" fill="#ff9329"/>
<path d="M186.9,801.6L190.1,801.4L186.4,799.1L183.2,799.2z" fill="#ffdc29"/>
<path d="M162.0,794.6L165.4,794.0L161.8,792.6L158.4,793.0z" fill="#ff9829"/>
<path d="M119.2,793.0L122.9,791.8L119.6,791.3L115.9,792.4z" fill="#ff8829"/>
<path d="M154.9,793.6L158.4,793.0L154.8,791.6L151.3,792.2z" fill="#ff8b29"/>
<path d="M126.3,792.6L130.0,791.5L126.6,790.8L122.9,791.8z" fill="#ff8029"/>
<path d="M94.2,797.9L98.0,796.1L94.8,795.9L91.0,797.6z" fill="#ffb429"/>
<path d="M147.8,792.9L151.3,792.2L147.8,791.0L144.2,791.6z" fill="#ff8229"/>
<path d="M133.5,792.4L137.1,791.4L133.7,790.6L130.0,791.5z" fill="#ff7d29"/>
<path d="M140.6,792.5L144.2,791.6L140.7,790.7L137.1,791.4z" fill="#ff7d29"/>
<path d="M179.8,799.6L183.2,799.2L179.5,797.1L176.1,797.3z" fill="#ffc129"/>
<path d="M101.3,796.4L105.1,794.8L101.8,794.5L98.0,796.1z" fill="#ff9f29"/>
<path d="M172.7,797.9L176.1,797.3L172.5,795.4L169.1,795.8z" fill="#ffa929"/>
<path d="M190.6,804.3L193.8,804.0L190.1,801.4L186.9,801.6z" fill="#ffe529"/>
<path d="M108.4,795.3L112.1,793.7L108.8,793.3L105.1,794.8z" fill="#ff8d29"/>
<path d="M165.6,796.4L169.1,795.8L165.4,794.0L162.0,794.6z" fill="#ff9629"/>
<path d="M115.5,794.5L119.2,793.0L115.9,792.4L112.1,793.7z" fill="#ff8029"/>
<path d="M90.3,799.9L94.2,797.9L91.0,797.6L87.2,799.6z" fill="#ffb529"/>
<path d="M158.5,795.3L162.0,794.6L158.4,793.0L154.9,793.6z" fill="#ff8629"/>
<path d="M183.5,802.1L186.9,801.6L183.2,799.2L179.8,799.6z" fill="#ffc729"/>
<path d="M122.6,793.9L126.3,792.6L122.9,791.8L119.2,793.0z" fill="#ff7729"/>
<path d="M151.3,794.5L154.9,793.6L151.3,792.2L147.8,792.9z" fill="#ff7b29"/>
<path d="M129.8,793.6L133.5,792.4L130.0,791.5L126.3,792.6z" fill="#ff7229"/>
<path d="M144.2,793.9L147.8,792.9L144.2,791.6L140.6,792.5z" fill="#ff7429"/>
<path d="M137.0,793.6L140.6,792.5L137.1,791.4L133.5,792.4z" fill="#ff7129"/>
<path d="M194.3,807.3L197.6,806.8L193.8,804.0L190.6,804.3z" fill="#fff229"/>
<path d="M97.4,798.4L101.3,796.4L98.0,796.1L94.2,797.9z" fill="#ff9e29"/>
<path d="M176.4,800.2L179.8,799.6L176.1,797.3L172.7,797.9z" fill="#ffad29"/>
<path d="M104.6,797.1L108.4,795.3L105.1,794.8L101.3,796.4z" fill="#ff8b29"/>
<path d="M169.3,798.6L172.7,797.9L169.1,795.8L165.6,796.4z" fill="#ff9729"/>
<path d="M187.3,804.9L190.6,804.3L186.9,801.6L183.5,802.1z" fill="#ffd129"/>
<path d="M86.5,802.2L90.3,799.9L87.2,799.6L83.3,801.7z" fill="#ffb929"/>
<path d="M111.7,796.1L115.5,794.5L112.1,793.7L108.4,795.3z" fill="#ff7c29"/>
<path d="M162.1,797.3L165.6,796.4L162.0,794.6L158.5,795.3z" fill="#ff8529"/>
<path d="M198.1,810.6L201.3,810.0L197.6,806.8L194.3,807.3z" fill="#fcff29"/>
<path d="M118.9,795.4L122.6,793.9L119.2,793.0L115.5,794.5z" fill="#ff7129"/>
<path d="M154.9,796.3L158.5,795.3L154.9,793.6L151.3,794.5z" fill="#ff7829"/>
<path d="M126.1,795.0L129.8,793.6L126.3,792.6L122.6,793.9z" fill="#ff6a29"/>
<path d="M93.6,800.5L97.4,798.4L94.2,797.9L90.3,799.9z" fill="#ffa029"/>
<path d="M180.1,802.8L183.5,802.1L179.8,799.6L176.4,800.2z" fill="#ffb529"/>
<path d="M147.7,795.5L151.3,794.5L147.8,792.9L144.2,793.9z" fill="#ff6e29"/>
<path d="M133.3,794.9L137.0,793.6L133.5,792.4L129.8,793.6z" fill="#ff6729"/>
<path d="M140.5,795.1L144.2,793.9L140.6,792.5L137.0,793.6z" fill="#ff6929"/>
<path d="M191.0,808.0L194.3,807.3L190.6,804.3L187.3,804.9z" fill="#ffdf29"/>
<path d="M100.7,799.1L104.6,797.1L101.3,796.4L97.4,798.4z" fill="#ff8b29"/>
<path d="M173.0,801.0L176.4,800.2L172.7,797.9L169.3,798.6z" fill="#ff9c29"/>
<path d="M82.6,804.7L86.5,802.2L83.3,801.7L79.4,804.2z" fill="#ffc029"/>
<path d="M201.8,814.2L205.1,813.5L201.3,810.0L198.1,810.6z" fill="#e8ff29"/>
<path d="M107.9,798.0L111.7,796.1L108.4,795.3L104.6,797.1z" fill="#ff7b29"/>
<path d="M165.8,799.6L169.3,798.6L165.6,796.4L162.1,797.3z" fill="#ff8829"/>
<path d="M183.9,805.7L187.3,804.9L183.5,802.1L180.1,802.8z" fill="#ffc029"/>
<path d="M115.1,797.2L118.9,795.4L115.5,794.5L111.7,796.1z" fill="#ff6e29"/>
<path d="M158.6,798.4L162.1,797.3L158.5,795.3L154.9,796.3z" fill="#ff7829"/>
<path d="M89.7,802.9L93.6,800.5L90.3,799.9L86.5,802.2z" fill="#ffa529"/>
<path d="M122.3,796.7L126.1,795.0L122.6,793.9L118.9,795.4z" fill="#ff6529"/>
<path d="M151.4,797.5L154.9,796.3L151.3,794.5L147.7,795.5z" fill="#ff6c29"/>
<path d="M194.7,811.4L198.1,810.6L194.3,807.3L191.0,808.0z" fill="#fff029"/>
<path d="M205.6,818.0L208.8,817.2L205.1,813.5L201.8,814.2z" fill="#d1ff29"/>
<path d="M129.6,796.5L133.3,794.9L129.8,793.6L126.1,795.0z" fill="#ff6129"/>
<path d="M144.1,796.8L147.7,795.5L144.2,793.9L140.5,795.1z" fill="#ff6429"/>
<path d="M136.8,796.5L140.5,795.1L137.0,793.6L133.3,794.9z" fill="#ff6129"/>
<path d="M176.7,803.8L180.1,802.8L176.4,800.2L173.0,801.0z" fill="#ffa529"/>
<path d="M78.7,807.4L82.6,804.7L79.4,804.2L75.5,806.8z" fill="#ffca29"/>
<path d="M96.9,801.4L100.7,799.1L97.4,798.4L93.6,800.5z" fill="#ff8f29"/>
<path d="M169.5,802.1L173.0,801.0L169.3,798.6L165.8,799.6z" fill="#ff8f29"/>
<path d="M187.6,808.9L191.0,808.0L187.3,804.9L183.9,805.7z" fill="#ffcf29"/>
<path d="M104.1,800.2L107.9,798.0L104.6,797.1L100.7,799.1z" fill="#ff7c29"/>
<path d="M209.3,822.2L212.5,821.3L208.8,817.2L205.6,818.0z" fill="#b5ff29"/>
<path d="M198.5,815.1L201.8,814.2L198.1,810.6L194.7,811.4z" fill="#f8ff29"/>
<path d="M85.8,805.5L89.7,802.9L86.5,802.2L82.6,804.7z" fill="#ffae29"/>
<path d="M162.3,800.8L165.8,799.6L162.1,797.3L158.6,798.4z" fill="#ff7c29"/>
<path d="M111.3,799.2L115.1,797.2L111.7,796.1L107.9,798.0z" fill="#ff6e29"/>
<path d="M74.8,810.5L78.7,807.4L75.5,806.8L71.6,809.7z" fill="#ffd729"/>
<path d="M155.0,799.7L158.6,798.4L154.9,796.3L151.4,797.5z" fill="#ff6e29"/>
<path d="M180.4,806.8L183.9,805.7L180.1,802.8L176.7,803.8z" fill="#ffb229"/>
<path d="M118.6,798.6L122.3,796.7L118.9,795.4L115.1,797.2z" fill="#ff6429"/>
<path d="M213.1,826.7L216.3,825.6L212.5,821.3L209.3,822.2z" fill="#96ff29"/>
<path d="M93.0,803.9L96.9,801.4L93.6,800.5L89.7,802.9z" fill="#ff9529"/>
<path d="M147.7,798.9L151.4,797.5L147.7,795.5L144.1,796.8z" fill="#ff6429"/>
<path d="M125.8,798.2L129.6,796.5L126.1,795.0L122.3,796.7z" fill="#ff5e29"/>
<path d="M140.4,798.4L144.1,796.8L140.5,795.1L136.8,796.5z" fill="#ff5e29"/>
<path d="M133.1,798.2L136.8,796.5L133.3,794.9L129.6,796.5z" fill="#ff5c29"/>
<path d="M191.4,812.5L194.7,811.4L191.0,808.0L187.6,808.9z" fill="#ffe229"/>
<path d="M202.3,819.1L205.6,818.0L201.8,814.2L198.5,815.1z" fill="#dfff29"/>
<path d="M173.2,805.0L176.7,803.8L173.0,801.0L169.5,802.1z" fill="#ff9929"/>
<path d="M100.2,802.6L104.1,800.2L100.7,799.1L96.9,801.4z" fill="#ff8129"/>
<path d="M216.8,831.4L220.0,830.2L216.3,825.6L213.1,826.7z" fill="#73ff29"/>
<path d="M81.9,808.4L85.8,805.5L82.6,804.7L78.7,807.4z" fill="#ffb929"/>
<path d="M166.0,803.4L169.5,802.1L165.8,799.6L162.3,800.8z" fill="#ff8429"/>
<path d="M70.8,813.7L74.8,810.5L71.6,809.7L67.7,812.9z" fill="#ffe829"/>
<path d="M184.2,810.1L187.6,808.9L183.9,805.7L180.4,806.8z" fill="#ffc329"/>
<path d="M107.5,801.5L111.3,799.2L107.9,798.0L104.1,800.2z" fill="#ff7129"/>
<path d="M206.0,823.4L209.3,822.2L205.6,818.0L202.3,819.1z" fill="#c2ff29"/>
<path d="M195.1,816.3L198.5,815.1L194.7,811.4L191.4,812.5z" fill="#fff929"/>
<path d="M158.7,802.2L162.3,800.8L158.6,798.4L155.0,799.7z" fill="#ff7429"/>
<path d="M89.1,806.6L93.0,803.9L89.7,802.9L85.8,805.5z" fill="#ff9f29"/>
<path d="M114.7,800.7L118.6,798.6L115.1,797.2L111.3,799.2z" fill="#ff6529"/>
<path d="M151.4,801.2L155.0,799.7L151.4,797.5L147.7,798.9z" fill="#ff6729"/>
<path d="M122.1,800.2L125.8,798.2L122.3,796.7L118.6,798.6z" fill="#ff5d29"/>
<path d="M177.0,808.1L180.4,806.8L176.7,803.8L173.2,805.0z" fill="#ffa729"/>
<path d="M144.0,800.5L147.7,798.9L144.1,796.8L140.4,798.4z" fill="#ff5e29"/>
<path d="M129.4,800.1L133.1,798.2L129.6,796.5L125.8,798.2z" fill="#ff5a29"/>
<path d="M136.7,800.2L140.4,798.4L136.8,796.5L133.1,798.2z" fill="#ff5a29"/>
<path d="M78.0,811.5L81.9,808.4L78.7,807.4L74.8,810.5z" fill="#ffc829"/>
<path d="M209.8,828.0L213.1,826.7L209.3,822.2L206.0,823.4z" fill="#a2ff29"/>
<path d="M96.3,805.2L100.2,802.6L96.9,801.4L93.0,803.9z" fill="#ff8929"/>
<path d="M66.9,817.3L70.8,813.7L67.7,812.9L63.8,816.3z" fill="#fffb29"/>
<path d="M188.0,813.8L191.4,812.5L187.6,808.9L184.2,810.1z" fill="#ffd729"/>
<path d="M198.9,820.4L202.3,819.1L198.5,815.1L195.1,816.3z" fill="#ebff29"/>
<path d="M169.7,806.4L173.2,805.0L169.5,802.1L166.0,803.4z" fill="#ff9029"/>
<path d="M103.6,804.0L107.5,801.5L104.1,800.2L100.2,802.6z" fill="#ff7829"/>
<path d="M213.5,832.9L216.8,831.4L213.1,826.7L209.8,828.0z" fill="#7dff29"/>
<path d="M85.2,809.6L89.1,806.6L85.8,805.5L81.9,808.4z" fill="#ffac29"/>
<path d="M162.4,805.0L166.0,803.4L162.3,800.8L158.7,802.2z" fill="#ff7d29"/>
<path d="M180.7,811.5L184.2,810.1L180.4,806.8L177.0,808.1z" fill="#ffb929"/>
<path d="M110.9,803.1L114.7,800.7L111.3,799.2L107.5,801.5z" fill="#ff6a29"/>
<path d="M74.0,814.9L78.0,811.5L74.8,810.5L70.8,813.7z" fill="#ffd929"/>
<path d="M202.7,824.8L206.0,823.4L202.3,819.1L198.9,820.4z" fill="#ccff29"/>
<path d="M62.9,821.0L66.9,817.3L63.8,816.3L59.8,819.9z" fill="#edff29"/>
<path d="M155.0,803.8L158.7,802.2L155.0,799.7L151.4,801.2z" fill="#ff6e29"/>
<path d="M191.7,817.7L195.1,816.3L191.4,812.5L188.0,813.8z" fill="#ffef29"/>
<path d="M118.2,802.5L122.1,800.2L118.6,798.6L114.7,800.7z" fill="#ff6029"/>
<path d="M92.4,808.0L96.3,805.2L93.0,803.9L89.1,806.6z" fill="#ff9429"/>
<path d="M147.7,803.0L151.4,801.2L147.7,798.9L144.0,800.5z" fill="#ff6329"/>
<path d="M125.6,802.2L129.4,800.1L125.8,798.2L122.1,800.2z" fill="#ff5b29"/>
<path d="M140.3,802.4L144.0,800.5L140.4,798.4L136.7,800.2z" fill="#ff5c29"/>
<path d="M133.0,802.2L136.7,800.2L133.1,798.2L129.4,800.1z" fill="#ff5929"/>
<path d="M173.4,809.6L177.0,808.1L173.2,805.0L169.7,806.4z" fill="#ffa029"/>
<path d="M206.4,829.6L209.8,828.0L206.0,823.4L202.7,824.8z" fill="#abff29"/>
<path d="M81.2,812.8L85.2,809.6L81.9,808.4L78.0,811.5z" fill="#ffbc29"/>
<path d="M99.7,806.7L103.6,804.0L100.2,802.6L96.3,805.2z" fill="#ff8129"/>
<path d="M184.5,815.3L188.0,813.8L184.2,810.1L180.7,811.5z" fill="#ffcf29"/>
<path d="M195.5,822.0L198.9,820.4L195.1,816.3L191.7,817.7z" fill="#f3ff29"/>
<path d="M166.1,808.0L169.7,806.4L166.0,803.4L162.4,805.0z" fill="#ff8a29"/>
<path d="M70.1,818.5L74.0,814.9L70.8,813.7L66.9,817.3z" fill="#ffee29"/>
<path d="M107.0,805.7L110.9,803.1L107.5,801.5L103.6,804.0z" fill="#ff7129"/>
<path d="M210.2,834.6L213.5,832.9L209.8,828.0L206.4,829.6z" fill="#85ff29"/>
<path d="M158.8,806.7L162.4,805.0L158.7,802.2L155.0,803.8z" fill="#ff7929"/>
<path d="M88.5,811.1L92.4,808.0L89.1,806.6L85.2,809.6z" fill="#ffa329"/>
<path d="M114.4,805.0L118.2,802.5L114.7,800.7L110.9,803.1z" fill="#ff6629"/>
<path d="M177.2,813.2L180.7,811.5L177.0,808.1L173.4,809.6z" fill="#ffb329"/>
<path d="M151.4,805.7L155.0,803.8L151.4,801.2L147.7,803.0z" fill="#ff6b29"/>
<path d="M199.3,826.5L202.7,824.8L198.9,820.4L195.5,822.0z" fill="#d4ff29"/>
<path d="M121.8,804.6L125.6,802.2L122.1,800.2L118.2,802.5z" fill="#ff5f29"/>
<path d="M188.3,819.4L191.7,817.7L188.0,813.8L184.5,815.3z" fill="#ffe829"/>
<path d="M77.3,816.3L81.2,812.8L78.0,811.5L74.0,814.9z" fill="#ffcf29"/>
<path d="M144.0,805.0L147.7,803.0L144.0,800.5L140.3,802.4z" fill="#ff6229"/>
<path d="M66.1,822.4L70.1,818.5L66.9,817.3L62.9,821.0z" fill="#f8ff29"/>
<path d="M129.2,804.4L133.0,802.2L129.4,800.1L125.6,802.2z" fill="#ff5c29"/>
<path d="M136.6,804.6L140.3,802.4L136.7,800.2L133.0,802.2z" fill="#ff5d29"/>
<path d="M95.8,809.7L99.7,806.7L96.3,805.2L92.4,808.0z" fill="#ff8d29"/>
<path d="M169.9,811.4L173.4,809.6L169.7,806.4L166.1,808.0z" fill="#ff9b29"/>
<path d="M203.0,831.4L206.4,829.6L202.7,824.8L199.3,826.5z" fill="#b0ff29"/>
<path d="M103.1,808.6L107.0,805.7L103.6,804.0L99.7,806.7z" fill="#ff7c29"/>
<path d="M181.0,817.1L184.5,815.3L180.7,811.5L177.2,813.2z" fill="#ffca29"/>
<path d="M84.5,814.5L88.5,811.1L85.2,809.6L81.2,812.8z" fill="#ffb429"/>
<path d="M162.5,809.9L166.1,808.0L162.4,805.0L158.8,806.7z" fill="#ff8729"/>
<path d="M192.0,823.8L195.5,822.0L191.7,817.7L188.3,819.4z" fill="#f8ff29"/>
<path d="M73.3,820.1L77.3,816.3L74.0,814.9L70.1,818.5z" fill="#ffe529"/>
<path d="M110.5,807.7L114.4,805.0L110.9,803.1L107.0,805.7z" fill="#ff6f29"/>
<path d="M206.8,836.5L210.2,834.6L206.4,829.6L203.0,831.4z" fill="#89ff29"/>
<path d="M155.1,808.8L158.8,806.7L155.0,803.8L151.4,805.7z" fill="#ff7729"/>
<path d="M117.9,807.2L121.8,804.6L118.2,802.5L114.4,805.0z" fill="#ff6629"/>
<path d="M147.7,807.9L151.4,805.7L147.7,803.0L144.0,805.0z" fill="#ff6c29"/>
<path d="M91.9,812.9L95.8,809.7L92.4,808.0L88.5,811.1z" fill="#ff9d29"/>
<path d="M173.6,815.1L177.2,813.2L173.4,809.6L169.9,811.4z" fill="#ffb029"/>
<path d="M125.4,806.9L129.2,804.4L125.6,802.2L121.8,804.6z" fill="#ff6129"/>
<path d="M140.2,807.2L144.0,805.0L140.3,802.4L136.6,804.6z" fill="#ff6429"/>
<path d="M195.8,828.4L199.3,826.5L195.5,822.0L192.0,823.8z" fill="#d8ff29"/>
<path d="M132.8,806.9L136.6,804.6L133.0,802.2L129.2,804.4z" fill="#ff6129"/>
<path d="M184.7,821.3L188.3,819.4L184.5,815.3L181.0,817.1z" fill="#ffe529"/>
<path d="M80.6,818.1L84.5,814.5L81.2,812.8L77.3,816.3z" fill="#ffc829"/>
<path d="M69.4,824.1L73.3,820.1L70.1,818.5L66.1,822.4z" fill="#fffe29"/>
<path d="M99.2,811.7L103.1,808.6L99.7,806.7L95.8,809.7z" fill="#ff8a29"/>
<path d="M166.2,813.4L169.9,811.4L166.1,808.0L162.5,809.9z" fill="#ff9929"/>
<path d="M199.6,833.4L203.0,831.4L199.3,826.5L195.8,828.4z" fill="#b3ff29"/>
<path d="M106.6,810.7L110.5,807.7L107.0,805.7L103.1,808.6z" fill="#ff7b29"/>
<path d="M158.8,812.1L162.5,809.9L158.8,806.7L155.1,808.8z" fill="#ff8729"/>
<path d="M177.4,819.1L181.0,817.1L177.2,813.2L173.6,815.1z" fill="#ffc829"/>
<path d="M188.5,825.8L192.0,823.8L188.3,819.4L184.7,821.3z" fill="#fbff29"/>
<path d="M87.9,816.4L91.9,812.9L88.5,811.1L84.5,814.5z" fill="#ffaf29"/>
<path d="M114.1,810.0L117.9,807.2L114.4,805.0L110.5,807.7z" fill="#ff7129"/>
<path d="M151.4,811.0L155.1,808.8L151.4,805.7L147.7,807.9z" fill="#ff7929"/>
<path d="M203.4,838.7L206.8,836.5L203.0,831.4L199.6,833.4z" fill="#8aff29"/>
<path d="M76.6,822.0L80.6,818.1L77.3,816.3L73.3,820.1z" fill="#ffdf29"/>
<path d="M121.5,809.6L125.4,806.9L121.8,804.6L117.9,807.2z" fill="#ff6a29"/>
<path d="M143.9,810.2L147.7,807.9L144.0,805.0L140.2,807.2z" fill="#ff6f29"/>
<path d="M129.0,809.5L132.8,806.9L129.2,804.4L125.4,806.9z" fill="#ff6829"/>
<path d="M136.4,809.7L140.2,807.2L136.6,804.6L132.8,806.9z" fill="#ff6929"/>
<path d="M170.0,817.2L173.6,815.1L169.9,811.4L166.2,813.4z" fill="#ffaf29"/>
<path d="M95.3,815.0L99.2,811.7L95.8,809.7L91.9,812.9z" fill="#ff9b29"/>
<path d="M192.3,830.6L195.8,828.4L192.0,823.8L188.5,825.8z" fill="#d8ff29"/>
<path d="M181.2,823.4L184.7,821.3L181.0,817.1L177.4,819.1z" fill="#ffe429"/>
<path d="M162.6,815.7L166.2,813.4L162.5,809.9L158.8,812.1z" fill="#ff9b29"/>
<path d="M84.0,820.1L87.9,816.4L84.5,814.5L80.6,818.1z" fill="#ffc529"/>
<path d="M102.7,813.9L106.6,810.7L103.1,808.6L99.2,811.7z" fill="#ff8a29"/>
<path d="M72.7,826.1L76.6,822.0L73.3,820.1L69.4,824.1z" fill="#fffa29"/>
<path d="M196.1,835.7L199.6,833.4L195.8,828.4L192.3,830.6z" fill="#b2ff29"/>
<path d="M155.1,814.4L158.8,812.1L155.1,808.8L151.4,811.0z" fill="#ff8a29"/>
<path d="M110.2,813.1L114.1,810.0L110.5,807.7L106.6,810.7z" fill="#ff7e29"/>
<path d="M173.8,821.4L177.4,819.1L173.6,815.1L170.0,817.2z" fill="#ffc929"/>
<path d="M185.0,828.1L188.5,825.8L184.7,821.3L181.2,823.4z" fill="#faff29"/>
<path d="M147.6,813.5L151.4,811.0L147.7,807.9L143.9,810.2z" fill="#ff7e29"/>
<path d="M91.3,818.6L95.3,815.0L91.9,812.9L87.9,816.4z" fill="#ffaf29"/>
<path d="M117.6,812.6L121.5,809.6L117.9,807.2L114.1,810.0z" fill="#ff7629"/>
<path d="M199.9,841.1L203.4,838.7L199.6,833.4L196.1,835.7z" fill="#88ff29"/>
<path d="M140.1,812.8L143.9,810.2L140.2,807.2L136.4,809.7z" fill="#ff7629"/>
<path d="M125.1,812.4L129.0,809.5L125.4,806.9L121.5,809.6z" fill="#ff7229"/>
<path d="M132.6,812.5L136.4,809.7L132.8,806.9L129.0,809.5z" fill="#ff7229"/>
<path d="M80.0,824.2L84.0,820.1L80.6,818.1L76.6,822.0z" fill="#ffde29"/>
<path d="M166.3,819.6L170.0,817.2L166.2,813.4L162.6,815.7z" fill="#ffb229"/>
<path d="M98.8,817.4L102.7,813.9L99.2,811.7L95.3,815.0z" fill="#ff9d29"/>
<path d="M188.8,833.0L192.3,830.6L188.5,825.8L185.0,828.1z" fill="#d6ff29"/>
<path d="M177.6,825.8L181.2,823.4L177.4,819.1L173.8,821.4z" fill="#ffe729"/>
<path d="M158.9,818.2L162.6,815.7L158.8,812.1L155.1,814.4z" fill="#ff9f29"/>
<path d="M106.2,816.4L110.2,813.1L106.6,810.7L102.7,813.9z" fill="#ff8f29"/>
<path d="M87.4,822.5L91.3,818.6L87.9,816.4L84.0,820.1z" fill="#ffc629"/>
<path d="M192.5,838.2L196.1,835.7L192.3,830.6L188.8,833.0z" fill="#afff29"/>
<path d="M76.0,828.4L80.0,824.2L76.6,822.0L72.7,826.1z" fill="#fffa29"/>
<path d="M151.4,817.1L155.1,814.4L151.4,811.0L147.6,813.5z" fill="#ff9129"/>
<path d="M113.7,815.8L117.6,812.6L114.1,810.0L110.2,813.1z" fill="#ff8529"/>
<path d="M170.1,823.9L173.8,821.4L170.0,817.2L166.3,819.6z" fill="#ffcd29"/>
<path d="M143.8,816.2L147.6,813.5L143.9,810.2L140.1,812.8z" fill="#ff8629"/>
<path d="M181.4,830.6L185.0,828.1L181.2,823.4L177.6,825.8z" fill="#f6ff29"/>
<path d="M121.2,815.5L125.1,812.4L121.5,809.6L117.6,812.6z" fill="#ff7f29"/>
<path d="M136.3,815.7L140.1,812.8L136.4,809.7L132.6,812.5z" fill="#ff8029"/>
<path d="M128.8,815.4L132.6,812.5L129.0,809.5L125.1,812.4z" fill="#ff7d29"/>
<path d="M94.8,821.1L98.8,817.4L95.3,815.0L91.3,818.6z" fill="#ffb229"/>
<path d="M196.3,843.7L199.9,841.1L196.1,835.7L192.5,838.2z" fill="#84ff29"/>
<path d="M162.6,822.2L166.3,819.6L162.6,815.7L158.9,818.2z" fill="#ffb829"/>
<path d="M83.4,826.6L87.4,822.5L84.0,820.1L80.0,824.2z" fill="#ffe029"/>
<path d="M185.2,835.7L188.8,833.0L185.0,828.1L181.4,830.6z" fill="#d1ff29"/>
<path d="M102.3,820.0L106.2,816.4L102.7,813.9L98.8,817.4z" fill="#ffa229"/>
<path d="M173.9,828.5L177.6,825.8L173.8,821.4L170.1,823.9z" fill="#ffec29"/>
<path d="M155.1,820.9L158.9,818.2L155.1,814.4L151.4,817.1z" fill="#ffa729"/>
<path d="M109.8,819.3L113.7,815.8L110.2,813.1L106.2,816.4z" fill="#ff9729"/>
<path d="M147.6,819.9L151.4,817.1L147.6,813.5L143.8,816.2z" fill="#ff9a29"/>
<path d="M90.9,825.1L94.8,821.1L91.3,818.6L87.4,822.5z" fill="#ffcb29"/>
<path d="M188.9,841.0L192.5,838.2L188.8,833.0L185.2,835.7z" fill="#a8ff29"/>
<path d="M117.3,818.8L121.2,815.5L117.6,812.6L113.7,815.8z" fill="#ff8f29"/>
<path d="M79.5,831.0L83.4,826.6L80.0,824.2L76.0,828.4z" fill="#fffd29"/>
<path d="M166.4,826.7L170.1,823.9L166.3,819.6L162.6,822.2z" fill="#ffd529"/>
<path d="M140.0,819.2L143.8,816.2L140.1,812.8L136.3,815.7z" fill="#ff9129"/>
<path d="M124.9,818.7L128.8,815.4L125.1,812.4L121.2,815.5z" fill="#ff8c29"/>
<path d="M132.5,818.8L136.3,815.7L132.6,812.5L128.8,815.4z" fill="#ff8c29"/>
<path d="M177.7,833.4L181.4,830.6L177.6,825.8L173.9,828.5z" fill="#efff29"/>
<path d="M192.7,846.7L196.3,843.7L192.5,838.2L188.9,841.0z" fill="#7cff29"/>
<path d="M98.3,823.9L102.3,820.0L98.8,817.4L94.8,821.1z" fill="#ffb929"/>
<path d="M158.9,825.1L162.6,822.2L158.9,818.2L155.1,820.9z" fill="#ffc129"/>
<path d="M86.9,829.4L90.9,825.1L87.4,822.5L83.4,826.6z" fill="#ffe629"/>
<path d="M181.5,838.6L185.2,835.7L181.4,830.6L177.7,833.4z" fill="#c9ff29"/>
<path d="M105.9,823.0L109.8,819.3L106.2,816.4L102.3,820.0z" fill="#ffac29"/>
<path d="M170.2,831.4L173.9,828.5L170.1,823.9L166.4,826.7z" fill="#fff529"/>
<path d="M151.3,823.9L155.1,820.9L151.4,817.1L147.6,819.9z" fill="#ffb229"/>
<path d="M113.4,822.4L117.3,818.8L113.7,815.8L109.8,819.3z" fill="#ffa229"/>
<path d="M143.8,823.0L147.6,819.9L143.8,816.2L140.0,819.2z" fill="#ffa729"/>
<path d="M185.3,844.0L188.9,841.0L185.2,835.7L181.5,838.6z" fill="#9eff29"/>
<path d="M121.0,822.1L124.9,818.7L121.2,815.5L117.3,818.8z" fill="#ff9d29"/>
<path d="M136.2,822.4L140.0,819.2L136.3,815.7L132.5,818.8z" fill="#ff9f29"/>
<path d="M94.4,828.1L98.3,823.9L94.8,821.1L90.9,825.1z" fill="#ffd329"/>
<path d="M128.6,822.1L132.5,818.8L128.8,815.4L124.9,818.7z" fill="#ff9c29"/>
<path d="M162.7,829.7L166.4,826.7L162.6,822.2L158.9,825.1z" fill="#ffdf29"/>
<path d="M174.0,836.4L177.7,833.4L173.9,828.5L170.2,831.4z" fill="#e5ff29"/>
<path d="M82.9,833.9L86.9,829.4L83.4,826.6L79.5,831.0z" fill="#f9ff29"/>
<path d="M189.1,849.8L192.7,846.7L188.9,841.0L185.3,844.0z" fill="#70ff29"/>
<path d="M101.9,827.0L105.9,823.0L102.3,820.0L98.3,823.9z" fill="#ffc429"/>
<path d="M155.1,828.3L158.9,825.1L155.1,820.9L151.3,823.9z" fill="#ffcd29"/>
<path d="M177.8,841.7L181.5,838.6L177.7,833.4L174.0,836.4z" fill="#bdff29"/>
<path d="M109.5,826.3L113.4,822.4L109.8,819.3L105.9,823.0z" fill="#ffb929"/>
<path d="M166.5,834.5L170.2,831.4L166.4,826.7L162.7,829.7z" fill="#fdff29"/>
<path d="M90.4,832.5L94.4,828.1L90.9,825.1L86.9,829.4z" fill="#fff029"/>
<path d="M147.5,827.2L151.3,823.9L147.6,819.9L143.8,823.0z" fill="#ffc029"/>
<path d="M117.1,825.8L121.0,822.1L117.3,818.8L113.4,822.4z" fill="#ffb229"/>
<path d="M139.9,826.4L143.8,823.0L140.0,819.2L136.2,822.4z" fill="#ffb629"/>
<path d="M124.7,825.7L128.6,822.1L124.9,818.7L121.0,822.1z" fill="#ffaf29"/>
<path d="M132.3,825.9L136.2,822.4L132.5,818.8L128.6,822.1z" fill="#ffb129"/>
<path d="M181.6,847.3L185.3,844.0L181.5,838.6L177.8,841.7z" fill="#92ff29"/>
<path d="M158.9,833.0L162.7,829.7L158.9,825.1L155.1,828.3z" fill="#ffed29"/>
<path d="M98.0,831.3L101.9,827.0L98.3,823.9L94.4,828.1z" fill="#ffdf29"/>
<path d="M170.3,839.7L174.0,836.4L170.2,831.4L166.5,834.5z" fill="#d8ff29"/>
<path d="M86.4,837.1L90.4,832.5L86.9,829.4L82.9,833.9z" fill="#eeff29"/>
<path d="M185.4,853.2L189.1,849.8L185.3,844.0L181.6,847.3z" fill="#62ff29"/>
<path d="M151.3,831.7L155.1,828.3L151.3,823.9L147.5,827.2z" fill="#ffdc29"/>
<path d="M105.5,830.4L109.5,826.3L105.9,823.0L101.9,827.0z" fill="#ffd229"/>
<path d="M174.1,845.1L177.8,841.7L174.0,836.4L170.3,839.7z" fill="#afff29"/>
<path d="M143.7,830.7L147.5,827.2L143.8,823.0L139.9,826.4z" fill="#ffd129"/>
<path d="M113.1,829.9L117.1,825.8L113.4,822.4L109.5,826.3z" fill="#ffca29"/>
<path d="M162.7,837.9L166.5,834.5L162.7,829.7L158.9,833.0z" fill="#eeff29"/>
<path d="M94.0,835.8L98.0,831.3L94.4,828.1L90.4,832.5z" fill="#fffd29"/>
<path d="M136.0,830.1L139.9,826.4L136.2,822.4L132.3,825.9z" fill="#ffc929"/>
<path d="M120.8,829.6L124.7,825.7L121.0,822.1L117.1,825.8z" fill="#ffc529"/>
<path d="M128.4,829.7L132.3,825.9L128.6,822.1L124.7,825.7z" fill="#ffc529"/>
<path d="M177.9,850.9L181.6,847.3L177.8,841.7L174.1,845.1z" fill="#82ff29"/>
<path d="M155.1,836.5L158.9,833.0L155.1,828.3L151.3,831.7z" fill="#fffd29"/>
<path d="M101.6,834.9L105.5,830.4L101.9,827.0L98.0,831.3z" fill="#ffef29"/>
<path d="M166.5,843.2L170.3,839.7L166.5,834.5L162.7,837.9z" fill="#c8ff29"/>
<path d="M181.7,856.9L185.4,853.2L181.6,847.3L177.9,850.9z" fill="#51ff29"/>
<path d="M90.0,840.6L94.0,835.8L90.4,832.5L86.4,837.1z" fill="#dfff29"/>
<path d="M147.5,835.3L151.3,831.7L147.5,827.2L143.7,830.7z" fill="#ffef29"/>
<path d="M109.2,834.2L113.1,829.9L109.5,826.3L105.5,830.4z" fill="#ffe529"/>
<path d="M139.8,834.5L143.7,830.7L139.9,826.4L136.0,830.1z" fill="#ffe529"/>
<path d="M170.3,848.8L174.1,845.1L170.3,839.7L166.5,843.2z" fill="#9dff29"/>
<path d="M116.8,833.8L120.8,829.6L117.1,825.8L113.1,829.9z" fill="#ffde29"/>
<path d="M158.9,841.6L162.7,837.9L158.9,833.0L155.1,836.5z" fill="#ddff29"/>
<path d="M132.1,834.0L136.0,830.1L132.3,825.9L128.4,829.7z" fill="#ffde29"/>
<path d="M124.5,833.7L128.4,829.7L124.7,825.7L120.8,829.6z" fill="#ffdc29"/>
<path d="M97.6,839.5L101.6,834.9L98.0,831.3L94.0,835.8z" fill="#f0ff29"/>
<path d="M174.2,854.6L177.9,850.9L174.1,845.1L170.3,848.8z" fill="#6fff29"/>
<path d="M151.3,840.3L155.1,836.5L151.3,831.7L147.5,835.3z" fill="#edff29"/>
<path d="M105.2,838.7L109.2,834.2L105.5,830.4L101.6,834.9z" fill="#fcff29"/>
<path d="M162.7,847.0L166.5,843.2L162.7,837.9L158.9,841.6z" fill="#b4ff29"/>
<path d="M178.0,860.9L181.7,856.9L177.9,850.9L174.2,854.6z" fill="#3dff29"/>
<path d="M143.6,839.3L147.5,835.3L143.7,830.7L139.8,834.5z" fill="#faff29"/>
<path d="M112.9,838.2L116.8,833.8L113.1,829.9L109.2,834.2z" fill="#fffb29"/>
<path d="M93.6,844.4L97.6,839.5L94.0,835.8L90.0,840.6z" fill="#cdff29"/>
<path d="M135.9,838.5L139.8,834.5L136.0,830.1L132.1,834.0z" fill="#fffc29"/>
<path d="M120.5,838.0L124.5,833.7L120.8,829.6L116.8,833.8z" fill="#fff729"/>
<path d="M128.2,838.1L132.1,834.0L128.4,829.7L124.5,833.7z" fill="#fff729"/>
<path d="M166.5,852.7L170.3,848.8L166.5,843.2L162.7,847.0z" fill="#88ff29"/>
<path d="M155.1,845.5L158.9,841.6L155.1,836.5L151.3,840.3z" fill="#c7ff29"/>
<path d="M101.3,843.5L105.2,838.7L101.6,834.9L97.6,839.5z" fill="#dbff29"/>
<path d="M170.4,858.7L174.2,854.6L170.3,848.8L166.5,852.7z" fill="#59ff29"/>
<path d="M147.4,844.3L151.3,840.3L147.5,835.3L143.6,839.3z" fill="#d7ff29"/>
<path d="M108.9,842.9L112.9,838.2L109.2,834.2L105.2,838.7z" fill="#e4ff29"/>
<path d="M158.9,851.0L162.7,847.0L158.9,841.6L155.1,845.5z" fill="#9eff29"/>
<path d="M174.2,865.1L178.0,860.9L174.2,854.6L170.4,858.7z" fill="#29ff2c"/>
<path d="M139.7,843.4L143.6,839.3L139.8,834.5L135.9,838.5z" fill="#e1ff29"/>
<path d="M116.6,842.6L120.5,838.0L116.8,833.8L112.9,838.2z" fill="#eaff29"/>
<path d="M132.0,842.8L135.9,838.5L132.1,834.0L128.2,838.1z" fill="#e8ff29"/>
<path d="M124.3,842.6L128.2,838.1L124.5,833.7L120.5,838.0z" fill="#ebff29"/>
<path d="M97.3,848.6L101.3,843.5L97.6,839.5L93.6,844.4z" fill="#b6ff29"/>
<path d="M162.7,856.8L166.5,852.7L162.7,847.0L158.9,851.0z" fill="#71ff29"/>
<path d="M151.2,849.7L155.1,845.5L151.3,840.3L147.4,844.3z" fill="#afff29"/>
<path d="M104.9,847.8L108.9,842.9L105.2,838.7L101.3,843.5z" fill="#c2ff29"/>
<path d="M166.5,863.0L170.4,858.7L166.5,852.7L162.7,856.8z" fill="#40ff29"/>
<path d="M143.5,848.6L147.4,844.3L143.6,839.3L139.7,843.4z" fill="#bdff29"/>
<path d="M170.3,869.5L174.2,865.1L170.4,858.7L166.5,863.0z" fill="#29ff47"/>
<path d="M112.6,847.4L116.6,842.6L112.9,838.2L108.9,842.9z" fill="#c9ff29"/>
<path d="M155.0,855.3L158.9,851.0L155.1,845.5L151.2,849.7z" fill="#85ff29"/>
<path d="M135.8,847.8L139.7,843.4L135.9,838.5L132.0,842.8z" fill="#c6ff29"/>
<path d="M120.3,847.2L124.3,842.6L120.5,838.0L116.6,842.6z" fill="#ccff29"/>
<path d="M128.1,847.4L132.0,842.8L128.2,838.1L124.3,842.6z" fill="#cbff29"/>
<path d="M101.0,853.0L104.9,847.8L101.3,843.5L97.3,848.6z" fill="#9cff29"/>
<path d="M158.9,861.3L162.7,856.8L158.9,851.0L155.0,855.3z" fill="#56ff29"/>
<path d="M147.3,854.1L151.2,849.7L147.4,844.3L143.5,848.6z" fill="#94ff29"/>
<path d="M162.7,867.6L166.5,863.0L162.7,856.8L158.9,861.3z" fill="#29ff2e"/>
<path d="M108.7,852.4L112.6,847.4L108.9,842.9L104.9,847.8z" fill="#a5ff29"/>
<path d="M139.6,853.1L143.5,848.6L139.7,843.4L135.8,847.8z" fill="#a0ff29"/>
<path d="M166.5,874.3L170.3,869.5L166.5,863.0L162.7,867.6z" fill="#29ff64"/>
<path d="M116.4,852.1L120.3,847.2L116.6,842.6L112.6,847.4z" fill="#aaff29"/>
<path d="M131.9,852.5L135.8,847.8L132.0,842.8L128.1,847.4z" fill="#a7ff29"/>
<path d="M151.2,859.9L155.0,855.3L151.2,849.7L147.3,854.1z" fill="#68ff29"/>
<path d="M124.1,852.2L128.1,847.4L124.3,842.6L120.3,847.2z" fill="#abff29"/>
<path d="M155.0,866.0L158.9,861.3L155.0,855.3L151.2,859.9z" fill="#38ff29"/>
<path d="M143.4,858.7L147.3,854.1L143.5,848.6L139.6,853.1z" fill="#76ff29"/>
<path d="M104.7,857.7L108.7,852.4L104.9,847.8L101.0,853.0z" fill="#7eff29"/>
<path d="M158.8,872.5L162.7,867.6L158.9,861.3L155.0,866.0z" fill="#29ff4d"/>
<path d="M135.7,857.9L139.6,853.1L135.8,847.8L131.9,852.5z" fill="#80ff29"/>
<path d="M112.4,857.3L116.4,852.1L112.6,847.4L108.7,852.4z" fill="#85ff29"/>
<path d="M162.6,879.2L166.5,874.3L162.7,867.6L158.8,872.5z" fill="#29ff85"/>
<path d="M127.9,857.4L131.9,852.5L128.1,847.4L124.1,852.2z" fill="#86ff29"/>
<path d="M120.2,857.2L124.1,852.2L120.3,847.2L116.4,852.1z" fill="#87ff29"/>
<path d="M147.3,864.7L151.2,859.9L147.3,854.1L143.4,858.7z" fill="#48ff29"/>
<path d="M151.1,871.0L155.0,866.0L151.2,859.9L147.3,864.7z" fill="#29ff3b"/>
<path d="M139.5,863.7L143.4,858.7L139.6,853.1L135.7,857.9z" fill="#55ff29"/>
<path d="M108.4,862.8L112.4,857.3L108.7,852.4L104.7,857.7z" fill="#5dff29"/>
<path d="M154.9,877.6L158.8,872.5L155.0,866.0L151.1,871.0z" fill="#29ff70"/>
<path d="M158.7,884.4L162.6,879.2L158.8,872.5L154.9,877.6z" fill="#29ffa9"/>
<path d="M131.7,863.0L135.7,857.9L131.9,852.5L127.9,857.4z" fill="#5dff29"/>
<path d="M116.2,862.5L120.2,857.2L116.4,852.1L112.4,857.3z" fill="#61ff29"/>
<path d="M124.0,862.6L127.9,857.4L124.1,852.2L120.2,857.2z" fill="#61ff29"/>
<path d="M143.3,869.8L147.3,864.7L143.4,858.7L139.5,863.7z" fill="#29ff2c"/>
<path d="M147.2,876.2L151.1,871.0L147.3,864.7L143.3,869.8z" fill="#29ff5f"/>
<path d="M135.6,868.9L139.5,863.7L135.7,857.9L131.7,863.0z" fill="#30ff29"/>
<path d="M112.2,868.1L116.2,862.5L112.4,857.3L108.4,862.8z" fill="#37ff29"/>
<path d="M151.0,882.9L154.9,877.6L151.1,871.0L147.2,876.2z" fill="#29ff95"/>
<path d="M154.8,889.9L158.7,884.4L154.9,877.6L151.0,882.9z" fill="#29ffd0"/>
<path d="M127.8,868.4L131.7,863.0L127.9,857.4L124.0,862.6z" fill="#37ff29"/>
<path d="M120.0,868.1L124.0,862.6L120.2,857.2L116.2,862.5z" fill="#39ff29"/>
<path d="M139.4,875.2L143.3,869.8L139.5,863.7L135.6,868.9z" fill="#29ff52"/>
<path d="M143.2,881.7L147.2,876.2L143.3,869.8L139.4,875.2z" fill="#29ff86"/>
<path d="M150.9,895.7L154.8,889.9L151.0,882.9L147.1,888.5z" fill="#29fff9"/>
<path d="M131.6,874.4L135.6,868.9L131.7,863.0L127.8,868.4z" fill="#29ff49"/>
<path d="M147.1,888.5L151.0,882.9L147.2,876.2L143.2,881.7z" fill="#29ffbe"/>
<path d="M116.0,873.8L120.0,868.1L116.2,862.5L112.2,868.1z" fill="#29ff43"/>
<path d="M123.8,874.0L127.8,868.4L124.0,862.6L120.0,868.1z" fill="#29ff44"/>
<path d="M135.4,880.8L139.4,875.2L135.6,868.9L131.6,874.4z" fill="#29ff7b"/>
<path d="M147.0,901.8L150.9,895.7L147.1,888.5L143.1,894.4z" fill="#29d8ff"/>
<path d="M139.3,887.4L143.2,881.7L139.4,875.2L135.4,880.8z" fill="#29ffb0"/>
<path d="M127.6,880.1L131.6,874.4L127.8,868.4L123.8,874.0z" fill="#29ff73"/>
<path d="M143.1,894.4L147.1,888.5L143.2,881.7L139.3,887.4z" fill="#29ffe9"/>
<path d="M119.8,879.8L123.8,874.0L120.0,868.1L116.0,873.8z" fill="#29ff70"/>
<path d="M143.0,908.1L147.0,901.8L143.1,894.4L139.2,900.6z" fill="#29a7ff"/>
<path d="M139.1,914.6L143.0,908.1L139.2,900.6L135.2,907.0z" fill="#2974ff"/>
<path d="M131.5,886.6L135.4,880.8L131.6,874.4L127.6,880.1z" fill="#29ffa7"/>
<path d="M139.2,900.6L143.1,894.4L139.3,887.4L135.3,893.4z" fill="#29e6ff"/>
<path d="M135.3,893.4L139.3,887.4L135.4,880.8L131.5,886.6z" fill="#29ffdd"/>
<path d="M123.7,886.1L127.6,880.1L123.8,874.0L119.8,879.8z" fill="#29ffa1"/>
<path d="M135.2,907.0L139.2,900.6L135.3,893.4L131.4,899.7z" fill="#29b4ff"/>
<path d="M127.5,892.7L131.5,886.6L127.6,880.1L123.7,886.1z" fill="#29ffd6"/>
<path d="M131.4,899.7L135.3,893.4L131.5,886.6L127.5,892.7z" fill="#29f0ff"/>
</g>
<circle cx="139.1" cy="913.7" r="1.75" fill="#c00000" stroke="#7a0000" stroke-width="0.3"/>
<circle cx="60.0" cy="821.7" r="1.6" fill="#ffe0e0" stroke="#c07070" stroke-width="0.45"/>
<circle cx="220.1" cy="829.7" r="1.75" fill="#c00000" stroke="#7a0000" stroke-width="0.3"/>
<circle cx="140.2" cy="803.7" r="1.75" fill="#c00000" stroke="#7a0000" stroke-width="0.3"/>
<circle cx="140.2" cy="808.1" r="1.75" fill="#c00000" stroke="#7a0000" stroke-width="0.3"/>
<text x="36.2" y="888.1" transform="rotate(-90 36.2 888.1)" font-family="Liberation Serif, Noto Sans CJK SC, serif" font-weight="bold" font-size="10.35" fill="#111">Polysaccharides contents（%）</text>
<text x="9.6" y="945.5" font-family="Liberation Serif, Noto Sans CJK SC, serif" font-weight="bold" font-size="10.35" fill="#111">C：Ultrasonic power（W）</text>
<text x="159.2" y="945.5" font-family="Liberation Serif, Noto Sans CJK SC, serif" font-weight="bold" font-size="10.35" fill="#111">B：Extraction time（min）</text>
<defs><radialGradient id="g0" gradientUnits="userSpaceOnUse" cx="0" cy="0" r="1" fx="0" fy="0" gradientTransform="matrix(-354.625 26.644 -16.974 -225.913 516.41 117.35)"><stop offset="0.0000" stop-color="#ff1300"/><stop offset="0.0208" stop-color="#ff1400"/><stop offset="0.0417" stop-color="#ff1600"/><stop offset="0.0625" stop-color="#ff1900"/><stop offset="0.0833" stop-color="#ff1d00"/><stop offset="0.1042" stop-color="#ff2300"/><stop offset="0.1250" stop-color="#ff2a00"/><stop offset="0.1458" stop-color="#ff3200"/><stop offset="0.1667" stop-color="#ff3b00"/><stop offset="0.1875" stop-color="#ff4600"/><stop offset="0.2083" stop-color="#ff5100"/><stop offset="0.2292" stop-color="#ff5e00"/><stop offset="0.2500" stop-color="#ff6d00"/><stop offset="0.2708" stop-color="#ff7c00"/><stop offset="0.2917" stop-color="#ff8d00"/><stop offset="0.3125" stop-color="#ff9f00"/><stop offset="0.3333" stop-color="#ffb300"/><stop offset="0.3542" stop-color="#ffc700"/><stop offset="0.3750" stop-color="#ffdd00"/><stop offset="0.3958" stop-color="#fff400"/><stop offset="0.4167" stop-color="#f2ff00"/><stop offset="0.4375" stop-color="#d8ff00"/><stop offset="0.4583" stop-color="#bdff00"/><stop offset="0.4792" stop-color="#a1ff00"/><stop offset="0.5000" stop-color="#84ff00"/><stop offset="0.5208" stop-color="#65ff00"/><stop offset="0.5417" stop-color="#46ff00"/><stop offset="0.5625" stop-color="#25ff00"/><stop offset="0.5833" stop-color="#02ff00"/><stop offset="0.6042" stop-color="#00ff21"/><stop offset="0.6250" stop-color="#00ff46"/><stop offset="0.6458" stop-color="#00ff6c"/><stop offset="0.6667" stop-color="#00ff93"/><stop offset="0.6875" stop-color="#00ffbc"/><stop offset="0.7083" stop-color="#00ffe5"/><stop offset="0.7292" stop-color="#00eeff"/><stop offset="0.7500" stop-color="#00c1ff"/><stop offset="0.7708" stop-color="#0094ff"/><stop offset="0.7917" stop-color="#0065ff"/><stop offset="0.8125" stop-color="#0035ff"/><stop offset="0.8333" stop-color="#0004ff"/><stop offset="0.8542" stop-color="#0000ff"/><stop offset="0.8750" stop-color="#0000ff"/><stop offset="0.8958" stop-color="#0000ff"/><stop offset="0.9167" stop-color="#0000ff"/><stop offset="0.9375" stop-color="#0000ff"/><stop offset="0.9583" stop-color="#0000ff"/><stop offset="0.9792" stop-color="#0000ff"/><stop offset="1.0000" stop-color="#0000ff"/></radialGradient><clipPath id="cp0"><rect x="359.3" y="47.2" width="178.0" height="178.0"/></clipPath></defs>
<rect x="359.3" y="47.2" width="178.0" height="178.0" fill="url(#g0)"/>
<polyline clip-path="url(#cp0)" points="317.8,132.3 317.7,130.3 317.6,128.3 317.6,126.3 317.6,124.3 317.7,122.3 317.8,120.3 317.9,118.3 318.2,116.3 318.4,114.3 318.7,112.3 319.1,110.3 319.5,108.3 320.0,106.3 320.5,104.3 321.1,102.3 321.7,100.3 322.3,98.4 323.0,96.4 323.8,94.4 324.6,92.4 325.4,90.5 326.3,88.5 327.3,86.6 328.2,84.6 329.3,82.7 330.4,80.8 331.5,78.9 332.6,77.0 333.9,75.1 335.1,73.2 336.4,71.3 337.8,69.5 339.2,67.6 340.6,65.8 342.1,64.0 343.6,62.2 345.2,60.4 346.8,58.6 348.4,56.8 350.1,55.1 351.9,53.3 353.6,51.6 355.5,49.9 357.3,48.2 359.2,46.5 361.1,44.9 363.1,43.2 365.1,41.6 367.2,40.0 369.2,38.4 371.4,36.9 373.5,35.3 375.7,33.8 377.9,32.3 380.2,30.8 382.5,29.4 384.8,27.9 387.2,26.5 389.6,25.1 392.0,23.8 394.4,22.4 396.9,21.1 399.4,19.8 402.0,18.5 404.5,17.3 407.1,16.0 409.7,14.8 412.4,13.7 415.1,12.5 417.8,11.4 420.5,10.3 423.2,9.2 426.0,8.2 428.8,7.2 431.6,6.2 434.5,5.2 437.3,4.3 440.2,3.4 443.1,2.5 446.0,1.6 448.9,0.8 451.9,0.0 454.8,-0.8 457.8,-1.5 460.8,-2.2 463.8,-2.9 466.8,-3.5 469.9,-4.1 472.9,-4.7 476.0,-5.3 479.0,-5.8 482.1,-6.3 485.2,-6.8 488.3,-7.2 491.4,-7.6 494.5,-8.0 497.6,-8.3 500.7,-8.6 503.8,-8.9 506.9,-9.2 510.0,-9.4 513.1,-9.6 516.3,-9.7 519.4,-9.9 522.5,-10.0 525.6,-10.0 528.8,-10.1 531.9,-10.1 535.0,-10.0 538.1,-10.0 541.2,-9.9 544.3,-9.7 547.4,-9.6 550.5,-9.4 553.5,-9.2 556.6,-8.9 559.7,-8.6 562.7,-8.3 565.7,-8.0 568.7,-7.6 571.8,-7.2 574.7,-6.8 577.7,-6.3 580.7,-5.8 583.6,-5.3 586.6,-4.7 589.5,-4.1 592.4,-3.5 595.3,-2.8 598.1,-2.2 601.0,-1.5 603.8,-0.7 606.6,0.0 609.3,0.8 612.1,1.7 614.8,2.5 617.5,3.4 620.2,4.3 622.8,5.3 625.5,6.2 628.1,7.2 630.6,8.2 633.2,9.3 635.7,10.3 638.2,11.4 640.6,12.6 643.1,13.7 645.4,14.9 647.8,16.1 650.1,17.3 652.4,18.6 654.7,19.9 656.9,21.2 659.1,22.5 661.3,23.8 663.4,25.2 665.5,26.6 667.5,28.0 669.5,29.4 671.5,30.9 673.4,32.4 675.3,33.9 677.2,35.4 679.0,37.0 680.8,38.5 682.5,40.1 684.2,41.7 685.9,43.3 687.5,45.0 689.1,46.6 690.6,48.3 692.1,50.0 693.5,51.7 694.9,53.4 696.3,55.1 697.6,56.9 698.9,58.7 700.1,60.5 701.2,62.2 702.4,64.1 703.5,65.9 704.5,67.7 705.5,69.6 706.4,71.4 707.3,73.3 708.2,75.2 709.0,77.1 709.7,79.0 710.4,80.9 711.1,82.8 711.7,84.7 712.3,86.7 712.8,88.6 713.3,90.6 713.7,92.5 714.0,94.5 714.4,96.5 714.6,98.5 714.9,100.4 715.0,102.4 715.2,104.4 715.2,106.4 715.3,108.4 715.2,110.4 715.2,112.4 715.0,114.4 714.9,116.4 714.7,118.4 714.4,120.4 714.1,122.4 713.7,124.4 713.3,126.4 712.8,128.4 712.3,130.4 711.8,132.4 711.2,134.4 710.5,136.3 709.8,138.3 709.0,140.3 708.2,142.3 707.4,144.2 706.5,146.2 705.6,148.1 704.6,150.1 703.6,152.0 702.5,153.9 701.3,155.8 700.2,157.7 699.0,159.6 697.7,161.5 696.4,163.4 695.0,165.2 693.7,167.1 692.2,168.9 690.7,170.7 689.2,172.6 687.6,174.3 686.0,176.1 684.4,177.9 682.7,179.7 681.0,181.4 679.2,183.1 677.4,184.8 675.5,186.5 673.6,188.2 671.7,189.8 669.7,191.5 667.7,193.1 665.7,194.7 663.6,196.3 661.5,197.8 659.3,199.4 657.1,200.9 654.9,202.4 652.6,203.9 650.3,205.3 648.0,206.8 645.7,208.2 643.3,209.6 640.8,210.9 638.4,212.3 635.9,213.6 633.4,214.9 630.9,216.2 628.3,217.4 625.7,218.7 623.1,219.9 620.4,221.0 617.8,222.2 615.1,223.3 612.3,224.4 609.6,225.5 606.8,226.5 604.0,227.5 601.2,228.5 598.4,229.5 595.5,230.4 592.6,231.3 589.7,232.2 586.8,233.1 583.9,233.9 581.0,234.7 578.0,235.5 575.0,236.2 572.0,236.9 569.0,237.6 566.0,238.2 563.0,238.8 559.9,239.4 556.9,240.0 553.8,240.5 550.7,241.0 547.7,241.5 544.6,241.9 541.5,242.3 538.4,242.7 535.3,243.0 532.2,243.4 529.0,243.6 525.9,243.9 522.8,244.1 519.7,244.3 516.6,244.4 513.4,244.6 510.3,244.7 507.2,244.7 504.1,244.8 501.0,244.8 497.8,244.7 494.7,244.7 491.6,244.6 488.5,244.4 485.4,244.3 482.4,244.1 479.3,243.9 476.2,243.6 473.2,243.3 470.1,243.0 467.1,242.7 464.1,242.3 461.1,241.9 458.1,241.5 455.1,241.0 452.1,240.5 449.2,240.0 446.3,239.4 443.3,238.8 440.4,238.2 437.6,237.5 434.7,236.9 431.9,236.2 429.1,235.4 426.3,234.7 423.5,233.9 420.7,233.0 418.0,232.2 415.3,231.3 412.6,230.4 410.0,229.5 407.4,228.5 404.8,227.5 402.2,226.5 399.6,225.4 397.1,224.4 394.6,223.3 392.2,222.1 389.8,221.0 387.4,219.8 385.0,218.6 382.7,217.4 380.4,216.1 378.1,214.8 375.9,213.5 373.7,212.2 371.6,210.9 369.4,209.5 367.3,208.1 365.3,206.7 363.3,205.3 361.3,203.8 359.4,202.3 357.5,200.8 355.6,199.3 353.8,197.8 352.0,196.2 350.3,194.6 348.6,193.0 346.9,191.4 345.3,189.7 343.8,188.1 342.2,186.4 340.7,184.7 339.3,183.0 337.9,181.3 336.5,179.6 335.2,177.8 334.0,176.0 332.8,174.3 331.6,172.5 330.5,170.6 329.4,168.8 328.3,167.0 327.3,165.1 326.4,163.3 325.5,161.4 324.6,159.5 323.8,157.6 323.1,155.7 322.4,153.8 321.7,151.9 321.1,150.0 320.5,148.0 320.0,146.1 319.6,144.1 319.1,142.2 318.8,140.2 318.5,138.2 318.2,136.2 318.0,134.3 317.8,132.3" fill="none" stroke="#33330c" stroke-opacity="0.8" stroke-width="0.6"/>
<polyline clip-path="url(#cp0)" points="352.8,129.6 352.7,128.0 352.7,126.4 352.6,124.7 352.7,123.1 352.7,121.4 352.8,119.8 353.0,118.1 353.1,116.5 353.4,114.8 353.6,113.2 353.9,111.5 354.3,109.9 354.6,108.3 355.1,106.6 355.5,105.0 356.0,103.3 356.6,101.7 357.1,100.1 357.8,98.5 358.4,96.8 359.1,95.2 359.9,93.6 360.6,92.0 361.4,90.4 362.3,88.8 363.2,87.2 364.1,85.7 365.1,84.1 366.1,82.5 367.1,81.0 368.2,79.5 369.3,77.9 370.4,76.4 371.6,74.9 372.8,73.4 374.1,71.9 375.4,70.4 376.7,68.9 378.1,67.5 379.5,66.0 380.9,64.6 382.4,63.2 383.9,61.8 385.4,60.4 386.9,59.0 388.5,57.7 390.2,56.3 391.8,55.0 393.5,53.7 395.2,52.4 397.0,51.1 398.7,49.8 400.5,48.5 402.4,47.3 404.2,46.1 406.1,44.9 408.0,43.7 410.0,42.5 411.9,41.4 413.9,40.3 415.9,39.2 418.0,38.1 420.1,37.0 422.2,36.0 424.3,34.9 426.4,33.9 428.6,32.9 430.7,32.0 432.9,31.0 435.2,30.1 437.4,29.2 439.7,28.3 442.0,27.4 444.3,26.6 446.6,25.8 448.9,25.0 451.3,24.2 453.6,23.5 456.0,22.7 458.4,22.0 460.8,21.4 463.3,20.7 465.7,20.1 468.1,19.5 470.6,18.9 473.1,18.3 475.6,17.8 478.1,17.3 480.6,16.8 483.1,16.4 485.6,15.9 488.1,15.5 490.7,15.1 493.2,14.8 495.8,14.4 498.3,14.1 500.9,13.8 503.4,13.6 506.0,13.4 508.6,13.1 511.2,13.0 513.7,12.8 516.3,12.7 518.9,12.6 521.4,12.5 524.0,12.5 526.6,12.4 529.1,12.4 531.7,12.5 534.3,12.5 536.8,12.6 539.4,12.7 541.9,12.8 544.5,13.0 547.0,13.2 549.5,13.4 552.0,13.6 554.5,13.9 557.0,14.1 559.5,14.4 562.0,14.8 564.5,15.1 566.9,15.5 569.3,15.9 571.8,16.4 574.2,16.8 576.6,17.3 579.0,17.8 581.3,18.4 583.7,18.9 586.0,19.5 588.4,20.1 590.7,20.7 592.9,21.4 595.2,22.1 597.5,22.8 599.7,23.5 601.9,24.3 604.1,25.0 606.2,25.8 608.4,26.6 610.5,27.5 612.6,28.3 614.6,29.2 616.7,30.1 618.7,31.1 620.7,32.0 622.7,33.0 624.6,34.0 626.5,35.0 628.4,36.0 630.3,37.1 632.1,38.1 633.9,39.2 635.7,40.3 637.5,41.5 639.2,42.6 640.9,43.8 642.5,45.0 644.1,46.2 645.7,47.4 647.3,48.6 648.8,49.9 650.3,51.1 651.8,52.4 653.2,53.7 654.6,55.0 656.0,56.4 657.3,57.7 658.6,59.1 659.9,60.5 661.1,61.9 662.3,63.3 663.4,64.7 664.5,66.1 665.6,67.6 666.7,69.0 667.7,70.5 668.6,72.0 669.6,73.5 670.5,75.0 671.3,76.5 672.1,78.0 672.9,79.5 673.6,81.1 674.3,82.6 675.0,84.2 675.6,85.8 676.2,87.3 676.8,88.9 677.3,90.5 677.7,92.1 678.1,93.7 678.5,95.3 678.9,96.9 679.2,98.5 679.4,100.2 679.7,101.8 679.8,103.4 680.0,105.1 680.1,106.7 680.2,108.3 680.2,110.0 680.2,111.6 680.1,113.3 680.0,114.9 679.9,116.6 679.7,118.2 679.5,119.9 679.2,121.5 678.9,123.2 678.6,124.8 678.2,126.4 677.8,128.1 677.3,129.7 676.8,131.4 676.3,133.0 675.7,134.6 675.1,136.2 674.4,137.9 673.7,139.5 673.0,141.1 672.2,142.7 671.4,144.3 670.5,145.9 669.6,147.5 668.7,149.0 667.8,150.6 666.8,152.2 665.7,153.7 664.6,155.3 663.5,156.8 662.4,158.3 661.2,159.8 660.0,161.3 658.7,162.8 657.4,164.3 656.1,165.8 654.7,167.2 653.4,168.7 651.9,170.1 650.5,171.5 649.0,172.9 647.4,174.3 645.9,175.7 644.3,177.0 642.7,178.4 641.0,179.7 639.3,181.0 637.6,182.3 635.9,183.6 634.1,184.9 632.3,186.2 630.5,187.4 628.6,188.6 626.7,189.8 624.8,191.0 622.9,192.2 620.9,193.3 618.9,194.4 616.9,195.5 614.8,196.6 612.8,197.7 610.7,198.8 608.6,199.8 606.4,200.8 604.3,201.8 602.1,202.7 599.9,203.7 597.7,204.6 595.4,205.5 593.1,206.4 590.9,207.3 588.6,208.1 586.2,208.9 583.9,209.7 581.6,210.5 579.2,211.2 576.8,212.0 574.4,212.7 572.0,213.3 569.6,214.0 567.1,214.6 564.7,215.2 562.2,215.8 559.7,216.4 557.3,216.9 554.8,217.4 552.2,217.9 549.7,218.4 547.2,218.8 544.7,219.2 542.1,219.6 539.6,219.9 537.1,220.3 534.5,220.6 531.9,220.9 529.4,221.1 526.8,221.4 524.2,221.6 521.7,221.7 519.1,221.9 516.5,222.0 514.0,222.1 511.4,222.2 508.8,222.3 506.2,222.3 503.7,222.3 501.1,222.3 498.6,222.2 496.0,222.1 493.5,222.0 490.9,221.9 488.4,221.7 485.8,221.5 483.3,221.3 480.8,221.1 478.3,220.9 475.8,220.6 473.3,220.3 470.8,219.9 468.4,219.6 465.9,219.2 463.5,218.8 461.0,218.3 458.6,217.9 456.2,217.4 453.8,216.9 451.5,216.3 449.1,215.8 446.8,215.2 444.5,214.6 442.2,214.0 439.9,213.3 437.6,212.6 435.4,211.9 433.1,211.2 430.9,210.4 428.8,209.7 426.6,208.9 424.5,208.1 422.3,207.2 420.2,206.4 418.2,205.5 416.1,204.6 414.1,203.6 412.1,202.7 410.1,201.7 408.2,200.7 406.3,199.7 404.4,198.7 402.5,197.6 400.7,196.6 398.9,195.5 397.1,194.4 395.4,193.2 393.6,192.1 392.0,190.9 390.3,189.7 388.7,188.5 387.1,187.3 385.5,186.1 384.0,184.8 382.5,183.6 381.0,182.3 379.6,181.0 378.2,179.7 376.8,178.3 375.5,177.0 374.2,175.6 373.0,174.2 371.7,172.8 370.5,171.4 369.4,170.0 368.3,168.6 367.2,167.1 366.2,165.7 365.2,164.2 364.2,162.7 363.3,161.2 362.4,159.7 361.5,158.2 360.7,156.7 359.9,155.2 359.2,153.6 358.5,152.1 357.8,150.5 357.2,149.0 356.6,147.4 356.1,145.8 355.6,144.2 355.1,142.6 354.7,141.0 354.3,139.4 354.0,137.8 353.6,136.2 353.4,134.5 353.2,132.9 353.0,131.3 352.8,129.6" fill="none" stroke="#33330c" stroke-opacity="0.8" stroke-width="0.6"/>
<polyline clip-path="url(#cp0)" points="397.8,126.3 397.7,125.1 397.7,123.9 397.7,122.7 397.7,121.5 397.7,120.3 397.8,119.1 397.9,117.9 398.0,116.7 398.2,115.5 398.4,114.3 398.6,113.1 398.9,111.9 399.1,110.8 399.4,109.6 399.8,108.4 400.1,107.2 400.5,106.0 400.9,104.8 401.4,103.7 401.9,102.5 402.4,101.3 402.9,100.1 403.5,99.0 404.1,97.8 404.7,96.7 405.3,95.5 406.0,94.4 406.7,93.2 407.4,92.1 408.2,91.0 408.9,89.9 409.8,88.8 410.6,87.7 411.4,86.6 412.3,85.5 413.2,84.4 414.2,83.3 415.1,82.3 416.1,81.2 417.1,80.2 418.2,79.1 419.2,78.1 420.3,77.1 421.4,76.1 422.5,75.1 423.7,74.1 424.9,73.1 426.1,72.1 427.3,71.2 428.5,70.2 429.8,69.3 431.1,68.4 432.4,67.5 433.7,66.6 435.1,65.7 436.4,64.8 437.8,64.0 439.2,63.1 440.7,62.3 442.1,61.5 443.6,60.7 445.1,59.9 446.6,59.1 448.1,58.3 449.6,57.6 451.2,56.9 452.7,56.1 454.3,55.4 455.9,54.8 457.5,54.1 459.1,53.4 460.8,52.8 462.4,52.2 464.1,51.6 465.8,51.0 467.5,50.4 469.2,49.8 470.9,49.3 472.6,48.8 474.4,48.3 476.1,47.8 477.9,47.3 479.6,46.8 481.4,46.4 483.2,46.0 485.0,45.6 486.8,45.2 488.6,44.8 490.4,44.5 492.3,44.1 494.1,43.8 495.9,43.5 497.8,43.2 499.6,43.0 501.4,42.7 503.3,42.5 505.2,42.3 507.0,42.1 508.9,41.9 510.7,41.8 512.6,41.7 514.5,41.6 516.3,41.5 518.2,41.4 520.1,41.3 521.9,41.3 523.8,41.3 525.6,41.3 527.5,41.3 529.4,41.3 531.2,41.4 533.1,41.5 534.9,41.6 536.7,41.7 538.6,41.8 540.4,42.0 542.2,42.1 544.0,42.3 545.9,42.5 547.7,42.7 549.5,43.0 551.2,43.2 553.0,43.5 554.8,43.8 556.6,44.1 558.3,44.5 560.0,44.8 561.8,45.2 563.5,45.6 565.2,46.0 566.9,46.4 568.6,46.9 570.2,47.3 571.9,47.8 573.5,48.3 575.2,48.8 576.8,49.3 578.4,49.9 580.0,50.4 581.5,51.0 583.1,51.6 584.6,52.2 586.1,52.8 587.6,53.5 589.1,54.1 590.6,54.8 592.0,55.5 593.5,56.2 594.9,56.9 596.3,57.6 597.6,58.4 599.0,59.1 600.3,59.9 601.6,60.7 602.9,61.5 604.2,62.3 605.4,63.2 606.6,64.0 607.8,64.9 609.0,65.7 610.2,66.6 611.3,67.5 612.4,68.4 613.5,69.3 614.6,70.3 615.6,71.2 616.6,72.2 617.6,73.1 618.6,74.1 619.5,75.1 620.4,76.1 621.3,77.1 622.2,78.1 623.0,79.2 623.8,80.2 624.6,81.3 625.3,82.3 626.1,83.4 626.8,84.4 627.5,85.5 628.1,86.6 628.7,87.7 629.3,88.8 629.9,89.9 630.4,91.1 630.9,92.2 631.4,93.3 631.8,94.4 632.3,95.6 632.7,96.7 633.0,97.9 633.4,99.0 633.7,100.2 633.9,101.4 634.2,102.5 634.4,103.7 634.6,104.9 634.8,106.1 634.9,107.3 635.0,108.4 635.1,109.6 635.1,110.8 635.1,112.0 635.1,113.2 635.1,114.4 635.0,115.6 634.9,116.8 634.8,118.0 634.6,119.2 634.4,120.4 634.2,121.6 634.0,122.8 633.7,123.9 633.4,125.1 633.1,126.3 632.7,127.5 632.3,128.7 631.9,129.9 631.4,131.1 631.0,132.2 630.5,133.4 629.9,134.6 629.4,135.7 628.8,136.9 628.2,138.0 627.5,139.2 626.8,140.3 626.1,141.5 625.4,142.6 624.7,143.7 623.9,144.8 623.1,145.9 622.2,147.0 621.4,148.1 620.5,149.2 619.6,150.3 618.7,151.4 617.7,152.4 616.7,153.5 615.7,154.6 614.7,155.6 613.6,156.6 612.5,157.6 611.4,158.6 610.3,159.6 609.1,160.6 608.0,161.6 606.8,162.6 605.5,163.5 604.3,164.5 603.0,165.4 601.7,166.3 600.4,167.2 599.1,168.1 597.8,169.0 596.4,169.9 595.0,170.7 593.6,171.6 592.2,172.4 590.7,173.2 589.3,174.0 587.8,174.8 586.3,175.6 584.8,176.4 583.2,177.1 581.7,177.8 580.1,178.6 578.5,179.3 576.9,180.0 575.3,180.6 573.7,181.3 572.0,181.9 570.4,182.5 568.7,183.2 567.0,183.7 565.3,184.3 563.6,184.9 561.9,185.4 560.2,185.9 558.5,186.5 556.7,186.9 555.0,187.4 553.2,187.9 551.4,188.3 549.6,188.7 547.8,189.1 546.0,189.5 544.2,189.9 542.4,190.2 540.6,190.6 538.7,190.9 536.9,191.2 535.1,191.5 533.2,191.7 531.4,192.0 529.5,192.2 527.7,192.4 525.8,192.6 524.0,192.8 522.1,192.9 520.2,193.0 518.4,193.1 516.5,193.2 514.6,193.3 512.8,193.4 510.9,193.4 509.0,193.4 507.2,193.4 505.3,193.4 503.5,193.4 501.6,193.3 499.8,193.2 497.9,193.1 496.1,193.0 494.2,192.9 492.4,192.7 490.6,192.6 488.8,192.4 487.0,192.2 485.2,192.0 483.4,191.7 481.6,191.5 479.8,191.2 478.0,190.9 476.3,190.6 474.5,190.2 472.8,189.9 471.1,189.5 469.3,189.1 467.6,188.7 465.9,188.3 464.3,187.9 462.6,187.4 460.9,186.9 459.3,186.4 457.7,185.9 456.0,185.4 454.4,184.8 452.9,184.3 451.3,183.7 449.7,183.1 448.2,182.5 446.7,181.9 445.2,181.2 443.7,180.6 442.2,179.9 440.8,179.2 439.4,178.5 438.0,177.8 436.6,177.1 435.2,176.3 433.8,175.6 432.5,174.8 431.2,174.0 429.9,173.2 428.6,172.4 427.4,171.5 426.2,170.7 425.0,169.8 423.8,169.0 422.6,168.1 421.5,167.2 420.4,166.3 419.3,165.4 418.3,164.4 417.2,163.5 416.2,162.5 415.2,161.6 414.3,160.6 413.3,159.6 412.4,158.6 411.5,157.6 410.7,156.6 409.8,155.5 409.0,154.5 408.2,153.4 407.5,152.4 406.7,151.3 406.0,150.3 405.4,149.2 404.7,148.1 404.1,147.0 403.5,145.9 403.0,144.8 402.4,143.7 401.9,142.5 401.4,141.4 401.0,140.3 400.6,139.1 400.2,138.0 399.8,136.8 399.5,135.7 399.2,134.5 398.9,133.3 398.6,132.2 398.4,131.0 398.2,129.8 398.1,128.6 397.9,127.4 397.8,126.3" fill="none" stroke="#33330c" stroke-opacity="0.8" stroke-width="0.6"/>
<rect x="359.3" y="47.2" width="178.0" height="178.0" fill="none" stroke="#555" stroke-width="0.5"/>
<path d="M359.3,225.2v4.5" stroke="#555" stroke-width="0.5"/>
<text x="359.3" y="235.1" font-family="Liberation Sans, sans-serif" font-size="3.9" fill="#3a3a3a" text-anchor="middle">30</text>
<path d="M359.3,225.2h-4.5" stroke="#555" stroke-width="0.5"/>
<text x="353.0" y="226.6" font-family="Liberation Sans, sans-serif" font-size="3.9" fill="#3a3a3a" text-anchor="end">14</text>
<path d="M403.8,225.2v4.5" stroke="#555" stroke-width="0.5"/>
<text x="403.8" y="235.1" font-family="Liberation Sans, sans-serif" font-size="3.9" fill="#3a3a3a" text-anchor="middle">35</text>
<path d="M359.3,180.7h-4.5" stroke="#555" stroke-width="0.5"/>
<text x="353.0" y="182.1" font-family="Liberation Sans, sans-serif" font-size="3.9" fill="#3a3a3a" text-anchor="end">16</text>
<path d="M448.3,225.2v4.5" stroke="#555" stroke-width="0.5"/>
<text x="448.3" y="235.1" font-family="Liberation Sans, sans-serif" font-size="3.9" fill="#3a3a3a" text-anchor="middle">40</text>
<path d="M359.3,136.2h-4.5" stroke="#555" stroke-width="0.5"/>
<text x="353.0" y="137.6" font-family="Liberation Sans, sans-serif" font-size="3.9" fill="#3a3a3a" text-anchor="end">18</text>
<path d="M492.8,225.2v4.5" stroke="#555" stroke-width="0.5"/>
<text x="492.8" y="235.1" font-family="Liberation Sans, sans-serif" font-size="3.9" fill="#3a3a3a" text-anchor="middle">45</text>
<path d="M359.3,91.7h-4.5" stroke="#555" stroke-width="0.5"/>
<text x="353.0" y="93.1" font-family="Liberation Sans, sans-serif" font-size="3.9" fill="#3a3a3a" text-anchor="end">20</text>
<path d="M537.3,225.2v4.5" stroke="#555" stroke-width="0.5"/>
<text x="537.3" y="235.1" font-family="Liberation Sans, sans-serif" font-size="3.9" fill="#3a3a3a" text-anchor="middle">50</text>
<path d="M359.3,47.2h-4.5" stroke="#555" stroke-width="0.5"/>
<text x="353.0" y="48.6" font-family="Liberation Sans, sans-serif" font-size="3.9" fill="#3a3a3a" text-anchor="end">22</text>
<rect x="374.9" y="63.8" width="6.5" height="3.4" fill="#fff" stroke="#777" stroke-width="0.4"/>
<text x="378.2" y="66.6" font-family="Liberation Sans, sans-serif" font-size="3" fill="#555" text-anchor="middle">17.5</text>
<rect x="399.9" y="139.2" width="4.5" height="3.4" fill="#fff" stroke="#777" stroke-width="0.4"/>
<text x="402.2" y="142.0" font-family="Liberation Sans, sans-serif" font-size="3" fill="#555" text-anchor="middle">18</text>
<rect x="424.9" y="205.6" width="6.5" height="3.4" fill="#fff" stroke="#777" stroke-width="0.4"/>
<text x="428.2" y="208.4" font-family="Liberation Sans, sans-serif" font-size="3" fill="#555" text-anchor="middle">17.5</text>
<rect x="374.9" y="210.5" width="4.8" height="3.4" fill="#fff" stroke="#777" stroke-width="0.4"/>
<text x="377.3" y="213.3" font-family="Liberation Sans, sans-serif" font-size="3" fill="#555" text-anchor="middle">17</text>
<circle cx="359.3" cy="47.2" r="1.9" fill="#c00000" stroke="#7a0000" stroke-width="0.3"/>
<circle cx="537.3" cy="47.2" r="1.9" fill="#c00000" stroke="#7a0000" stroke-width="0.3"/>
<circle cx="359.3" cy="225.2" r="1.9" fill="#c00000" stroke="#7a0000" stroke-width="0.3"/>
<circle cx="537.3" cy="225.2" r="1.9" fill="#c00000" stroke="#7a0000" stroke-width="0.3"/>
<circle cx="448.3" cy="136.2" r="1.9" fill="#b00000" stroke="#600" stroke-width="0.3"/>
<text x="445.1" y="137.5" font-family="Liberation Sans, sans-serif" font-size="3.6" fill="#722" text-anchor="end">5</text>
<text x="387.9" y="42.5" font-family="Liberation Serif, Noto Sans CJK SC, serif" font-weight="bold" font-size="10.35" fill="#111">Polysaccharides contents（%）</text>
<text x="390.8" y="246.8" font-family="Liberation Serif, Noto Sans CJK SC, serif" font-weight="bold" font-size="10.35" fill="#111">A：Liquid-Solid ratio（g/mL）</text>
<text x="334.6" y="86.4" transform="rotate(90 334.6 86.4)" font-family="Liberation Serif, Noto Sans CJK SC, serif" font-weight="bold" font-size="10.35" fill="#111">B：Extraction time（min）</text>
<defs><radialGradient id="g1" gradientUnits="userSpaceOnUse" cx="0" cy="0" r="1" fx="0" fy="0" gradientTransform="matrix(-364.540 -72.905 39.387 -196.941 507.75 467.13)"><stop offset="0.0000" stop-color="#ff1200"/><stop offset="0.0208" stop-color="#ff1300"/><stop offset="0.0417" stop-color="#ff1500"/><stop offset="0.0625" stop-color="#ff1800"/><stop offset="0.0833" stop-color="#ff1c00"/><stop offset="0.1042" stop-color="#ff2200"/><stop offset="0.1250" stop-color="#ff2900"/><stop offset="0.1458" stop-color="#ff3100"/><stop offset="0.1667" stop-color="#ff3a00"/><stop offset="0.1875" stop-color="#ff4500"/><stop offset="0.2083" stop-color="#ff5100"/><stop offset="0.2292" stop-color="#ff5e00"/><stop offset="0.2500" stop-color="#ff6c00"/><stop offset="0.2708" stop-color="#ff7c00"/><stop offset="0.2917" stop-color="#ff8d00"/><stop offset="0.3125" stop-color="#ff9f00"/><stop offset="0.3333" stop-color="#ffb200"/><stop offset="0.3542" stop-color="#ffc700"/><stop offset="0.3750" stop-color="#ffdc00"/><stop offset="0.3958" stop-color="#fff400"/><stop offset="0.4167" stop-color="#f2ff00"/><stop offset="0.4375" stop-color="#d9ff00"/><stop offset="0.4583" stop-color="#beff00"/><stop offset="0.4792" stop-color="#a2ff00"/><stop offset="0.5000" stop-color="#84ff00"/><stop offset="0.5208" stop-color="#66ff00"/><stop offset="0.5417" stop-color="#46ff00"/><stop offset="0.5625" stop-color="#25ff00"/><stop offset="0.5833" stop-color="#03ff00"/><stop offset="0.6042" stop-color="#00ff21"/><stop offset="0.6250" stop-color="#00ff45"/><stop offset="0.6458" stop-color="#00ff6c"/><stop offset="0.6667" stop-color="#00ff93"/><stop offset="0.6875" stop-color="#00ffbb"/><stop offset="0.7083" stop-color="#00ffe5"/><stop offset="0.7292" stop-color="#00eeff"/><stop offset="0.7500" stop-color="#00c2ff"/><stop offset="0.7708" stop-color="#0094ff"/><stop offset="0.7917" stop-color="#0065ff"/><stop offset="0.8125" stop-color="#0035ff"/><stop offset="0.8333" stop-color="#0004ff"/><stop offset="0.8542" stop-color="#0000ff"/><stop offset="0.8750" stop-color="#0000ff"/><stop offset="0.8958" stop-color="#0000ff"/><stop offset="0.9167" stop-color="#0000ff"/><stop offset="0.9375" stop-color="#0000ff"/><stop offset="0.9583" stop-color="#0000ff"/><stop offset="0.9792" stop-color="#0000ff"/><stop offset="1.0000" stop-color="#0000ff"/></radialGradient><clipPath id="cp1"><rect x="359.3" y="395.7" width="178.0" height="178.0"/></clipPath></defs>
<rect x="359.3" y="395.7" width="178.0" height="178.0" fill="url(#g1)"/>
<polyline clip-path="url(#cp1)" points="303.5,426.3 303.9,424.6 304.3,422.8 304.7,421.1 305.3,419.4 305.8,417.7 306.5,416.1 307.1,414.4 307.9,412.8 308.6,411.1 309.4,409.5 310.3,407.9 311.2,406.3 312.2,404.8 313.2,403.2 314.3,401.6 315.4,400.1 316.5,398.6 317.8,397.1 319.0,395.6 320.3,394.2 321.6,392.7 323.0,391.3 324.5,389.9 326.0,388.5 327.5,387.2 329.0,385.8 330.7,384.5 332.3,383.2 334.0,381.9 335.8,380.6 337.6,379.4 339.4,378.2 341.3,377.0 343.2,375.8 345.1,374.6 347.1,373.5 349.1,372.4 351.2,371.3 353.3,370.3 355.5,369.2 357.7,368.2 359.9,367.2 362.1,366.3 364.4,365.3 366.8,364.4 369.1,363.5 371.5,362.6 374.0,361.8 376.4,361.0 378.9,360.2 381.4,359.5 384.0,358.7 386.6,358.0 389.2,357.3 391.9,356.7 394.6,356.1 397.3,355.5 400.0,354.9 402.8,354.4 405.5,353.8 408.4,353.4 411.2,352.9 414.0,352.5 416.9,352.1 419.8,351.7 422.8,351.4 425.7,351.0 428.7,350.7 431.7,350.5 434.7,350.3 437.7,350.1 440.7,349.9 443.8,349.7 446.9,349.6 450.0,349.5 453.1,349.5 456.2,349.5 459.3,349.5 462.5,349.5 465.6,349.6 468.8,349.6 472.0,349.8 475.1,349.9 478.3,350.1 481.5,350.3 484.7,350.5 487.9,350.8 491.2,351.1 494.4,351.4 497.6,351.7 500.8,352.1 504.0,352.5 507.3,353.0 510.5,353.4 513.7,353.9 517.0,354.4 520.2,355.0 523.4,355.5 526.6,356.1 529.8,356.8 533.0,357.4 536.2,358.1 539.4,358.8 542.6,359.6 545.8,360.3 548.9,361.1 552.1,361.9 555.2,362.8 558.4,363.6 561.5,364.5 564.6,365.4 567.7,366.4 570.8,367.4 573.8,368.3 576.9,369.4 579.9,370.4 582.9,371.5 585.9,372.6 588.9,373.7 591.9,374.8 594.8,376.0 597.7,377.1 600.6,378.3 603.5,379.6 606.3,380.8 609.1,382.1 611.9,383.4 614.7,384.7 617.4,386.0 620.2,387.4 622.8,388.7 625.5,390.1 628.1,391.5 630.7,392.9 633.3,394.4 635.8,395.8 638.3,397.3 640.8,398.8 643.3,400.3 645.7,401.9 648.0,403.4 650.4,405.0 652.7,406.6 655.0,408.1 657.2,409.7 659.4,411.4 661.6,413.0 663.7,414.7 665.8,416.3 667.8,418.0 669.8,419.7 671.8,421.4 673.7,423.1 675.6,424.8 677.4,426.5 679.2,428.3 681.0,430.0 682.7,431.8 684.4,433.5 686.0,435.3 687.6,437.1 689.1,438.9 690.6,440.7 692.0,442.5 693.5,444.3 694.8,446.1 696.1,447.9 697.4,449.8 698.6,451.6 699.8,453.4 700.9,455.3 702.0,457.1 703.0,459.0 704.0,460.8 704.9,462.6 705.8,464.5 706.6,466.3 707.4,468.2 708.2,470.0 708.8,471.9 709.5,473.7 710.1,475.6 710.6,477.4 711.1,479.3 711.5,481.1 711.9,482.9 712.3,484.8 712.5,486.6 712.8,488.4 713.0,490.2 713.1,492.0 713.2,493.8 713.2,495.6 713.2,497.4 713.1,499.2 713.0,501.0 712.8,502.7 712.6,504.5 712.3,506.2 712.0,508.0 711.6,509.7 711.2,511.4 710.8,513.1 710.2,514.8 709.7,516.5 709.0,518.2 708.4,519.8 707.6,521.5 706.9,523.1 706.1,524.7 705.2,526.4 704.3,527.9 703.3,529.5 702.3,531.1 701.2,532.6 700.1,534.1 699.0,535.7 697.8,537.2 696.5,538.6 695.2,540.1 693.9,541.5 692.5,543.0 691.0,544.4 689.6,545.7 688.0,547.1 686.5,548.5 684.8,549.8 683.2,551.1 681.5,552.4 679.7,553.6 677.9,554.9 676.1,556.1 674.3,557.3 672.3,558.5 670.4,559.6 668.4,560.8 666.4,561.9 664.3,563.0 662.2,564.0 660.0,565.0 657.9,566.1 655.6,567.1 653.4,568.0 651.1,569.0 648.7,569.9 646.4,570.8 644.0,571.6 641.5,572.5 639.1,573.3 636.6,574.1 634.1,574.8 631.5,575.5 628.9,576.2 626.3,576.9 623.6,577.6 621.0,578.2 618.2,578.8 615.5,579.4 612.7,579.9 610.0,580.4 607.2,580.9 604.3,581.4 601.5,581.8 598.6,582.2 595.7,582.6 592.7,582.9 589.8,583.2 586.8,583.5 583.8,583.8 580.8,584.0 577.8,584.2 574.8,584.4 571.7,584.5 568.6,584.6 565.5,584.7 562.4,584.8 559.3,584.8 556.2,584.8 553.0,584.8 549.9,584.7 546.7,584.6 543.5,584.5 540.4,584.4 537.2,584.2 534.0,584.0 530.8,583.7 527.6,583.5 524.3,583.2 521.1,582.9 517.9,582.5 514.7,582.1 511.5,581.7 508.2,581.3 505.0,580.8 501.8,580.4 498.6,579.8 495.3,579.3 492.1,578.7 488.9,578.1 485.7,577.5 482.5,576.8 479.3,576.2 476.1,575.4 472.9,574.7 469.7,573.9 466.6,573.2 463.4,572.3 460.3,571.5 457.1,570.6 454.0,569.7 450.9,568.8 447.8,567.9 444.7,566.9 441.7,565.9 438.6,564.9 435.6,563.9 432.6,562.8 429.6,561.7 426.6,560.6 423.6,559.5 420.7,558.3 417.8,557.1 414.9,555.9 412.0,554.7 409.2,553.5 406.4,552.2 403.6,550.9 400.8,549.6 398.1,548.3 395.4,546.9 392.7,545.5 390.0,544.2 387.4,542.8 384.8,541.3 382.2,539.9 379.7,538.4 377.2,536.9 374.7,535.4 372.2,533.9 369.8,532.4 367.5,530.9 365.1,529.3 362.8,527.7 360.5,526.1 358.3,524.5 356.1,522.9 354.0,521.3 351.8,519.6 349.7,518.0 347.7,516.3 345.7,514.6 343.7,512.9 341.8,511.2 339.9,509.5 338.1,507.7 336.3,506.0 334.5,504.3 332.8,502.5 331.1,500.7 329.5,498.9 327.9,497.2 326.4,495.4 324.9,493.6 323.5,491.8 322.1,490.0 320.7,488.1 319.4,486.3 318.1,484.5 316.9,482.7 315.7,480.8 314.6,479.0 313.5,477.2 312.5,475.3 311.5,473.5 310.6,471.6 309.7,469.8 308.9,467.9 308.1,466.1 307.3,464.2 306.7,462.4 306.0,460.5 305.4,458.7 304.9,456.8 304.4,455.0 304.0,453.2 303.6,451.3 303.3,449.5 303.0,447.7 302.7,445.9 302.5,444.0 302.4,442.2 302.3,440.4 302.3,438.6 302.3,436.8 302.4,435.1 302.5,433.3 302.7,431.5 302.9,429.8 303.2,428.0 303.5,426.3" fill="none" stroke="#33330c" stroke-opacity="0.8" stroke-width="0.6"/>
<polyline clip-path="url(#cp1)" points="339.5,433.5 339.8,432.1 340.1,430.6 340.5,429.2 340.9,427.8 341.4,426.4 341.9,425.1 342.5,423.7 343.1,422.3 343.7,421.0 344.4,419.7 345.1,418.3 345.9,417.0 346.7,415.7 347.5,414.5 348.4,413.2 349.3,411.9 350.2,410.7 351.2,409.4 352.3,408.2 353.3,407.0 354.4,405.8 355.6,404.7 356.8,403.5 358.0,402.4 359.2,401.2 360.5,400.1 361.9,399.0 363.2,398.0 364.6,396.9 366.1,395.9 367.5,394.8 369.0,393.8 370.6,392.9 372.2,391.9 373.8,390.9 375.4,390.0 377.1,389.1 378.8,388.2 380.5,387.3 382.3,386.5 384.1,385.6 385.9,384.8 387.8,384.0 389.7,383.3 391.6,382.5 393.5,381.8 395.5,381.1 397.5,380.4 399.6,379.7 401.6,379.0 403.7,378.4 405.8,377.8 407.9,377.2 410.1,376.7 412.3,376.1 414.5,375.6 416.7,375.1 419.0,374.7 421.3,374.2 423.5,373.8 425.9,373.4 428.2,373.0 430.6,372.7 432.9,372.3 435.3,372.0 437.7,371.7 440.2,371.5 442.6,371.3 445.1,371.0 447.6,370.8 450.0,370.7 452.6,370.5 455.1,370.4 457.6,370.3 460.2,370.3 462.7,370.2 465.3,370.2 467.9,370.2 470.4,370.2 473.0,370.3 475.6,370.3 478.3,370.4 480.9,370.6 483.5,370.7 486.1,370.9 488.8,371.1 491.4,371.3 494.1,371.5 496.7,371.8 499.4,372.1 502.0,372.4 504.7,372.7 507.4,373.1 510.0,373.5 512.7,373.9 515.3,374.3 518.0,374.7 520.6,375.2 523.3,375.7 525.9,376.2 528.6,376.8 531.2,377.3 533.8,377.9 536.5,378.5 539.1,379.1 541.7,379.8 544.3,380.5 546.9,381.2 549.5,381.9 552.0,382.6 554.6,383.4 557.1,384.1 559.7,384.9 562.2,385.7 564.7,386.6 567.2,387.4 569.7,388.3 572.2,389.2 574.6,390.1 577.0,391.1 579.5,392.0 581.9,393.0 584.2,394.0 586.6,395.0 588.9,396.0 591.3,397.1 593.6,398.1 595.9,399.2 598.1,400.3 600.4,401.4 602.6,402.5 604.8,403.7 606.9,404.8 609.1,406.0 611.2,407.2 613.3,408.4 615.3,409.6 617.4,410.9 619.4,412.1 621.4,413.4 623.3,414.6 625.3,415.9 627.2,417.2 629.0,418.5 630.9,419.9 632.7,421.2 634.5,422.5 636.2,423.9 637.9,425.3 639.6,426.6 641.3,428.0 642.9,429.4 644.5,430.8 646.0,432.3 647.5,433.7 649.0,435.1 650.5,436.6 651.9,438.0 653.2,439.5 654.6,440.9 655.9,442.4 657.2,443.9 658.4,445.3 659.6,446.8 660.7,448.3 661.9,449.8 662.9,451.3 664.0,452.8 665.0,454.3 665.9,455.8 666.9,457.4 667.8,458.9 668.6,460.4 669.4,461.9 670.2,463.4 670.9,465.0 671.6,466.5 672.2,468.0 672.9,469.5 673.4,471.0 673.9,472.6 674.4,474.1 674.9,475.6 675.3,477.1 675.6,478.6 675.9,480.1 676.2,481.7 676.5,483.2 676.7,484.7 676.8,486.2 676.9,487.6 677.0,489.1 677.0,490.6 677.0,492.1 676.9,493.6 676.8,495.0 676.7,496.5 676.5,497.9 676.3,499.4 676.0,500.8 675.7,502.2 675.4,503.6 675.0,505.0 674.6,506.4 674.1,507.8 673.6,509.2 673.0,510.6 672.4,511.9 671.8,513.3 671.1,514.6 670.4,515.9 669.6,517.2 668.9,518.5 668.0,519.8 667.1,521.1 666.2,522.3 665.3,523.6 664.3,524.8 663.2,526.0 662.2,527.2 661.1,528.4 659.9,529.6 658.7,530.8 657.5,531.9 656.3,533.0 655.0,534.1 653.6,535.2 652.3,536.3 650.9,537.4 649.4,538.4 648.0,539.4 646.5,540.4 644.9,541.4 643.3,542.4 641.7,543.3 640.1,544.3 638.4,545.2 636.7,546.1 635.0,546.9 633.2,547.8 631.4,548.6 629.6,549.4 627.7,550.2 625.8,551.0 623.9,551.8 622.0,552.5 620.0,553.2 618.0,553.9 615.9,554.6 613.9,555.2 611.8,555.8 609.7,556.4 607.6,557.0 605.4,557.6 603.2,558.1 601.0,558.6 598.8,559.1 596.5,559.6 594.3,560.0 592.0,560.5 589.6,560.9 587.3,561.2 584.9,561.6 582.6,561.9 580.2,562.2 577.8,562.5 575.3,562.8 572.9,563.0 570.4,563.2 567.9,563.4 565.5,563.6 563.0,563.7 560.4,563.8 557.9,563.9 555.4,564.0 552.8,564.1 550.2,564.1 547.6,564.1 545.1,564.0 542.5,564.0 539.9,563.9 537.2,563.8 534.6,563.7 532.0,563.6 529.4,563.4 526.7,563.2 524.1,563.0 521.4,562.7 518.8,562.5 516.1,562.2 513.5,561.9 510.8,561.5 508.1,561.2 505.5,560.8 502.8,560.4 500.2,560.0 497.5,559.5 494.9,559.1 492.2,558.6 489.6,558.0 486.9,557.5 484.3,556.9 481.7,556.4 479.0,555.8 476.4,555.1 473.8,554.5 471.2,553.8 468.6,553.1 466.0,552.4 463.5,551.7 460.9,550.9 458.4,550.1 455.8,549.3 453.3,548.5 450.8,547.7 448.3,546.8 445.8,545.9 443.3,545.0 440.9,544.1 438.5,543.2 436.0,542.2 433.6,541.3 431.3,540.3 428.9,539.3 426.6,538.2 424.2,537.2 421.9,536.1 419.6,535.1 417.4,534.0 415.2,532.9 412.9,531.7 410.7,530.6 408.6,529.4 406.4,528.3 404.3,527.1 402.2,525.9 400.2,524.6 398.1,523.4 396.1,522.2 394.1,520.9 392.2,519.6 390.2,518.3 388.3,517.0 386.5,515.7 384.6,514.4 382.8,513.1 381.0,511.7 379.3,510.4 377.6,509.0 375.9,507.6 374.2,506.2 372.6,504.8 371.0,503.4 369.5,502.0 368.0,500.6 366.5,499.2 365.0,497.7 363.6,496.3 362.3,494.8 360.9,493.3 359.6,491.9 358.3,490.4 357.1,488.9 355.9,487.4 354.8,485.9 353.6,484.4 352.6,482.9 351.5,481.4 350.5,479.9 349.6,478.4 348.6,476.9 347.7,475.4 346.9,473.9 346.1,472.4 345.3,470.8 344.6,469.3 343.9,467.8 343.3,466.3 342.7,464.7 342.1,463.2 341.6,461.7 341.1,460.2 340.6,458.7 340.2,457.1 339.9,455.6 339.6,454.1 339.3,452.6 339.0,451.1 338.8,449.6 338.7,448.1 338.6,446.6 338.5,445.1 338.5,443.7 338.5,442.2 338.6,440.7 338.7,439.3 338.8,437.8 339.0,436.4 339.2,434.9 339.5,433.5" fill="none" stroke="#33330c" stroke-opacity="0.8" stroke-width="0.6"/>
<polyline clip-path="url(#cp1)" points="385.6,442.7 385.9,441.7 386.1,440.7 386.4,439.6 386.7,438.6 387.0,437.6 387.4,436.6 387.8,435.6 388.2,434.6 388.7,433.7 389.2,432.7 389.7,431.7 390.3,430.8 390.8,429.8 391.5,428.9 392.1,428.0 392.8,427.1 393.4,426.2 394.2,425.3 394.9,424.4 395.7,423.5 396.5,422.7 397.3,421.8 398.2,421.0 399.1,420.1 400.0,419.3 400.9,418.5 401.9,417.7 402.9,416.9 403.9,416.2 404.9,415.4 406.0,414.7 407.1,413.9 408.2,413.2 409.4,412.5 410.5,411.8 411.7,411.2 412.9,410.5 414.2,409.9 415.4,409.2 416.7,408.6 418.0,408.0 419.3,407.4 420.7,406.8 422.1,406.3 423.5,405.7 424.9,405.2 426.3,404.7 427.8,404.2 429.2,403.7 430.7,403.2 432.2,402.8 433.8,402.3 435.3,401.9 436.9,401.5 438.5,401.1 440.1,400.7 441.7,400.4 443.3,400.0 445.0,399.7 446.6,399.4 448.3,399.1 450.0,398.8 451.7,398.6 453.5,398.3 455.2,398.1 456.9,397.9 458.7,397.7 460.5,397.6 462.3,397.4 464.1,397.3 465.9,397.1 467.7,397.0 469.5,397.0 471.4,396.9 473.2,396.8 475.1,396.8 476.9,396.8 478.8,396.8 480.7,396.8 482.6,396.8 484.5,396.9 486.4,397.0 488.3,397.1 490.2,397.2 492.1,397.3 494.0,397.4 495.9,397.6 497.8,397.8 499.8,397.9 501.7,398.2 503.6,398.4 505.5,398.6 507.5,398.9 509.4,399.2 511.3,399.4 513.3,399.8 515.2,400.1 517.1,400.4 519.0,400.8 520.9,401.2 522.9,401.6 524.8,402.0 526.7,402.4 528.6,402.8 530.5,403.3 532.4,403.8 534.3,404.2 536.1,404.7 538.0,405.3 539.9,405.8 541.7,406.3 543.6,406.9 545.4,407.5 547.3,408.1 549.1,408.7 550.9,409.3 552.7,409.9 554.5,410.6 556.3,411.3 558.0,411.9 559.8,412.6 561.5,413.3 563.3,414.1 565.0,414.8 566.7,415.5 568.4,416.3 570.0,417.1 571.7,417.8 573.3,418.6 574.9,419.4 576.6,420.3 578.1,421.1 579.7,421.9 581.3,422.8 582.8,423.6 584.3,424.5 585.8,425.4 587.3,426.3 588.8,427.2 590.2,428.1 591.6,429.0 593.0,430.0 594.4,430.9 595.8,431.9 597.1,432.8 598.4,433.8 599.7,434.8 601.0,435.8 602.2,436.8 603.4,437.8 604.6,438.8 605.8,439.8 607.0,440.8 608.1,441.8 609.2,442.9 610.3,443.9 611.3,444.9 612.3,446.0 613.3,447.1 614.3,448.1 615.2,449.2 616.2,450.2 617.1,451.3 617.9,452.4 618.8,453.5 619.6,454.6 620.4,455.7 621.1,456.8 621.8,457.8 622.5,458.9 623.2,460.0 623.9,461.1 624.5,462.2 625.1,463.3 625.6,464.4 626.2,465.6 626.7,466.7 627.1,467.8 627.6,468.9 628.0,470.0 628.4,471.1 628.7,472.2 629.0,473.3 629.3,474.4 629.6,475.5 629.8,476.6 630.0,477.7 630.2,478.8 630.3,479.8 630.4,480.9 630.5,482.0 630.6,483.1 630.6,484.2 630.6,485.2 630.5,486.3 630.5,487.4 630.4,488.4 630.2,489.5 630.1,490.5 629.9,491.6 629.6,492.6 629.4,493.6 629.1,494.6 628.8,495.7 628.5,496.7 628.1,497.7 627.7,498.6 627.3,499.6 626.8,500.6 626.3,501.6 625.8,502.5 625.2,503.5 624.7,504.4 624.1,505.4 623.4,506.3 622.8,507.2 622.1,508.1 621.3,509.0 620.6,509.9 619.8,510.7 619.0,511.6 618.2,512.5 617.3,513.3 616.4,514.1 615.5,514.9 614.6,515.7 613.6,516.5 612.6,517.3 611.6,518.1 610.6,518.8 609.5,519.6 608.4,520.3 607.3,521.0 606.1,521.7 605.0,522.4 603.8,523.1 602.6,523.8 601.3,524.4 600.1,525.1 598.8,525.7 597.5,526.3 596.2,526.9 594.8,527.4 593.4,528.0 592.0,528.6 590.6,529.1 589.2,529.6 587.7,530.1 586.3,530.6 584.8,531.1 583.3,531.5 581.7,531.9 580.2,532.4 578.6,532.8 577.0,533.2 575.4,533.5 573.8,533.9 572.2,534.2 570.5,534.6 568.9,534.9 567.2,535.2 565.5,535.4 563.8,535.7 562.0,535.9 560.3,536.1 558.6,536.4 556.8,536.5 555.0,536.7 553.2,536.9 551.4,537.0 549.6,537.1 547.8,537.2 546.0,537.3 544.1,537.4 542.3,537.4 540.4,537.5 538.6,537.5 536.7,537.5 534.8,537.5 532.9,537.4 531.0,537.4 529.2,537.3 527.2,537.2 525.3,537.1 523.4,537.0 521.5,536.8 519.6,536.7 517.7,536.5 515.7,536.3 513.8,536.1 511.9,535.9 510.0,535.6 508.0,535.4 506.1,535.1 504.2,534.8 502.3,534.5 500.3,534.2 498.4,533.8 496.5,533.5 494.6,533.1 492.6,532.7 490.7,532.3 488.8,531.9 486.9,531.4 485.0,531.0 483.1,530.5 481.2,530.0 479.4,529.5 477.5,529.0 475.6,528.5 473.8,527.9 471.9,527.4 470.1,526.8 468.2,526.2 466.4,525.6 464.6,525.0 462.8,524.3 461.0,523.7 459.2,523.0 457.5,522.3 455.7,521.6 454.0,520.9 452.2,520.2 450.5,519.5 448.8,518.7 447.1,518.0 445.5,517.2 443.8,516.4 442.2,515.6 440.6,514.8 438.9,514.0 437.4,513.2 435.8,512.3 434.2,511.5 432.7,510.6 431.2,509.8 429.7,508.9 428.2,508.0 426.7,507.1 425.3,506.2 423.9,505.2 422.5,504.3 421.1,503.4 419.7,502.4 418.4,501.4 417.1,500.5 415.8,499.5 414.5,498.5 413.3,497.5 412.1,496.5 410.9,495.5 409.7,494.5 408.5,493.5 407.4,492.4 406.3,491.4 405.2,490.4 404.2,489.3 403.2,488.3 402.2,487.2 401.2,486.2 400.3,485.1 399.3,484.0 398.4,482.9 397.6,481.9 396.7,480.8 395.9,479.7 395.1,478.6 394.4,477.5 393.7,476.4 393.0,475.3 392.3,474.2 391.6,473.1 391.0,472.0 390.4,470.9 389.9,469.8 389.4,468.7 388.9,467.6 388.4,466.5 387.9,465.4 387.5,464.3 387.2,463.2 386.8,462.1 386.5,461.0 386.2,459.9 385.9,458.8 385.7,457.7 385.5,456.6 385.3,455.5 385.2,454.4 385.1,453.3 385.0,452.3 384.9,451.2 384.9,450.1 384.9,449.0 385.0,448.0 385.0,446.9 385.1,445.8 385.3,444.8 385.4,443.7 385.6,442.7" fill="none" stroke="#33330c" stroke-opacity="0.8" stroke-width="0.6"/>
<rect x="359.3" y="395.7" width="178.0" height="178.0" fill="none" stroke="#555" stroke-width="0.5"/>
<path d="M359.3,573.7v4.5" stroke="#555" stroke-width="0.5"/>
<text x="359.3" y="583.6" font-family="Liberation Sans, sans-serif" font-size="3.9" fill="#3a3a3a" text-anchor="middle">30</text>
<path d="M359.3,573.7h-4.5" stroke="#555" stroke-width="0.5"/>
<text x="353.0" y="575.1" font-family="Liberation Sans, sans-serif" font-size="3.9" fill="#3a3a3a" text-anchor="end">300</text>
<path d="M403.8,573.7v4.5" stroke="#555" stroke-width="0.5"/>
<text x="403.8" y="583.6" font-family="Liberation Sans, sans-serif" font-size="3.9" fill="#3a3a3a" text-anchor="middle">35</text>
<path d="M359.3,529.2h-4.5" stroke="#555" stroke-width="0.5"/>
<text x="353.0" y="530.6" font-family="Liberation Sans, sans-serif" font-size="3.9" fill="#3a3a3a" text-anchor="end">350</text>
<path d="M448.3,573.7v4.5" stroke="#555" stroke-width="0.5"/>
<text x="448.3" y="583.6" font-family="Liberation Sans, sans-serif" font-size="3.9" fill="#3a3a3a" text-anchor="middle">40</text>
<path d="M359.3,484.7h-4.5" stroke="#555" stroke-width="0.5"/>
<text x="353.0" y="486.1" font-family="Liberation Sans, sans-serif" font-size="3.9" fill="#3a3a3a" text-anchor="end">400</text>
<path d="M492.8,573.7v4.5" stroke="#555" stroke-width="0.5"/>
<text x="492.8" y="583.6" font-family="Liberation Sans, sans-serif" font-size="3.9" fill="#3a3a3a" text-anchor="middle">45</text>
<path d="M359.3,440.2h-4.5" stroke="#555" stroke-width="0.5"/>
<text x="353.0" y="441.6" font-family="Liberation Sans, sans-serif" font-size="3.9" fill="#3a3a3a" text-anchor="end">450</text>
<path d="M537.3,573.7v4.5" stroke="#555" stroke-width="0.5"/>
<text x="537.3" y="583.6" font-family="Liberation Sans, sans-serif" font-size="3.9" fill="#3a3a3a" text-anchor="middle">50</text>
<path d="M359.3,395.7h-4.5" stroke="#555" stroke-width="0.5"/>
<text x="353.0" y="397.1" font-family="Liberation Sans, sans-serif" font-size="3.9" fill="#3a3a3a" text-anchor="end">500</text>
<rect x="383.6" y="455.6" width="4.5" height="3.4" fill="#fff" stroke="#777" stroke-width="0.4"/>
<text x="385.8" y="458.4" font-family="Liberation Sans, sans-serif" font-size="3" fill="#555" text-anchor="middle">18</text>
<rect x="431.2" y="538.3" width="6.5" height="3.4" fill="#fff" stroke="#777" stroke-width="0.4"/>
<text x="434.5" y="541.1" font-family="Liberation Sans, sans-serif" font-size="3" fill="#555" text-anchor="middle">17.5</text>
<rect x="405.8" y="550.1" width="4.8" height="3.4" fill="#fff" stroke="#777" stroke-width="0.4"/>
<text x="408.2" y="552.9" font-family="Liberation Sans, sans-serif" font-size="3" fill="#555" text-anchor="middle">17</text>
<circle cx="359.3" cy="395.7" r="1.9" fill="#c00000" stroke="#7a0000" stroke-width="0.3"/>
<circle cx="537.3" cy="395.7" r="1.9" fill="#c00000" stroke="#7a0000" stroke-width="0.3"/>
<circle cx="359.3" cy="573.7" r="1.9" fill="#c00000" stroke="#7a0000" stroke-width="0.3"/>
<circle cx="537.3" cy="573.7" r="1.9" fill="#c00000" stroke="#7a0000" stroke-width="0.3"/>
<circle cx="448.3" cy="484.7" r="1.9" fill="#b00000" stroke="#600" stroke-width="0.3"/>
<text x="445.1" y="486.0" font-family="Liberation Sans, sans-serif" font-size="3.6" fill="#722" text-anchor="end">5</text>
<text x="387.9" y="390.5" font-family="Liberation Serif, Noto Sans CJK SC, serif" font-weight="bold" font-size="10.35" fill="#111">Polysaccharides contents（%）</text>
<text x="390.8" y="595.3" font-family="Liberation Serif, Noto Sans CJK SC, serif" font-weight="bold" font-size="10.35" fill="#111">A：Liquid-Solid ratio（g/mL）</text>
<text x="334.6" y="437.2" transform="rotate(90 334.6 437.2)" font-family="Liberation Serif, Noto Sans CJK SC, serif" font-weight="bold" font-size="10.35" fill="#111">C：Ultrasonic power（W）</text>
<defs><radialGradient id="g2" gradientUnits="userSpaceOnUse" cx="0" cy="0" r="1" fx="0" fy="0" gradientTransform="matrix(-217.917 -170.295 109.820 -140.530 453.52 811.69)"><stop offset="0.0000" stop-color="#ff3800"/><stop offset="0.0208" stop-color="#ff3900"/><stop offset="0.0417" stop-color="#ff3b00"/><stop offset="0.0625" stop-color="#ff3e00"/><stop offset="0.0833" stop-color="#ff4200"/><stop offset="0.1042" stop-color="#ff4800"/><stop offset="0.1250" stop-color="#ff4e00"/><stop offset="0.1458" stop-color="#ff5600"/><stop offset="0.1667" stop-color="#ff5f00"/><stop offset="0.1875" stop-color="#ff6a00"/><stop offset="0.2083" stop-color="#ff7500"/><stop offset="0.2292" stop-color="#ff8200"/><stop offset="0.2500" stop-color="#ff9000"/><stop offset="0.2708" stop-color="#ff9f00"/><stop offset="0.2917" stop-color="#ffaf00"/><stop offset="0.3125" stop-color="#ffc100"/><stop offset="0.3333" stop-color="#ffd400"/><stop offset="0.3542" stop-color="#ffe800"/><stop offset="0.3750" stop-color="#fffd00"/><stop offset="0.3958" stop-color="#ebff00"/><stop offset="0.4167" stop-color="#d3ff00"/><stop offset="0.4375" stop-color="#baff00"/><stop offset="0.4583" stop-color="#a0ff00"/><stop offset="0.4792" stop-color="#85ff00"/><stop offset="0.5000" stop-color="#68ff00"/><stop offset="0.5208" stop-color="#4aff00"/><stop offset="0.5417" stop-color="#2bff00"/><stop offset="0.5625" stop-color="#0bff00"/><stop offset="0.5833" stop-color="#00ff16"/><stop offset="0.6042" stop-color="#00ff39"/><stop offset="0.6250" stop-color="#00ff5d"/><stop offset="0.6458" stop-color="#00ff82"/><stop offset="0.6667" stop-color="#00ffa8"/><stop offset="0.6875" stop-color="#00ffcf"/><stop offset="0.7083" stop-color="#00fff8"/><stop offset="0.7292" stop-color="#00dcff"/><stop offset="0.7500" stop-color="#00b1ff"/><stop offset="0.7708" stop-color="#0085ff"/><stop offset="0.7917" stop-color="#0057ff"/><stop offset="0.8125" stop-color="#0029ff"/><stop offset="0.8333" stop-color="#0000ff"/><stop offset="0.8542" stop-color="#0000ff"/><stop offset="0.8750" stop-color="#0000ff"/><stop offset="0.8958" stop-color="#0000ff"/><stop offset="0.9167" stop-color="#0000ff"/><stop offset="0.9375" stop-color="#0000ff"/><stop offset="0.9583" stop-color="#0000ff"/><stop offset="0.9792" stop-color="#0000ff"/><stop offset="1.0000" stop-color="#0000ff"/></radialGradient><clipPath id="cp2"><rect x="359.3" y="746.05" width="178.0" height="178.0"/></clipPath></defs>
<rect x="359.3" y="746.05" width="178.0" height="178.0" fill="url(#g2)"/>
<polyline clip-path="url(#cp2)" points="335.1,719.1 336.0,717.9 337.0,716.8 338.0,715.6 339.1,714.5 340.1,713.4 341.2,712.4 342.3,711.3 343.5,710.3 344.7,709.3 345.9,708.3 347.1,707.4 348.4,706.5 349.6,705.6 351.0,704.7 352.3,703.9 353.6,703.0 355.0,702.3 356.4,701.5 357.9,700.8 359.3,700.1 360.8,699.4 362.3,698.7 363.8,698.1 365.4,697.5 366.9,696.9 368.5,696.4 370.1,695.9 371.8,695.4 373.4,695.0 375.1,694.5 376.8,694.2 378.5,693.8 380.2,693.4 382.0,693.1 383.7,692.9 385.5,692.6 387.3,692.4 389.1,692.2 390.9,692.0 392.8,691.9 394.6,691.8 396.5,691.7 398.4,691.7 400.3,691.7 402.2,691.7 404.1,691.8 406.1,691.8 408.0,691.9 410.0,692.1 412.0,692.2 414.0,692.4 416.0,692.7 418.0,692.9 420.0,693.2 422.0,693.5 424.0,693.8 426.0,694.2 428.1,694.6 430.1,695.0 432.2,695.5 434.3,696.0 436.3,696.5 438.4,697.0 440.5,697.6 442.5,698.2 444.6,698.8 446.7,699.5 448.8,700.2 450.8,700.9 452.9,701.6 455.0,702.4 457.1,703.2 459.2,704.0 461.3,704.8 463.3,705.7 465.4,706.6 467.5,707.5 469.6,708.5 471.6,709.4 473.7,710.4 475.7,711.5 477.8,712.5 479.8,713.6 481.9,714.7 483.9,715.8 485.9,717.0 488.0,718.1 490.0,719.3 492.0,720.5 493.9,721.8 495.9,723.0 497.9,724.3 499.9,725.6 501.8,726.9 503.7,728.3 505.7,729.7 507.6,731.0 509.5,732.4 511.3,733.9 513.2,735.3 515.1,736.8 516.9,738.3 518.7,739.8 520.5,741.3 522.3,742.8 524.1,744.4 525.8,745.9 527.6,747.5 529.3,749.1 531.0,750.7 532.7,752.4 534.3,754.0 536.0,755.7 537.6,757.3 539.2,759.0 540.8,760.7 542.3,762.4 543.9,764.2 545.4,765.9 546.9,767.7 548.4,769.4 549.8,771.2 551.2,773.0 552.6,774.7 554.0,776.5 555.3,778.4 556.7,780.2 558.0,782.0 559.2,783.8 560.5,785.7 561.7,787.5 562.9,789.3 564.1,791.2 565.2,793.1 566.3,794.9 567.4,796.8 568.4,798.7 569.5,800.5 570.5,802.4 571.4,804.3 572.4,806.2 573.3,808.1 574.2,810.0 575.0,811.8 575.8,813.7 576.6,815.6 577.4,817.5 578.1,819.4 578.8,821.3 579.5,823.1 580.1,825.0 580.7,826.9 581.3,828.7 581.8,830.6 582.4,832.5 582.8,834.3 583.3,836.2 583.7,838.0 584.1,839.8 584.4,841.7 584.7,843.5 585.0,845.3 585.3,847.1 585.5,848.9 585.7,850.7 585.9,852.5 586.0,854.2 586.1,856.0 586.1,857.8 586.2,859.5 586.1,861.2 586.1,862.9 586.0,864.6 585.9,866.3 585.8,868.0 585.6,869.6 585.4,871.3 585.2,872.9 584.9,874.5 584.6,876.1 584.3,877.7 583.9,879.3 583.5,880.8 583.1,882.3 582.6,883.9 582.1,885.4 581.6,886.8 581.1,888.3 580.5,889.7 579.8,891.2 579.2,892.6 578.5,893.9 577.8,895.3 577.1,896.7 576.3,898.0 575.5,899.3 574.6,900.6 573.8,901.8 572.9,903.0 572.0,904.3 571.0,905.4 570.0,906.6 569.0,907.7 568.0,908.9 566.9,910.0 565.8,911.0 564.7,912.1 563.5,913.1 562.4,914.1 561.2,915.1 559.9,916.0 558.7,916.9 557.4,917.8 556.1,918.7 554.8,919.5 553.4,920.3 552.0,921.1 550.6,921.9 549.2,922.6 547.7,923.3 546.2,924.0 544.7,924.7 543.2,925.3 541.7,925.9 540.1,926.4 538.5,927.0 536.9,927.5 535.3,928.0 533.6,928.4 532.0,928.8 530.3,929.2 528.6,929.6 526.8,929.9 525.1,930.2 523.3,930.5 521.5,930.8 519.7,931.0 517.9,931.2 516.1,931.3 514.3,931.5 512.4,931.6 510.5,931.6 508.6,931.7 506.7,931.7 504.8,931.7 502.9,931.6 501.0,931.6 499.0,931.5 497.0,931.3 495.1,931.2 493.1,931.0 491.1,930.7 489.1,930.5 487.1,930.2 485.1,929.9 483.0,929.5 481.0,929.2 479.0,928.8 476.9,928.3 474.8,927.9 472.8,927.4 470.7,926.9 468.7,926.3 466.6,925.8 464.5,925.2 462.4,924.6 460.4,923.9 458.3,923.2 456.2,922.5 454.1,921.8 452.0,921.0 449.9,920.2 447.9,919.4 445.8,918.6 443.7,917.7 441.6,916.8 439.6,915.9 437.5,914.9 435.4,913.9 433.4,912.9 431.3,911.9 429.2,910.9 427.2,909.8 425.2,908.7 423.1,907.6 421.1,906.4 419.1,905.3 417.1,904.1 415.1,902.8 413.1,901.6 411.1,900.4 409.1,899.1 407.2,897.8 405.2,896.4 403.3,895.1 401.4,893.7 399.5,892.3 397.6,890.9 395.7,889.5 393.8,888.1 392.0,886.6 390.1,885.1 388.3,883.6 386.5,882.1 384.7,880.6 382.9,879.0 381.2,877.5 379.5,875.9 377.7,874.3 376.0,872.7 374.4,871.0 372.7,869.4 371.1,867.7 369.4,866.0 367.8,864.4 366.3,862.7 364.7,860.9 363.2,859.2 361.6,857.5 360.2,855.7 358.7,854.0 357.2,852.2 355.8,850.4 354.4,848.6 353.0,846.8 351.7,845.0 350.4,843.2 349.1,841.4 347.8,839.6 346.6,837.7 345.3,835.9 344.2,834.0 343.0,832.2 341.9,830.3 340.7,828.5 339.7,826.6 338.6,824.7 337.6,822.8 336.6,821.0 335.6,819.1 334.7,817.2 333.8,815.3 332.9,813.4 332.0,811.5 331.2,809.7 330.4,807.8 329.7,805.9 328.9,804.0 328.2,802.1 327.6,800.3 326.9,798.4 326.3,796.5 325.7,794.6 325.2,792.8 324.7,790.9 324.2,789.1 323.8,787.2 323.3,785.4 323.0,783.5 322.6,781.7 322.3,779.9 322.0,778.1 321.8,776.3 321.5,774.5 321.3,772.7 321.2,770.9 321.1,769.1 321.0,767.4 320.9,765.6 320.9,763.9 320.9,762.2 320.9,760.5 321.0,758.8 321.1,757.1 321.3,755.4 321.4,753.8 321.6,752.1 321.9,750.5 322.1,748.9 322.4,747.3 322.8,745.7 323.1,744.1 323.5,742.6 324.0,741.0 324.4,739.5 324.9,738.0 325.4,736.5 326.0,735.1 326.6,733.6 327.2,732.2 327.8,730.8 328.5,729.4 329.2,728.1 330.0,726.7 330.8,725.4 331.6,724.1 332.4,722.8 333.3,721.6 334.2,720.3 335.1,719.1" fill="none" stroke="#33330c" stroke-opacity="0.8" stroke-width="0.6"/>
<polyline clip-path="url(#cp2)" points="358.1,737.1 358.9,736.2 359.6,735.2 360.5,734.3 361.3,733.4 362.2,732.5 363.0,731.7 363.9,730.8 364.9,730.0 365.8,729.2 366.8,728.4 367.8,727.6 368.8,726.9 369.8,726.2 370.9,725.5 371.9,724.8 373.0,724.1 374.2,723.5 375.3,722.9 376.4,722.3 377.6,721.7 378.8,721.2 380.0,720.7 381.2,720.2 382.5,719.7 383.8,719.2 385.0,718.8 386.3,718.4 387.6,718.0 389.0,717.6 390.3,717.3 391.7,717.0 393.1,716.7 394.5,716.4 395.9,716.2 397.3,715.9 398.7,715.7 400.2,715.6 401.6,715.4 403.1,715.3 404.6,715.2 406.1,715.1 407.6,715.0 409.1,715.0 410.6,715.0 412.2,715.0 413.7,715.0 415.3,715.1 416.9,715.2 418.5,715.3 420.0,715.4 421.6,715.6 423.3,715.8 424.9,716.0 426.5,716.2 428.1,716.5 429.7,716.7 431.4,717.0 433.0,717.4 434.7,717.7 436.3,718.1 438.0,718.5 439.7,718.9 441.3,719.3 443.0,719.8 444.7,720.2 446.3,720.8 448.0,721.3 449.7,721.8 451.4,722.4 453.0,723.0 454.7,723.6 456.4,724.2 458.1,724.9 459.8,725.6 461.4,726.3 463.1,727.0 464.8,727.8 466.4,728.5 468.1,729.3 469.8,730.1 471.4,730.9 473.1,731.8 474.7,732.6 476.4,733.5 478.0,734.4 479.6,735.4 481.3,736.3 482.9,737.3 484.5,738.2 486.1,739.2 487.7,740.3 489.3,741.3 490.9,742.3 492.4,743.4 494.0,744.5 495.5,745.6 497.1,746.7 498.6,747.8 500.1,749.0 501.6,750.1 503.1,751.3 504.6,752.5 506.1,753.7 507.5,755.0 509.0,756.2 510.4,757.4 511.8,758.7 513.2,760.0 514.6,761.3 516.0,762.6 517.3,763.9 518.6,765.2 520.0,766.6 521.3,767.9 522.6,769.3 523.8,770.6 525.1,772.0 526.3,773.4 527.6,774.8 528.8,776.2 529.9,777.6 531.1,779.0 532.2,780.5 533.4,781.9 534.5,783.4 535.6,784.8 536.6,786.3 537.7,787.8 538.7,789.2 539.7,790.7 540.7,792.2 541.6,793.7 542.6,795.2 543.5,796.7 544.4,798.2 545.3,799.7 546.1,801.2 546.9,802.7 547.7,804.2 548.5,805.7 549.3,807.3 550.0,808.8 550.7,810.3 551.4,811.8 552.1,813.3 552.7,814.8 553.3,816.4 553.9,817.9 554.5,819.4 555.0,820.9 555.5,822.4 556.0,823.9 556.5,825.4 556.9,826.9 557.3,828.4 557.7,829.9 558.1,831.4 558.4,832.9 558.7,834.4 559.0,835.9 559.3,837.3 559.5,838.8 559.7,840.2 559.9,841.7 560.0,843.1 560.2,844.6 560.2,846.0 560.3,847.4 560.4,848.8 560.4,850.2 560.4,851.6 560.4,853.0 560.3,854.3 560.2,855.7 560.1,857.0 560.0,858.4 559.8,859.7 559.6,861.0 559.4,862.3 559.1,863.6 558.9,864.9 558.6,866.1 558.3,867.4 557.9,868.6 557.5,869.8 557.2,871.1 556.7,872.2 556.3,873.4 555.8,874.6 555.3,875.7 554.8,876.9 554.2,878.0 553.7,879.1 553.1,880.2 552.4,881.2 551.8,882.3 551.1,883.3 550.4,884.3 549.7,885.3 549.0,886.3 548.2,887.2 547.4,888.2 546.6,889.1 545.7,890.0 544.9,890.9 544.0,891.7 543.1,892.6 542.2,893.4 541.2,894.2 540.3,895.0 539.3,895.7 538.3,896.5 537.2,897.2 536.2,897.9 535.1,898.6 534.0,899.2 532.9,899.9 531.8,900.5 530.6,901.1 529.4,901.6 528.2,902.2 527.0,902.7 525.8,903.2 524.6,903.7 523.3,904.1 522.0,904.6 520.7,905.0 519.4,905.4 518.1,905.7 516.7,906.1 515.4,906.4 514.0,906.7 512.6,907.0 511.2,907.2 509.8,907.4 508.3,907.6 506.9,907.8 505.4,908.0 503.9,908.1 502.5,908.2 501.0,908.3 499.5,908.3 497.9,908.4 496.4,908.4 494.9,908.4 493.3,908.3 491.7,908.3 490.2,908.2 488.6,908.1 487.0,907.9 485.4,907.8 483.8,907.6 482.2,907.4 480.6,907.2 478.9,906.9 477.3,906.7 475.7,906.4 474.0,906.0 472.4,905.7 470.7,905.3 469.0,904.9 467.4,904.5 465.7,904.1 464.0,903.6 462.4,903.1 460.7,902.6 459.0,902.1 457.4,901.6 455.7,901.0 454.0,900.4 452.3,899.8 450.6,899.1 449.0,898.5 447.3,897.8 445.6,897.1 443.9,896.4 442.3,895.6 440.6,894.9 438.9,894.1 437.3,893.3 435.6,892.4 434.0,891.6 432.3,890.7 430.7,889.9 429.0,888.9 427.4,888.0 425.8,887.1 424.2,886.1 422.5,885.1 420.9,884.1 419.4,883.1 417.8,882.1 416.2,881.1 414.6,880.0 413.1,878.9 411.5,877.8 410.0,876.7 408.4,875.5 406.9,874.4 405.4,873.2 403.9,872.1 402.5,870.9 401.0,869.7 399.5,868.4 398.1,867.2 396.7,865.9 395.2,864.7 393.8,863.4 392.5,862.1 391.1,860.8 389.7,859.5 388.4,858.2 387.1,856.8 385.8,855.5 384.5,854.1 383.2,852.8 381.9,851.4 380.7,850.0 379.5,848.6 378.3,847.2 377.1,845.8 375.9,844.3 374.8,842.9 373.7,841.5 372.6,840.0 371.5,838.6 370.4,837.1 369.4,835.6 368.3,834.2 367.3,832.7 366.4,831.2 365.4,829.7 364.5,828.2 363.5,826.7 362.6,825.2 361.8,823.7 360.9,822.2 360.1,820.7 359.3,819.2 358.5,817.6 357.8,816.1 357.0,814.6 356.3,813.1 355.6,811.6 355.0,810.1 354.3,808.5 353.7,807.0 353.1,805.5 352.6,804.0 352.0,802.5 351.5,801.0 351.0,799.5 350.6,798.0 350.1,796.4 349.7,795.0 349.3,793.5 349.0,792.0 348.6,790.5 348.3,789.0 348.0,787.5 347.8,786.1 347.6,784.6 347.3,783.1 347.2,781.7 347.0,780.3 346.9,778.8 346.8,777.4 346.7,776.0 346.7,774.6 346.7,773.2 346.7,771.8 346.7,770.4 346.7,769.0 346.8,767.7 346.9,766.3 347.1,765.0 347.2,763.7 347.4,762.4 347.7,761.1 347.9,759.8 348.2,758.5 348.5,757.2 348.8,756.0 349.1,754.8 349.5,753.5 349.9,752.3 350.3,751.1 350.8,750.0 351.2,748.8 351.7,747.7 352.3,746.5 352.8,745.4 353.4,744.3 354.0,743.2 354.6,742.2 355.3,741.1 355.9,740.1 356.6,739.1 357.3,738.1 358.1,737.1" fill="none" stroke="#33330c" stroke-opacity="0.8" stroke-width="0.6"/>
<polyline clip-path="url(#cp2)" points="388.8,761.1 389.3,760.5 389.9,759.8 390.4,759.2 391.0,758.6 391.6,758.0 392.2,757.4 392.8,756.8 393.4,756.3 394.0,755.7 394.7,755.2 395.4,754.7 396.1,754.2 396.8,753.7 397.5,753.2 398.2,752.8 399.0,752.3 399.7,751.9 400.5,751.5 401.3,751.1 402.1,750.7 402.9,750.3 403.7,750.0 404.5,749.6 405.4,749.3 406.2,749.0 407.1,748.7 408.0,748.4 408.9,748.2 409.8,747.9 410.7,747.7 411.6,747.5 412.5,747.3 413.5,747.1 414.4,746.9 415.4,746.8 416.4,746.6 417.3,746.5 418.3,746.4 419.3,746.3 420.3,746.2 421.4,746.2 422.4,746.2 423.4,746.1 424.4,746.1 425.5,746.1 426.5,746.2 427.6,746.2 428.7,746.3 429.7,746.3 430.8,746.4 431.9,746.5 433.0,746.7 434.1,746.8 435.2,746.9 436.3,747.1 437.4,747.3 438.5,747.5 439.6,747.7 440.7,748.0 441.9,748.2 443.0,748.5 444.1,748.8 445.2,749.0 446.4,749.4 447.5,749.7 448.7,750.0 449.8,750.4 450.9,750.8 452.1,751.1 453.2,751.6 454.3,752.0 455.5,752.4 456.6,752.8 457.8,753.3 458.9,753.8 460.0,754.3 461.2,754.8 462.3,755.3 463.4,755.8 464.5,756.4 465.7,756.9 466.8,757.5 467.9,758.1 469.0,758.7 470.1,759.3 471.2,759.9 472.3,760.6 473.4,761.2 474.5,761.9 475.6,762.6 476.7,763.3 477.8,764.0 478.8,764.7 479.9,765.4 481.0,766.1 482.0,766.9 483.0,767.6 484.1,768.4 485.1,769.2 486.1,770.0 487.1,770.8 488.1,771.6 489.1,772.4 490.1,773.2 491.1,774.1 492.1,774.9 493.0,775.8 494.0,776.6 494.9,777.5 495.9,778.4 496.8,779.3 497.7,780.2 498.6,781.1 499.5,782.0 500.3,782.9 501.2,783.8 502.1,784.8 502.9,785.7 503.7,786.7 504.5,787.6 505.3,788.6 506.1,789.6 506.9,790.5 507.7,791.5 508.4,792.5 509.2,793.5 509.9,794.5 510.6,795.5 511.3,796.5 512.0,797.5 512.6,798.5 513.3,799.5 513.9,800.5 514.5,801.5 515.1,802.5 515.7,803.6 516.3,804.6 516.9,805.6 517.4,806.6 517.9,807.7 518.5,808.7 519.0,809.7 519.4,810.7 519.9,811.8 520.3,812.8 520.8,813.8 521.2,814.9 521.6,815.9 522.0,816.9 522.3,817.9 522.7,819.0 523.0,820.0 523.3,821.0 523.6,822.0 523.9,823.0 524.2,824.1 524.4,825.1 524.6,826.1 524.9,827.1 525.0,828.1 525.2,829.1 525.4,830.1 525.5,831.0 525.6,832.0 525.7,833.0 525.8,834.0 525.9,834.9 525.9,835.9 526.0,836.9 526.0,837.8 526.0,838.7 526.0,839.7 525.9,840.6 525.9,841.5 525.8,842.4 525.7,843.3 525.6,844.2 525.5,845.1 525.3,846.0 525.1,846.9 525.0,847.8 524.8,848.6 524.5,849.5 524.3,850.3 524.1,851.1 523.8,851.9 523.5,852.8 523.2,853.5 522.9,854.3 522.5,855.1 522.2,855.9 521.8,856.6 521.4,857.4 521.0,858.1 520.6,858.8 520.2,859.5 519.7,860.2 519.2,860.9 518.7,861.6 518.2,862.3 517.7,862.9 517.2,863.5 516.6,864.2 516.1,864.8 515.5,865.4 514.9,866.0 514.3,866.5 513.6,867.1 513.0,867.6 512.3,868.2 511.7,868.7 511.0,869.2 510.3,869.7 509.6,870.1 508.8,870.6 508.1,871.1 507.3,871.5 506.6,871.9 505.8,872.3 505.0,872.7 504.2,873.1 503.4,873.4 502.5,873.8 501.7,874.1 500.8,874.4 500.0,874.7 499.1,875.0 498.2,875.2 497.3,875.5 496.4,875.7 495.5,875.9 494.5,876.1 493.6,876.3 492.6,876.5 491.7,876.6 490.7,876.8 489.7,876.9 488.7,877.0 487.7,877.1 486.7,877.1 485.7,877.2 484.7,877.2 483.6,877.3 482.6,877.3 481.5,877.2 480.5,877.2 479.4,877.2 478.4,877.1 477.3,877.1 476.2,877.0 475.1,876.9 474.0,876.7 473.0,876.6 471.9,876.4 470.8,876.3 469.6,876.1 468.5,875.9 467.4,875.7 466.3,875.4 465.2,875.2 464.0,874.9 462.9,874.6 461.8,874.3 460.7,874.0 459.5,873.7 458.4,873.4 457.3,873.0 456.1,872.6 455.0,872.2 453.8,871.8 452.7,871.4 451.6,871.0 450.4,870.5 449.3,870.1 448.2,869.6 447.0,869.1 445.9,868.6 444.8,868.1 443.6,867.6 442.5,867.0 441.4,866.4 440.3,865.9 439.1,865.3 438.0,864.7 436.9,864.1 435.8,863.5 434.7,862.8 433.6,862.2 432.5,861.5 431.4,860.8 430.4,860.1 429.3,859.4 428.2,858.7 427.1,858.0 426.1,857.3 425.0,856.5 424.0,855.8 423.0,855.0 421.9,854.2 420.9,853.4 419.9,852.6 418.9,851.8 417.9,851.0 416.9,850.2 415.9,849.3 415.0,848.5 414.0,847.6 413.1,846.8 412.1,845.9 411.2,845.0 410.3,844.1 409.4,843.2 408.5,842.3 407.6,841.4 406.7,840.5 405.8,839.5 405.0,838.6 404.1,837.7 403.3,836.7 402.5,835.8 401.7,834.8 400.9,833.8 400.1,832.9 399.4,831.9 398.6,830.9 397.9,829.9 397.2,828.9 396.5,827.9 395.8,826.9 395.1,825.9 394.4,824.9 393.8,823.9 393.1,822.9 392.5,821.9 391.9,820.9 391.3,819.8 390.7,818.8 390.2,817.8 389.6,816.8 389.1,815.7 388.6,814.7 388.1,813.7 387.6,812.6 387.1,811.6 386.7,810.6 386.3,809.6 385.8,808.5 385.4,807.5 385.1,806.5 384.7,805.4 384.4,804.4 384.0,803.4 383.7,802.4 383.4,801.4 383.1,800.3 382.9,799.3 382.6,798.3 382.4,797.3 382.2,796.3 382.0,795.3 381.8,794.3 381.7,793.3 381.5,792.3 381.4,791.4 381.3,790.4 381.2,789.4 381.2,788.4 381.1,787.5 381.1,786.5 381.1,785.6 381.1,784.6 381.1,783.7 381.1,782.8 381.2,781.9 381.3,780.9 381.3,780.0 381.5,779.1 381.6,778.2 381.7,777.4 381.9,776.5 382.1,775.6 382.3,774.8 382.5,773.9 382.7,773.1 383.0,772.3 383.3,771.4 383.5,770.6 383.8,769.8 384.2,769.0 384.5,768.3 384.9,767.5 385.2,766.8 385.6,766.0 386.0,765.3 386.4,764.6 386.9,763.8 387.3,763.1 387.8,762.5 388.3,761.8 388.8,761.1" fill="none" stroke="#33330c" stroke-opacity="0.8" stroke-width="0.6"/>
<rect x="359.3" y="746.05" width="178.0" height="178.0" fill="none" stroke="#555" stroke-width="0.5"/>
<path d="M359.3,924.0v4.5" stroke="#555" stroke-width="0.5"/>
<text x="359.3" y="933.9" font-family="Liberation Sans, sans-serif" font-size="3.9" fill="#3a3a3a" text-anchor="middle">14</text>
<path d="M359.3,924.0h-4.5" stroke="#555" stroke-width="0.5"/>
<text x="353.0" y="925.4" font-family="Liberation Sans, sans-serif" font-size="3.9" fill="#3a3a3a" text-anchor="end">300</text>
<path d="M403.8,924.0v4.5" stroke="#555" stroke-width="0.5"/>
<text x="403.8" y="933.9" font-family="Liberation Sans, sans-serif" font-size="3.9" fill="#3a3a3a" text-anchor="middle">16</text>
<path d="M359.3,879.5h-4.5" stroke="#555" stroke-width="0.5"/>
<text x="353.0" y="880.9" font-family="Liberation Sans, sans-serif" font-size="3.9" fill="#3a3a3a" text-anchor="end">350</text>
<path d="M448.3,924.0v4.5" stroke="#555" stroke-width="0.5"/>
<text x="448.3" y="933.9" font-family="Liberation Sans, sans-serif" font-size="3.9" fill="#3a3a3a" text-anchor="middle">18</text>
<path d="M359.3,835.0h-4.5" stroke="#555" stroke-width="0.5"/>
<text x="353.0" y="836.4" font-family="Liberation Sans, sans-serif" font-size="3.9" fill="#3a3a3a" text-anchor="end">400</text>
<path d="M492.8,924.0v4.5" stroke="#555" stroke-width="0.5"/>
<text x="492.8" y="933.9" font-family="Liberation Sans, sans-serif" font-size="3.9" fill="#3a3a3a" text-anchor="middle">20</text>
<path d="M359.3,790.5h-4.5" stroke="#555" stroke-width="0.5"/>
<text x="353.0" y="791.9" font-family="Liberation Sans, sans-serif" font-size="3.9" fill="#3a3a3a" text-anchor="end">450</text>
<path d="M537.3,924.0v4.5" stroke="#555" stroke-width="0.5"/>
<text x="537.3" y="933.9" font-family="Liberation Sans, sans-serif" font-size="3.9" fill="#3a3a3a" text-anchor="middle">22</text>
<path d="M359.3,746.0h-4.5" stroke="#555" stroke-width="0.5"/>
<text x="353.0" y="747.4" font-family="Liberation Sans, sans-serif" font-size="3.9" fill="#3a3a3a" text-anchor="end">500</text>
<rect x="477.8" y="873.8" width="4.5" height="3.4" fill="#fff" stroke="#777" stroke-width="0.4"/>
<text x="480.0" y="876.6" font-family="Liberation Sans, sans-serif" font-size="3" fill="#555" text-anchor="middle">18</text>
<rect x="424.9" y="885.3" width="6.5" height="3.4" fill="#fff" stroke="#777" stroke-width="0.4"/>
<text x="428.2" y="888.1" font-family="Liberation Sans, sans-serif" font-size="3" fill="#555" text-anchor="middle">17.5</text>
<rect x="402.1" y="892.8" width="4.8" height="3.4" fill="#fff" stroke="#777" stroke-width="0.4"/>
<text x="404.5" y="895.6" font-family="Liberation Sans, sans-serif" font-size="3" fill="#555" text-anchor="middle">17</text>
<rect x="516.8" y="761.9" width="6.5" height="3.4" fill="#fff" stroke="#777" stroke-width="0.4"/>
<text x="520.0" y="764.7" font-family="Liberation Sans, sans-serif" font-size="3" fill="#555" text-anchor="middle">17.5</text>
<rect x="529.1" y="746.8" width="4.8" height="3.4" fill="#fff" stroke="#777" stroke-width="0.4"/>
<text x="531.5" y="749.6" font-family="Liberation Sans, sans-serif" font-size="3" fill="#555" text-anchor="middle">17</text>
<circle cx="359.3" cy="746.0" r="1.9" fill="#c00000" stroke="#7a0000" stroke-width="0.3"/>
<circle cx="537.3" cy="746.0" r="1.9" fill="#c00000" stroke="#7a0000" stroke-width="0.3"/>
<circle cx="359.3" cy="924.0" r="1.9" fill="#c00000" stroke="#7a0000" stroke-width="0.3"/>
<circle cx="537.3" cy="924.0" r="1.9" fill="#c00000" stroke="#7a0000" stroke-width="0.3"/>
<circle cx="448.3" cy="835.0" r="1.9" fill="#b00000" stroke="#600" stroke-width="0.3"/>
<text x="445.1" y="836.3" font-family="Liberation Sans, sans-serif" font-size="3.6" fill="#722" text-anchor="end">5</text>
<text x="385.6" y="739.9" font-family="Liberation Serif, Noto Sans CJK SC, serif" font-weight="bold" font-size="10.35" fill="#111">Polysaccharides contents（%）</text>
<text x="390.8" y="945.3" font-family="Liberation Serif, Noto Sans CJK SC, serif" font-weight="bold" font-size="10.35" fill="#111">B：Extraction time（min）</text>
<text x="334.6" y="786.4" transform="rotate(90 334.6 786.4)" font-family="Liberation Serif, Noto Sans CJK SC, serif" font-weight="bold" font-size="10.35" fill="#111">C：Ultrasonic power（W）</text>
</svg>
</body></html>
